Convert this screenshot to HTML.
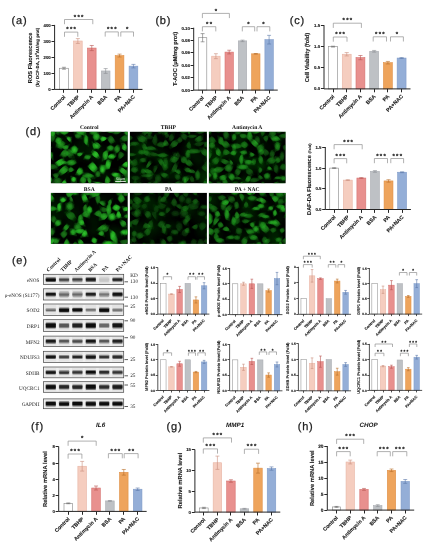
<!DOCTYPE html>
<html><head><meta charset="utf-8"><style>
html,body{margin:0;padding:0;background:#fff;width:427px;height:550px;overflow:hidden}
svg{display:block;text-rendering:geometricPrecision}
.tk{font-family:"Liberation Sans",Arial,sans-serif;font-weight:bold;fill:#1a1a1a;stroke:#1a1a1a;stroke-width:0.14px}
.yl{font-family:"Liberation Sans",Arial,sans-serif;font-weight:bold;fill:#1a1a1a;stroke:#1a1a1a;stroke-width:0.1px}
.st{font-family:"Liberation Sans",Arial,sans-serif;font-weight:bold;fill:#111;stroke:#111;stroke-width:0.2px}
.pl{font-family:"Liberation Sans",Arial,sans-serif;fill:#222;stroke:#222;stroke-width:0.25px;letter-spacing:0.8px}
.ti{font-family:"Liberation Sans",Arial,sans-serif;font-weight:bold;font-style:italic;fill:#111}
.ml{font-family:"Liberation Serif","Times New Roman",serif;font-weight:bold;fill:#111}
.bl{font-family:"Liberation Serif","Times New Roman",serif;fill:#222}
</style></head><body>
<svg width="427" height="550" viewBox="0 0 427 550">
<defs><filter id="blur1" x="-10%" y="-10%" width="120%" height="120%"><feGaussianBlur stdDeviation="0.5"/></filter><filter id="blur4" x="-10%" y="-10%" width="120%" height="120%"><feGaussianBlur stdDeviation="0.9"/></filter><filter id="blur3" x="-10%" y="-10%" width="120%" height="120%"><feGaussianBlur stdDeviation="2.5"/></filter><radialGradient id="cg"><stop offset="0" stop-color="#32c42e"/><stop offset="0.55" stop-color="#24ac22" stop-opacity="0.95"/><stop offset="1" stop-color="#168416" stop-opacity="0.25"/></radialGradient><filter id="blur2" x="-20%" y="-50%" width="140%" height="200%"><feGaussianBlur stdDeviation="0.55"/></filter></defs>
<rect width="427" height="550" fill="#fff"/>
<text x="11.60" y="23.50" font-size="11.00" class="pl">(a)</text>
<text x="155.40" y="23.80" font-size="11.00" class="pl">(b)</text>
<text x="289.70" y="23.80" font-size="11.00" class="pl">(c)</text>
<text x="25.60" y="134.70" font-size="11.00" class="pl">(d)</text>
<text x="11.90" y="264.40" font-size="11.00" class="pl">(e)</text>
<text x="31.10" y="429.60" font-size="11.00" class="pl">(f)</text>
<text x="166.60" y="429.60" font-size="11.00" class="pl">(g)</text>
<text x="297.70" y="429.70" font-size="11.00" class="pl">(h)</text>
<rect x="59.60" y="68.25" width="8.70" height="21.15" fill="#ffffff" stroke="#858585" stroke-width="0.60"/>
<path d="M63.95 69.21V67.29M61.93 67.29H65.97M61.93 69.21H65.97" stroke="#6a6a6a" stroke-width="0.6" fill="none"/>
<rect x="73.50" y="41.00" width="8.70" height="48.40" fill="#f5cdbf" stroke="#e8b4a4" stroke-width="0.60"/>
<path d="M77.85 43.41V38.60M75.83 38.60H79.87M75.83 43.41H79.87" stroke="#c98f7e" stroke-width="0.6" fill="none"/>
<rect x="87.40" y="48.06" width="8.70" height="41.34" fill="#e8908e" stroke="#d67270" stroke-width="0.60"/>
<path d="M91.75 50.62V45.49M89.73 45.49H93.77M89.73 50.62H93.77" stroke="#b85553" stroke-width="0.6" fill="none"/>
<rect x="101.30" y="70.97" width="8.70" height="18.43" fill="#bec1c5" stroke="#a9acb1" stroke-width="0.60"/>
<path d="M105.65 73.38V68.57M103.63 68.57H107.67M103.63 73.38H107.67" stroke="#8a8d92" stroke-width="0.6" fill="none"/>
<rect x="115.20" y="55.59" width="8.70" height="33.81" fill="#eea45c" stroke="#e09046" stroke-width="0.60"/>
<path d="M119.55 57.03V54.14M117.53 54.14H121.57M117.53 57.03H121.57" stroke="#b86e2a" stroke-width="0.6" fill="none"/>
<rect x="129.10" y="66.16" width="8.70" height="23.24" fill="#94aed7" stroke="#7f9bc9" stroke-width="0.60"/>
<path d="M133.45 67.93V64.40M131.43 64.40H135.47M131.43 67.93H135.47" stroke="#5c78aa" stroke-width="0.6" fill="none"/>
<path d="M54.60 24.90V89.40H142.48" stroke="#262626" stroke-width="1.00" fill="none"/>
<path d="M51.50 89.50H54.60" stroke="#262626" stroke-width="1.00"/>
<text x="50.70" y="90.95" font-size="4.30" class="tk" text-anchor="end">0</text>
<path d="M51.50 73.50H54.60" stroke="#262626" stroke-width="1.00"/>
<text x="50.70" y="74.92" font-size="4.30" class="tk" text-anchor="end">100</text>
<path d="M51.50 57.50H54.60" stroke="#262626" stroke-width="1.00"/>
<text x="50.70" y="58.90" font-size="4.30" class="tk" text-anchor="end">200</text>
<path d="M51.50 41.50H54.60" stroke="#262626" stroke-width="1.00"/>
<text x="50.70" y="42.87" font-size="4.30" class="tk" text-anchor="end">300</text>
<path d="M51.50 25.50H54.60" stroke="#262626" stroke-width="1.00"/>
<text x="50.70" y="26.85" font-size="4.30" class="tk" text-anchor="end">400</text>
<path d="M63.50 89.40V92.80" stroke="#262626" stroke-width="1.00"/>
<text transform="translate(65.75 97.40) rotate(-45)" font-size="5.30" class="tk" text-anchor="end">Control</text>
<path d="M77.50 89.40V92.80" stroke="#262626" stroke-width="1.00"/>
<text transform="translate(79.65 97.40) rotate(-45)" font-size="5.30" class="tk" text-anchor="end">TBHP</text>
<path d="M91.50 89.40V92.80" stroke="#262626" stroke-width="1.00"/>
<text transform="translate(93.55 97.40) rotate(-45)" font-size="5.30" class="tk" text-anchor="end">Antimycin A</text>
<path d="M105.50 89.40V92.80" stroke="#262626" stroke-width="1.00"/>
<text transform="translate(107.45 97.40) rotate(-45)" font-size="5.30" class="tk" text-anchor="end">BSA</text>
<path d="M119.50 89.40V92.80" stroke="#262626" stroke-width="1.00"/>
<text transform="translate(121.35 97.40) rotate(-45)" font-size="5.30" class="tk" text-anchor="end">PA</text>
<path d="M133.50 89.40V92.80" stroke="#262626" stroke-width="1.00"/>
<text transform="translate(135.25 97.40) rotate(-45)" font-size="5.30" class="tk" text-anchor="end">PA+NAC</text>
<path d="M64.50 24.20V19.50H92.80V24.20" stroke="#8f8f8f" stroke-width="0.7" fill="none"/>
<text x="79.30" y="18.70" font-size="6.00" class="st" text-anchor="middle" letter-spacing="1.30">***</text>
<path d="M64.50 36.80V32.10H77.80V36.80" stroke="#8f8f8f" stroke-width="0.7" fill="none"/>
<text x="71.80" y="31.30" font-size="6.00" class="st" text-anchor="middle" letter-spacing="1.30">***</text>
<path d="M105.20 36.60V31.90H118.30V36.60" stroke="#8f8f8f" stroke-width="0.7" fill="none"/>
<text x="112.40" y="31.10" font-size="6.00" class="st" text-anchor="middle" letter-spacing="1.30">***</text>
<path d="M120.80 36.60V31.90H133.50V36.60" stroke="#8f8f8f" stroke-width="0.7" fill="none"/>
<text x="127.80" y="31.10" font-size="6.00" class="st" text-anchor="middle" letter-spacing="1.30">*</text>
<text transform="translate(32.00 57.90) rotate(-90)" font-size="5.70" class="yl" text-anchor="middle">ROS Fluorescence</text>
<text transform="translate(38.70 57.30) rotate(-90)" font-size="4.40" class="yl" text-anchor="middle">(by DCF-DA, 10<tspan dy="-1.3" font-size="3.0">3</tspan><tspan dy="1.3">AU/mg prot)</tspan></text>
<rect x="198.40" y="37.71" width="8.40" height="52.39" fill="#ffffff" stroke="#858585" stroke-width="0.60"/>
<path d="M202.60 41.80V33.62M200.64 33.62H204.56M200.64 41.80H204.56" stroke="#6a6a6a" stroke-width="0.6" fill="none"/>
<rect x="211.70" y="56.19" width="8.40" height="33.91" fill="#f5cdbf" stroke="#e8b4a4" stroke-width="0.60"/>
<path d="M215.90 58.67V53.71M213.94 53.71H217.86M213.94 58.67H217.86" stroke="#c98f7e" stroke-width="0.6" fill="none"/>
<rect x="225.00" y="52.09" width="8.40" height="38.01" fill="#e8908e" stroke="#d67270" stroke-width="0.60"/>
<path d="M229.20 53.95V50.23M227.24 50.23H231.16M227.24 53.95H231.16" stroke="#b85553" stroke-width="0.6" fill="none"/>
<rect x="238.30" y="40.87" width="8.40" height="49.23" fill="#bec1c5" stroke="#a9acb1" stroke-width="0.60"/>
<path d="M242.50 41.62V40.13M240.54 40.13H244.46M240.54 41.62H244.46" stroke="#8a8d92" stroke-width="0.6" fill="none"/>
<rect x="251.60" y="53.83" width="8.40" height="36.27" fill="#eea45c" stroke="#e09046" stroke-width="0.60"/>
<path d="M255.80 54.14V53.52M253.84 53.52H257.76M253.84 54.14H257.76" stroke="#b86e2a" stroke-width="0.6" fill="none"/>
<rect x="264.90" y="39.69" width="8.40" height="50.41" fill="#94aed7" stroke="#7f9bc9" stroke-width="0.60"/>
<path d="M269.10 44.03V35.35M267.14 35.35H271.06M267.14 44.03H271.06" stroke="#5c78aa" stroke-width="0.6" fill="none"/>
<path d="M193.70 27.70V90.10H277.75" stroke="#262626" stroke-width="1.00" fill="none"/>
<path d="M190.60 90.50H193.70" stroke="#262626" stroke-width="1.00"/>
<text x="189.80" y="91.65" font-size="4.30" class="tk" text-anchor="end">0.00</text>
<path d="M190.60 77.50H193.70" stroke="#262626" stroke-width="1.00"/>
<text x="189.80" y="79.25" font-size="4.30" class="tk" text-anchor="end">0.02</text>
<path d="M190.60 65.50H193.70" stroke="#262626" stroke-width="1.00"/>
<text x="189.80" y="66.85" font-size="4.30" class="tk" text-anchor="end">0.04</text>
<path d="M190.60 52.50H193.70" stroke="#262626" stroke-width="1.00"/>
<text x="189.80" y="54.45" font-size="4.30" class="tk" text-anchor="end">0.06</text>
<path d="M190.60 40.50H193.70" stroke="#262626" stroke-width="1.00"/>
<text x="189.80" y="42.05" font-size="4.30" class="tk" text-anchor="end">0.08</text>
<path d="M190.60 28.50H193.70" stroke="#262626" stroke-width="1.00"/>
<text x="189.80" y="29.65" font-size="4.30" class="tk" text-anchor="end">0.10</text>
<path d="M202.50 90.10V93.50" stroke="#262626" stroke-width="1.00"/>
<text transform="translate(204.40 98.10) rotate(-45)" font-size="5.30" class="tk" text-anchor="end">Control</text>
<path d="M215.50 90.10V93.50" stroke="#262626" stroke-width="1.00"/>
<text transform="translate(217.70 98.10) rotate(-45)" font-size="5.30" class="tk" text-anchor="end">TBHP</text>
<path d="M229.50 90.10V93.50" stroke="#262626" stroke-width="1.00"/>
<text transform="translate(231.00 98.10) rotate(-45)" font-size="5.30" class="tk" text-anchor="end">Antimycin A</text>
<path d="M242.50 90.10V93.50" stroke="#262626" stroke-width="1.00"/>
<text transform="translate(244.30 98.10) rotate(-45)" font-size="5.30" class="tk" text-anchor="end">BSA</text>
<path d="M255.50 90.10V93.50" stroke="#262626" stroke-width="1.00"/>
<text transform="translate(257.60 98.10) rotate(-45)" font-size="5.30" class="tk" text-anchor="end">PA</text>
<path d="M269.50 90.10V93.50" stroke="#262626" stroke-width="1.00"/>
<text transform="translate(270.90 98.10) rotate(-45)" font-size="5.30" class="tk" text-anchor="end">PA+NAC</text>
<path d="M202.40 18.10V13.40H229.40V18.10" stroke="#8f8f8f" stroke-width="0.7" fill="none"/>
<text x="216.55" y="12.60" font-size="6.00" class="st" text-anchor="middle" letter-spacing="1.30">*</text>
<path d="M202.40 31.40V26.70H215.80V31.40" stroke="#8f8f8f" stroke-width="0.7" fill="none"/>
<text x="209.75" y="25.90" font-size="6.00" class="st" text-anchor="middle" letter-spacing="1.30">**</text>
<path d="M242.30 31.40V26.70H254.70V31.40" stroke="#8f8f8f" stroke-width="0.7" fill="none"/>
<text x="249.15" y="25.90" font-size="6.00" class="st" text-anchor="middle" letter-spacing="1.30">*</text>
<path d="M257.00 31.40V26.70H269.80V31.40" stroke="#8f8f8f" stroke-width="0.7" fill="none"/>
<text x="264.05" y="25.90" font-size="6.00" class="st" text-anchor="middle" letter-spacing="1.30">*</text>
<text transform="translate(177.30 58.90) rotate(-90)" font-size="5.70" class="yl" text-anchor="middle">T-AOC (μM/mg prot)</text>
<rect x="328.55" y="46.63" width="8.90" height="42.27" fill="#ffffff" stroke="#858585" stroke-width="0.60"/>
<path d="M333.00 47.06V46.21M330.93 46.21H335.07M330.93 47.06H335.07" stroke="#6a6a6a" stroke-width="0.6" fill="none"/>
<rect x="342.27" y="54.24" width="8.90" height="34.66" fill="#f5cdbf" stroke="#e8b4a4" stroke-width="0.60"/>
<path d="M346.72 55.93V52.55M344.65 52.55H348.79M344.65 55.93H348.79" stroke="#c98f7e" stroke-width="0.6" fill="none"/>
<rect x="355.99" y="57.62" width="8.90" height="31.28" fill="#e8908e" stroke="#d67270" stroke-width="0.60"/>
<path d="M360.44 59.74V55.51M358.37 55.51H362.51M358.37 59.74H362.51" stroke="#b85553" stroke-width="0.6" fill="none"/>
<rect x="369.71" y="51.28" width="8.90" height="37.62" fill="#bec1c5" stroke="#a9acb1" stroke-width="0.60"/>
<path d="M374.16 52.13V50.44M372.09 50.44H376.23M372.09 52.13H376.23" stroke="#8a8d92" stroke-width="0.6" fill="none"/>
<rect x="383.43" y="62.69" width="8.90" height="26.21" fill="#eea45c" stroke="#e09046" stroke-width="0.60"/>
<path d="M387.88 63.96V61.43M385.81 61.43H389.95M385.81 63.96H389.95" stroke="#b86e2a" stroke-width="0.6" fill="none"/>
<rect x="397.15" y="58.05" width="8.90" height="30.85" fill="#94aed7" stroke="#7f9bc9" stroke-width="0.60"/>
<path d="M401.60 58.47V57.62M399.53 57.62H403.67M399.53 58.47H403.67" stroke="#5c78aa" stroke-width="0.6" fill="none"/>
<path d="M324.00 25.10V88.90H410.52" stroke="#262626" stroke-width="1.00" fill="none"/>
<path d="M320.90 88.50H324.00" stroke="#262626" stroke-width="1.00"/>
<text x="320.10" y="90.45" font-size="4.30" class="tk" text-anchor="end">0.0</text>
<path d="M320.90 67.50H324.00" stroke="#262626" stroke-width="1.00"/>
<text x="320.10" y="69.31" font-size="4.30" class="tk" text-anchor="end">0.5</text>
<path d="M320.90 46.50H324.00" stroke="#262626" stroke-width="1.00"/>
<text x="320.10" y="48.18" font-size="4.30" class="tk" text-anchor="end">1.0</text>
<path d="M320.90 25.50H324.00" stroke="#262626" stroke-width="1.00"/>
<text x="320.10" y="27.05" font-size="4.30" class="tk" text-anchor="end">1.5</text>
<path d="M333.50 88.90V92.30" stroke="#262626" stroke-width="1.00"/>
<text transform="translate(334.80 96.90) rotate(-45)" font-size="5.30" class="tk" text-anchor="end">Control</text>
<path d="M346.50 88.90V92.30" stroke="#262626" stroke-width="1.00"/>
<text transform="translate(348.52 96.90) rotate(-45)" font-size="5.30" class="tk" text-anchor="end">TBHP</text>
<path d="M360.50 88.90V92.30" stroke="#262626" stroke-width="1.00"/>
<text transform="translate(362.24 96.90) rotate(-45)" font-size="5.30" class="tk" text-anchor="end">Antimycin A</text>
<path d="M374.50 88.90V92.30" stroke="#262626" stroke-width="1.00"/>
<text transform="translate(375.96 96.90) rotate(-45)" font-size="5.30" class="tk" text-anchor="end">BSA</text>
<path d="M387.50 88.90V92.30" stroke="#262626" stroke-width="1.00"/>
<text transform="translate(389.68 96.90) rotate(-45)" font-size="5.30" class="tk" text-anchor="end">PA</text>
<path d="M401.50 88.90V92.30" stroke="#262626" stroke-width="1.00"/>
<text transform="translate(403.40 96.90) rotate(-45)" font-size="5.30" class="tk" text-anchor="end">PA+NAC</text>
<path d="M333.30 27.90V23.20H361.40V27.90" stroke="#8f8f8f" stroke-width="0.7" fill="none"/>
<text x="348.00" y="22.40" font-size="6.00" class="st" text-anchor="middle" letter-spacing="1.30">***</text>
<path d="M333.30 41.70V37.00H347.00V41.70" stroke="#8f8f8f" stroke-width="0.7" fill="none"/>
<text x="340.80" y="36.20" font-size="6.00" class="st" text-anchor="middle" letter-spacing="1.30">***</text>
<path d="M373.20 41.50V36.80H386.50V41.50" stroke="#8f8f8f" stroke-width="0.7" fill="none"/>
<text x="380.50" y="36.00" font-size="6.00" class="st" text-anchor="middle" letter-spacing="1.30">***</text>
<path d="M390.50 41.50V36.80H403.40V41.50" stroke="#8f8f8f" stroke-width="0.7" fill="none"/>
<text x="397.60" y="36.00" font-size="6.00" class="st" text-anchor="middle" letter-spacing="1.30">*</text>
<text transform="translate(309.40 57.60) rotate(-90)" font-size="5.70" class="yl" text-anchor="middle">Cell Viability (fold)</text>
<rect x="329.75" y="168.10" width="8.90" height="41.40" fill="#ffffff" stroke="#858585" stroke-width="0.60"/>
<path d="M334.20 168.51V167.69M332.13 167.69H336.27M332.13 168.51H336.27" stroke="#6a6a6a" stroke-width="0.6" fill="none"/>
<rect x="343.33" y="180.11" width="8.90" height="29.39" fill="#f5cdbf" stroke="#e8b4a4" stroke-width="0.60"/>
<path d="M347.78 180.52V179.69M345.71 179.69H349.85M345.71 180.52H349.85" stroke="#c98f7e" stroke-width="0.6" fill="none"/>
<rect x="356.91" y="178.04" width="8.90" height="31.46" fill="#e8908e" stroke="#d67270" stroke-width="0.60"/>
<path d="M361.36 178.45V177.62M359.29 177.62H363.43M359.29 178.45H363.43" stroke="#b85553" stroke-width="0.6" fill="none"/>
<rect x="370.49" y="171.41" width="8.90" height="38.09" fill="#bec1c5" stroke="#a9acb1" stroke-width="0.60"/>
<path d="M374.94 172.24V170.58M372.87 170.58H377.01M372.87 172.24H377.01" stroke="#8a8d92" stroke-width="0.6" fill="none"/>
<rect x="384.07" y="180.93" width="8.90" height="28.57" fill="#eea45c" stroke="#e09046" stroke-width="0.60"/>
<path d="M388.52 182.18V179.69M386.45 179.69H390.59M386.45 182.18H390.59" stroke="#b86e2a" stroke-width="0.6" fill="none"/>
<rect x="397.65" y="172.24" width="8.90" height="37.26" fill="#94aed7" stroke="#7f9bc9" stroke-width="0.60"/>
<path d="M402.10 172.65V171.83M400.03 171.83H404.17M400.03 172.65H404.17" stroke="#5c78aa" stroke-width="0.6" fill="none"/>
<path d="M325.30 147.00V209.50H410.93" stroke="#262626" stroke-width="1.00" fill="none"/>
<path d="M322.20 209.50H325.30" stroke="#262626" stroke-width="1.00"/>
<text x="321.40" y="211.05" font-size="4.30" class="tk" text-anchor="end">0.0</text>
<path d="M322.20 188.50H325.30" stroke="#262626" stroke-width="1.00"/>
<text x="321.40" y="190.35" font-size="4.30" class="tk" text-anchor="end">0.5</text>
<path d="M322.20 168.50H325.30" stroke="#262626" stroke-width="1.00"/>
<text x="321.40" y="169.65" font-size="4.30" class="tk" text-anchor="end">1.0</text>
<path d="M322.20 147.50H325.30" stroke="#262626" stroke-width="1.00"/>
<text x="321.40" y="148.95" font-size="4.30" class="tk" text-anchor="end">1.5</text>
<path d="M334.50 209.50V212.90" stroke="#262626" stroke-width="1.00"/>
<text transform="translate(336.00 217.50) rotate(-45)" font-size="5.30" class="tk" text-anchor="end">Control</text>
<path d="M347.50 209.50V212.90" stroke="#262626" stroke-width="1.00"/>
<text transform="translate(349.58 217.50) rotate(-45)" font-size="5.30" class="tk" text-anchor="end">TBHP</text>
<path d="M361.50 209.50V212.90" stroke="#262626" stroke-width="1.00"/>
<text transform="translate(363.16 217.50) rotate(-45)" font-size="5.30" class="tk" text-anchor="end">Antimycin A</text>
<path d="M374.50 209.50V212.90" stroke="#262626" stroke-width="1.00"/>
<text transform="translate(376.74 217.50) rotate(-45)" font-size="5.30" class="tk" text-anchor="end">BSA</text>
<path d="M388.50 209.50V212.90" stroke="#262626" stroke-width="1.00"/>
<text transform="translate(390.32 217.50) rotate(-45)" font-size="5.30" class="tk" text-anchor="end">PA</text>
<path d="M402.50 209.50V212.90" stroke="#262626" stroke-width="1.00"/>
<text transform="translate(403.90 217.50) rotate(-45)" font-size="5.30" class="tk" text-anchor="end">PA+NAC</text>
<path d="M334.10 149.30V144.60H362.20V149.30" stroke="#8f8f8f" stroke-width="0.7" fill="none"/>
<text x="348.80" y="143.80" font-size="6.00" class="st" text-anchor="middle" letter-spacing="1.30">***</text>
<path d="M334.10 163.30V158.60H346.70V163.30" stroke="#8f8f8f" stroke-width="0.7" fill="none"/>
<text x="341.05" y="157.80" font-size="6.00" class="st" text-anchor="middle" letter-spacing="1.30">***</text>
<path d="M374.40 163.20V158.50H387.50V163.20" stroke="#8f8f8f" stroke-width="0.7" fill="none"/>
<text x="381.60" y="157.70" font-size="6.00" class="st" text-anchor="middle" letter-spacing="1.30">***</text>
<path d="M390.80 163.20V158.50H403.60V163.20" stroke="#8f8f8f" stroke-width="0.7" fill="none"/>
<text x="397.85" y="157.70" font-size="6.00" class="st" text-anchor="middle" letter-spacing="1.30">***</text>
<text transform="translate(311.00 185.00) rotate(-90)" font-size="5.70" class="yl" text-anchor="middle">DAF-DA Fluorescence</text>
<text transform="translate(310.60 148.60) rotate(-90)" font-size="3.60" class="yl" text-anchor="middle">(Fold)</text>
<rect x="160.55" y="283.30" width="5.50" height="30.80" fill="#ffffff" stroke="#858585" stroke-width="0.50"/>
<rect x="168.71" y="294.08" width="5.50" height="20.02" fill="#f5cdbf" stroke="#e8b4a4" stroke-width="0.50"/>
<path d="M171.46 294.39V293.77M170.14 293.77H172.78M170.14 294.39H172.78" stroke="#c98f7e" stroke-width="0.6" fill="none"/>
<rect x="176.87" y="289.46" width="5.50" height="24.64" fill="#e8908e" stroke="#d67270" stroke-width="0.50"/>
<path d="M179.62 292.54V286.38M178.30 286.38H180.94M178.30 292.54H180.94" stroke="#b85553" stroke-width="0.6" fill="none"/>
<rect x="185.03" y="283.30" width="5.50" height="30.80" fill="#bec1c5" stroke="#a9acb1" stroke-width="0.50"/>
<rect x="193.19" y="299.93" width="5.50" height="14.17" fill="#eea45c" stroke="#e09046" stroke-width="0.50"/>
<path d="M195.94 303.01V296.85M194.62 296.85H197.26M194.62 303.01H197.26" stroke="#b86e2a" stroke-width="0.6" fill="none"/>
<rect x="201.35" y="285.76" width="5.50" height="28.34" fill="#94aed7" stroke="#7f9bc9" stroke-width="0.50"/>
<path d="M204.10 288.84V282.68M202.78 282.68H205.42M202.78 288.84H205.42" stroke="#5c78aa" stroke-width="0.6" fill="none"/>
<path d="M157.80 267.50V314.10H209.40" stroke="#262626" stroke-width="0.80" fill="none"/>
<path d="M155.70 314.50H157.80" stroke="#262626" stroke-width="0.80"/>
<text x="155.10" y="315.25" font-size="3.20" class="tk" text-anchor="end">0.0</text>
<path d="M155.70 298.50H157.80" stroke="#262626" stroke-width="0.80"/>
<text x="155.10" y="299.85" font-size="3.20" class="tk" text-anchor="end">0.5</text>
<path d="M155.70 283.50H157.80" stroke="#262626" stroke-width="0.80"/>
<text x="155.10" y="284.45" font-size="3.20" class="tk" text-anchor="end">1.0</text>
<path d="M155.70 267.50H157.80" stroke="#262626" stroke-width="0.80"/>
<text x="155.10" y="269.05" font-size="3.20" class="tk" text-anchor="end">1.5</text>
<path d="M163.50 314.10V316.10" stroke="#262626" stroke-width="0.80"/>
<text transform="translate(164.20 320.90) rotate(-45)" font-size="3.75" class="tk" text-anchor="end">Control</text>
<path d="M171.50 314.10V316.10" stroke="#262626" stroke-width="0.80"/>
<text transform="translate(172.36 320.90) rotate(-45)" font-size="3.75" class="tk" text-anchor="end">TBHP</text>
<path d="M179.50 314.10V316.10" stroke="#262626" stroke-width="0.80"/>
<text transform="translate(180.52 320.90) rotate(-45)" font-size="3.75" class="tk" text-anchor="end">Antimycin A</text>
<path d="M187.50 314.10V316.10" stroke="#262626" stroke-width="0.80"/>
<text transform="translate(188.68 320.90) rotate(-45)" font-size="3.75" class="tk" text-anchor="end">BSA</text>
<path d="M195.50 314.10V316.10" stroke="#262626" stroke-width="0.80"/>
<text transform="translate(196.84 320.90) rotate(-45)" font-size="3.75" class="tk" text-anchor="end">PA</text>
<path d="M204.50 314.10V316.10" stroke="#262626" stroke-width="0.80"/>
<text transform="translate(205.00 320.90) rotate(-45)" font-size="3.75" class="tk" text-anchor="end">PA+NAC</text>
<path d="M163.30 279.70V276.70H171.60V279.70" stroke="#8f8f8f" stroke-width="0.7" fill="none"/>
<text x="168.10" y="276.48" font-size="4.50" class="st" text-anchor="middle" letter-spacing="1.30">*</text>
<path d="M188.00 279.70V276.70H195.50V279.70" stroke="#8f8f8f" stroke-width="0.7" fill="none"/>
<text x="192.40" y="276.48" font-size="4.50" class="st" text-anchor="middle" letter-spacing="1.30">**</text>
<path d="M197.00 279.70V276.70H204.50V279.70" stroke="#8f8f8f" stroke-width="0.7" fill="none"/>
<text x="201.40" y="276.48" font-size="4.50" class="st" text-anchor="middle" letter-spacing="1.30">**</text>
<text transform="translate(147.90 290.50) rotate(-90)" font-size="4.00" class="yl" text-anchor="middle">eNOS Protein level (Fold)</text>
<rect x="232.35" y="283.80" width="5.50" height="30.80" fill="#ffffff" stroke="#858585" stroke-width="0.50"/>
<rect x="240.73" y="283.80" width="5.50" height="30.80" fill="#f5cdbf" stroke="#e8b4a4" stroke-width="0.50"/>
<path d="M243.48 285.34V282.26M242.16 282.26H244.80M242.16 285.34H244.80" stroke="#c98f7e" stroke-width="0.6" fill="none"/>
<rect x="249.11" y="283.80" width="5.50" height="30.80" fill="#e8908e" stroke="#d67270" stroke-width="0.50"/>
<path d="M251.86 288.42V279.18M250.54 279.18H253.18M250.54 288.42H253.18" stroke="#b85553" stroke-width="0.6" fill="none"/>
<rect x="257.49" y="283.80" width="5.50" height="30.80" fill="#bec1c5" stroke="#a9acb1" stroke-width="0.50"/>
<rect x="265.87" y="290.58" width="5.50" height="24.02" fill="#eea45c" stroke="#e09046" stroke-width="0.50"/>
<path d="M268.62 292.12V289.04M267.30 289.04H269.94M267.30 292.12H269.94" stroke="#b86e2a" stroke-width="0.6" fill="none"/>
<rect x="274.25" y="278.56" width="5.50" height="36.04" fill="#94aed7" stroke="#7f9bc9" stroke-width="0.50"/>
<path d="M277.00 284.72V272.40M275.68 272.40H278.32M275.68 284.72H278.32" stroke="#5c78aa" stroke-width="0.6" fill="none"/>
<path d="M229.60 268.00V314.60H282.45" stroke="#262626" stroke-width="0.80" fill="none"/>
<path d="M227.50 314.50H229.60" stroke="#262626" stroke-width="0.80"/>
<text x="226.90" y="315.75" font-size="3.20" class="tk" text-anchor="end">0.0</text>
<path d="M227.50 299.50H229.60" stroke="#262626" stroke-width="0.80"/>
<text x="226.90" y="300.35" font-size="3.20" class="tk" text-anchor="end">0.5</text>
<path d="M227.50 283.50H229.60" stroke="#262626" stroke-width="0.80"/>
<text x="226.90" y="284.95" font-size="3.20" class="tk" text-anchor="end">1.0</text>
<path d="M227.50 268.50H229.60" stroke="#262626" stroke-width="0.80"/>
<text x="226.90" y="269.55" font-size="3.20" class="tk" text-anchor="end">1.5</text>
<path d="M235.50 314.60V316.60" stroke="#262626" stroke-width="0.80"/>
<text transform="translate(236.00 321.40) rotate(-45)" font-size="3.75" class="tk" text-anchor="end">Control</text>
<path d="M243.50 314.60V316.60" stroke="#262626" stroke-width="0.80"/>
<text transform="translate(244.38 321.40) rotate(-45)" font-size="3.75" class="tk" text-anchor="end">TBHP</text>
<path d="M251.50 314.60V316.60" stroke="#262626" stroke-width="0.80"/>
<text transform="translate(252.76 321.40) rotate(-45)" font-size="3.75" class="tk" text-anchor="end">Antimycin A</text>
<path d="M260.50 314.60V316.60" stroke="#262626" stroke-width="0.80"/>
<text transform="translate(261.14 321.40) rotate(-45)" font-size="3.75" class="tk" text-anchor="end">BSA</text>
<path d="M268.50 314.60V316.60" stroke="#262626" stroke-width="0.80"/>
<text transform="translate(269.52 321.40) rotate(-45)" font-size="3.75" class="tk" text-anchor="end">PA</text>
<path d="M277.50 314.60V316.60" stroke="#262626" stroke-width="0.80"/>
<text transform="translate(277.90 321.40) rotate(-45)" font-size="3.75" class="tk" text-anchor="end">PA+NAC</text>
<text transform="translate(219.70 291.00) rotate(-90)" font-size="4.00" class="yl" text-anchor="middle">p-eNOS Protein level (Fold)</text>
<rect x="300.95" y="298.60" width="5.50" height="15.70" fill="#ffffff" stroke="#858585" stroke-width="0.50"/>
<rect x="309.33" y="275.83" width="5.50" height="38.47" fill="#f5cdbf" stroke="#e8b4a4" stroke-width="0.50"/>
<path d="M312.08 282.12V269.56M310.76 269.56H313.40M310.76 282.12H313.40" stroke="#c98f7e" stroke-width="0.6" fill="none"/>
<rect x="317.71" y="278.66" width="5.50" height="35.64" fill="#e8908e" stroke="#d67270" stroke-width="0.50"/>
<path d="M320.46 279.45V277.88M319.14 277.88H321.78M319.14 279.45H321.78" stroke="#b85553" stroke-width="0.6" fill="none"/>
<rect x="326.09" y="298.60" width="5.50" height="15.70" fill="#bec1c5" stroke="#a9acb1" stroke-width="0.50"/>
<rect x="334.47" y="281.02" width="5.50" height="33.28" fill="#eea45c" stroke="#e09046" stroke-width="0.50"/>
<path d="M337.22 282.90V279.13M335.90 279.13H338.54M335.90 282.90H338.54" stroke="#b86e2a" stroke-width="0.6" fill="none"/>
<rect x="342.85" y="292.32" width="5.50" height="21.98" fill="#94aed7" stroke="#7f9bc9" stroke-width="0.50"/>
<path d="M345.60 294.20V290.44M344.28 290.44H346.92M344.28 294.20H346.92" stroke="#5c78aa" stroke-width="0.6" fill="none"/>
<path d="M298.40 266.80V314.30H351.05" stroke="#262626" stroke-width="0.80" fill="none"/>
<path d="M296.30 314.50H298.40" stroke="#262626" stroke-width="0.80"/>
<text x="295.70" y="315.45" font-size="3.20" class="tk" text-anchor="end">0</text>
<path d="M296.30 298.50H298.40" stroke="#262626" stroke-width="0.80"/>
<text x="295.70" y="299.75" font-size="3.20" class="tk" text-anchor="end">1</text>
<path d="M296.30 282.50H298.40" stroke="#262626" stroke-width="0.80"/>
<text x="295.70" y="284.05" font-size="3.20" class="tk" text-anchor="end">2</text>
<path d="M296.30 267.50H298.40" stroke="#262626" stroke-width="0.80"/>
<text x="295.70" y="268.35" font-size="3.20" class="tk" text-anchor="end">3</text>
<path d="M303.50 314.30V316.30" stroke="#262626" stroke-width="0.80"/>
<text transform="translate(304.60 321.10) rotate(-45)" font-size="3.75" class="tk" text-anchor="end">Control</text>
<path d="M312.50 314.30V316.30" stroke="#262626" stroke-width="0.80"/>
<text transform="translate(312.98 321.10) rotate(-45)" font-size="3.75" class="tk" text-anchor="end">TBHP</text>
<path d="M320.50 314.30V316.30" stroke="#262626" stroke-width="0.80"/>
<text transform="translate(321.36 321.10) rotate(-45)" font-size="3.75" class="tk" text-anchor="end">Antimycin A</text>
<path d="M328.50 314.30V316.30" stroke="#262626" stroke-width="0.80"/>
<text transform="translate(329.74 321.10) rotate(-45)" font-size="3.75" class="tk" text-anchor="end">BSA</text>
<path d="M337.50 314.30V316.30" stroke="#262626" stroke-width="0.80"/>
<text transform="translate(338.12 321.10) rotate(-45)" font-size="3.75" class="tk" text-anchor="end">PA</text>
<path d="M345.50 314.30V316.30" stroke="#262626" stroke-width="0.80"/>
<text transform="translate(346.50 321.10) rotate(-45)" font-size="3.75" class="tk" text-anchor="end">PA+NAC</text>
<path d="M303.40 259.20V256.20H320.30V259.20" stroke="#8f8f8f" stroke-width="0.7" fill="none"/>
<text x="312.50" y="255.97" font-size="4.50" class="st" text-anchor="middle" letter-spacing="1.30">***</text>
<path d="M303.40 267.60V264.60H312.20V267.60" stroke="#8f8f8f" stroke-width="0.7" fill="none"/>
<text x="308.45" y="264.38" font-size="4.50" class="st" text-anchor="middle" letter-spacing="1.30">***</text>
<path d="M328.30 267.60V264.60H335.80V267.60" stroke="#8f8f8f" stroke-width="0.7" fill="none"/>
<text x="332.70" y="264.38" font-size="4.50" class="st" text-anchor="middle" letter-spacing="1.30">**</text>
<path d="M338.00 267.60V264.60H344.60V267.60" stroke="#8f8f8f" stroke-width="0.7" fill="none"/>
<text x="341.95" y="264.38" font-size="4.50" class="st" text-anchor="middle" letter-spacing="1.30">*</text>
<text transform="translate(288.50 290.25) rotate(-90)" font-size="4.00" class="yl" text-anchor="middle">SOD2 Protein level (Fold)</text>
<rect x="371.85" y="283.63" width="5.50" height="30.47" fill="#ffffff" stroke="#858585" stroke-width="0.50"/>
<rect x="380.27" y="289.73" width="5.50" height="24.37" fill="#f5cdbf" stroke="#e8b4a4" stroke-width="0.50"/>
<path d="M383.02 293.38V286.07M381.70 286.07H384.34M381.70 293.38H384.34" stroke="#c98f7e" stroke-width="0.6" fill="none"/>
<rect x="388.69" y="285.16" width="5.50" height="28.94" fill="#e8908e" stroke="#d67270" stroke-width="0.50"/>
<path d="M391.44 289.73V280.59M390.12 280.59H392.76M390.12 289.73H392.76" stroke="#b85553" stroke-width="0.6" fill="none"/>
<rect x="397.11" y="283.63" width="5.50" height="30.47" fill="#bec1c5" stroke="#a9acb1" stroke-width="0.50"/>
<rect x="405.53" y="296.43" width="5.50" height="17.67" fill="#eea45c" stroke="#e09046" stroke-width="0.50"/>
<path d="M408.28 297.34V295.52M406.96 295.52H409.60M406.96 297.34H409.60" stroke="#b86e2a" stroke-width="0.6" fill="none"/>
<rect x="413.95" y="283.63" width="5.50" height="30.47" fill="#94aed7" stroke="#7f9bc9" stroke-width="0.50"/>
<path d="M416.70 287.59V279.67M415.38 279.67H418.02M415.38 287.59H418.02" stroke="#5c78aa" stroke-width="0.6" fill="none"/>
<path d="M369.40 268.00V314.10H422.17" stroke="#262626" stroke-width="0.80" fill="none"/>
<path d="M367.30 314.50H369.40" stroke="#262626" stroke-width="0.80"/>
<text x="366.70" y="315.25" font-size="3.20" class="tk" text-anchor="end">0.0</text>
<path d="M367.30 298.50H369.40" stroke="#262626" stroke-width="0.80"/>
<text x="366.70" y="300.02" font-size="3.20" class="tk" text-anchor="end">0.5</text>
<path d="M367.30 283.50H369.40" stroke="#262626" stroke-width="0.80"/>
<text x="366.70" y="284.79" font-size="3.20" class="tk" text-anchor="end">1.0</text>
<path d="M367.30 268.50H369.40" stroke="#262626" stroke-width="0.80"/>
<text x="366.70" y="269.55" font-size="3.20" class="tk" text-anchor="end">1.5</text>
<path d="M374.50 314.10V316.10" stroke="#262626" stroke-width="0.80"/>
<text transform="translate(375.50 320.90) rotate(-45)" font-size="3.75" class="tk" text-anchor="end">Control</text>
<path d="M383.50 314.10V316.10" stroke="#262626" stroke-width="0.80"/>
<text transform="translate(383.92 320.90) rotate(-45)" font-size="3.75" class="tk" text-anchor="end">TBHP</text>
<path d="M391.50 314.10V316.10" stroke="#262626" stroke-width="0.80"/>
<text transform="translate(392.34 320.90) rotate(-45)" font-size="3.75" class="tk" text-anchor="end">Antimycin A</text>
<path d="M399.50 314.10V316.10" stroke="#262626" stroke-width="0.80"/>
<text transform="translate(400.76 320.90) rotate(-45)" font-size="3.75" class="tk" text-anchor="end">BSA</text>
<path d="M408.50 314.10V316.10" stroke="#262626" stroke-width="0.80"/>
<text transform="translate(409.18 320.90) rotate(-45)" font-size="3.75" class="tk" text-anchor="end">PA</text>
<path d="M416.50 314.10V316.10" stroke="#262626" stroke-width="0.80"/>
<text transform="translate(417.60 320.90) rotate(-45)" font-size="3.75" class="tk" text-anchor="end">PA+NAC</text>
<path d="M399.40 275.50V272.50H407.00V275.50" stroke="#8f8f8f" stroke-width="0.7" fill="none"/>
<text x="403.85" y="272.28" font-size="4.50" class="st" text-anchor="middle" letter-spacing="1.30">*</text>
<path d="M409.40 275.50V272.50H416.70V275.50" stroke="#8f8f8f" stroke-width="0.7" fill="none"/>
<text x="413.70" y="272.28" font-size="4.50" class="st" text-anchor="middle" letter-spacing="1.30">*</text>
<text transform="translate(359.50 290.75) rotate(-90)" font-size="4.00" class="yl" text-anchor="middle">DRP1 Protein level (Fold)</text>
<rect x="160.55" y="359.77" width="5.50" height="30.73" fill="#ffffff" stroke="#858585" stroke-width="0.50"/>
<rect x="168.71" y="366.84" width="5.50" height="23.66" fill="#f5cdbf" stroke="#e8b4a4" stroke-width="0.50"/>
<path d="M171.46 367.14V366.53M170.14 366.53H172.78M170.14 367.14H172.78" stroke="#c98f7e" stroke-width="0.6" fill="none"/>
<rect x="176.87" y="363.76" width="5.50" height="26.74" fill="#e8908e" stroke="#d67270" stroke-width="0.50"/>
<path d="M179.62 366.22V361.30M178.30 361.30H180.94M178.30 366.22H180.94" stroke="#b85553" stroke-width="0.6" fill="none"/>
<rect x="185.03" y="359.77" width="5.50" height="30.73" fill="#bec1c5" stroke="#a9acb1" stroke-width="0.50"/>
<rect x="193.19" y="372.06" width="5.50" height="18.44" fill="#eea45c" stroke="#e09046" stroke-width="0.50"/>
<path d="M195.94 372.67V371.45M194.62 371.45H197.26M194.62 372.67H197.26" stroke="#b86e2a" stroke-width="0.6" fill="none"/>
<rect x="201.35" y="361.92" width="5.50" height="28.58" fill="#94aed7" stroke="#7f9bc9" stroke-width="0.50"/>
<path d="M204.10 363.45V360.38M202.78 360.38H205.42M202.78 363.45H205.42" stroke="#5c78aa" stroke-width="0.6" fill="none"/>
<path d="M157.80 344.00V390.50H209.40" stroke="#262626" stroke-width="0.80" fill="none"/>
<path d="M155.70 390.50H157.80" stroke="#262626" stroke-width="0.80"/>
<text x="155.10" y="391.65" font-size="3.20" class="tk" text-anchor="end">0.0</text>
<path d="M155.70 375.50H157.80" stroke="#262626" stroke-width="0.80"/>
<text x="155.10" y="376.29" font-size="3.20" class="tk" text-anchor="end">0.5</text>
<path d="M155.70 359.50H157.80" stroke="#262626" stroke-width="0.80"/>
<text x="155.10" y="360.92" font-size="3.20" class="tk" text-anchor="end">1.0</text>
<path d="M155.70 344.50H157.80" stroke="#262626" stroke-width="0.80"/>
<text x="155.10" y="345.55" font-size="3.20" class="tk" text-anchor="end">1.5</text>
<path d="M163.50 390.50V392.50" stroke="#262626" stroke-width="0.80"/>
<text transform="translate(164.20 397.30) rotate(-45)" font-size="3.75" class="tk" text-anchor="end">Control</text>
<path d="M171.50 390.50V392.50" stroke="#262626" stroke-width="0.80"/>
<text transform="translate(172.36 397.30) rotate(-45)" font-size="3.75" class="tk" text-anchor="end">TBHP</text>
<path d="M179.50 390.50V392.50" stroke="#262626" stroke-width="0.80"/>
<text transform="translate(180.52 397.30) rotate(-45)" font-size="3.75" class="tk" text-anchor="end">Antimycin A</text>
<path d="M187.50 390.50V392.50" stroke="#262626" stroke-width="0.80"/>
<text transform="translate(188.68 397.30) rotate(-45)" font-size="3.75" class="tk" text-anchor="end">BSA</text>
<path d="M195.50 390.50V392.50" stroke="#262626" stroke-width="0.80"/>
<text transform="translate(196.84 397.30) rotate(-45)" font-size="3.75" class="tk" text-anchor="end">PA</text>
<path d="M204.50 390.50V392.50" stroke="#262626" stroke-width="0.80"/>
<text transform="translate(205.00 397.30) rotate(-45)" font-size="3.75" class="tk" text-anchor="end">PA+NAC</text>
<path d="M163.30 355.80V352.80H171.60V355.80" stroke="#8f8f8f" stroke-width="0.7" fill="none"/>
<text x="168.10" y="352.58" font-size="4.50" class="st" text-anchor="middle" letter-spacing="1.30">*</text>
<path d="M188.40 355.80V352.80H195.50V355.80" stroke="#8f8f8f" stroke-width="0.7" fill="none"/>
<text x="192.60" y="352.58" font-size="4.50" class="st" text-anchor="middle" letter-spacing="1.30">***</text>
<path d="M197.80 355.80V352.80H205.30V355.80" stroke="#8f8f8f" stroke-width="0.7" fill="none"/>
<text x="202.20" y="352.58" font-size="4.50" class="st" text-anchor="middle" letter-spacing="1.30">**</text>
<text transform="translate(147.90 366.95) rotate(-90)" font-size="4.00" class="yl" text-anchor="middle">MFN2 Protein level (Fold)</text>
<rect x="232.35" y="359.87" width="5.50" height="30.93" fill="#ffffff" stroke="#858585" stroke-width="0.50"/>
<rect x="240.73" y="367.29" width="5.50" height="23.51" fill="#f5cdbf" stroke="#e8b4a4" stroke-width="0.50"/>
<path d="M243.48 370.38V364.20M242.16 364.20H244.80M242.16 370.38H244.80" stroke="#c98f7e" stroke-width="0.6" fill="none"/>
<rect x="249.11" y="361.41" width="5.50" height="29.39" fill="#e8908e" stroke="#d67270" stroke-width="0.50"/>
<path d="M251.86 364.51V358.32M250.54 358.32H253.18M250.54 364.51H253.18" stroke="#b85553" stroke-width="0.6" fill="none"/>
<rect x="257.49" y="359.87" width="5.50" height="30.93" fill="#bec1c5" stroke="#a9acb1" stroke-width="0.50"/>
<rect x="265.87" y="375.02" width="5.50" height="15.78" fill="#eea45c" stroke="#e09046" stroke-width="0.50"/>
<path d="M268.62 377.19V372.86M267.30 372.86H269.94M267.30 377.19H269.94" stroke="#b86e2a" stroke-width="0.6" fill="none"/>
<rect x="274.25" y="364.51" width="5.50" height="26.29" fill="#94aed7" stroke="#7f9bc9" stroke-width="0.50"/>
<path d="M277.00 366.98V362.03M275.68 362.03H278.32M275.68 366.98H278.32" stroke="#5c78aa" stroke-width="0.6" fill="none"/>
<path d="M229.60 344.00V390.80H282.45" stroke="#262626" stroke-width="0.80" fill="none"/>
<path d="M227.50 390.50H229.60" stroke="#262626" stroke-width="0.80"/>
<text x="226.90" y="391.95" font-size="3.20" class="tk" text-anchor="end">0.0</text>
<path d="M227.50 375.50H229.60" stroke="#262626" stroke-width="0.80"/>
<text x="226.90" y="376.49" font-size="3.20" class="tk" text-anchor="end">0.5</text>
<path d="M227.50 359.50H229.60" stroke="#262626" stroke-width="0.80"/>
<text x="226.90" y="361.02" font-size="3.20" class="tk" text-anchor="end">1.0</text>
<path d="M227.50 344.50H229.60" stroke="#262626" stroke-width="0.80"/>
<text x="226.90" y="345.55" font-size="3.20" class="tk" text-anchor="end">1.5</text>
<path d="M235.50 390.80V392.80" stroke="#262626" stroke-width="0.80"/>
<text transform="translate(236.00 397.60) rotate(-45)" font-size="3.75" class="tk" text-anchor="end">Control</text>
<path d="M243.50 390.80V392.80" stroke="#262626" stroke-width="0.80"/>
<text transform="translate(244.38 397.60) rotate(-45)" font-size="3.75" class="tk" text-anchor="end">TBHP</text>
<path d="M251.50 390.80V392.80" stroke="#262626" stroke-width="0.80"/>
<text transform="translate(252.76 397.60) rotate(-45)" font-size="3.75" class="tk" text-anchor="end">Antimycin A</text>
<path d="M260.50 390.80V392.80" stroke="#262626" stroke-width="0.80"/>
<text transform="translate(261.14 397.60) rotate(-45)" font-size="3.75" class="tk" text-anchor="end">BSA</text>
<path d="M268.50 390.80V392.80" stroke="#262626" stroke-width="0.80"/>
<text transform="translate(269.52 397.60) rotate(-45)" font-size="3.75" class="tk" text-anchor="end">PA</text>
<path d="M277.50 390.80V392.80" stroke="#262626" stroke-width="0.80"/>
<text transform="translate(277.90 397.60) rotate(-45)" font-size="3.75" class="tk" text-anchor="end">PA+NAC</text>
<path d="M259.30 354.90V351.90H266.70V354.90" stroke="#8f8f8f" stroke-width="0.7" fill="none"/>
<text x="263.65" y="351.68" font-size="4.50" class="st" text-anchor="middle" letter-spacing="1.30">**</text>
<path d="M269.00 354.90V351.90H276.50V354.90" stroke="#8f8f8f" stroke-width="0.7" fill="none"/>
<text x="273.40" y="351.68" font-size="4.50" class="st" text-anchor="middle" letter-spacing="1.30">*</text>
<text transform="translate(219.70 367.10) rotate(-90)" font-size="4.00" class="yl" text-anchor="middle">NDUFS3 Protein level (Fold)</text>
<rect x="300.95" y="359.47" width="5.50" height="31.33" fill="#ffffff" stroke="#858585" stroke-width="0.50"/>
<rect x="309.33" y="363.23" width="5.50" height="27.57" fill="#f5cdbf" stroke="#e8b4a4" stroke-width="0.50"/>
<path d="M312.08 368.55V357.90M310.76 357.90H313.40M310.76 368.55H313.40" stroke="#c98f7e" stroke-width="0.6" fill="none"/>
<rect x="317.71" y="361.66" width="5.50" height="29.14" fill="#e8908e" stroke="#d67270" stroke-width="0.50"/>
<path d="M320.46 367.30V356.02M319.14 356.02H321.78M319.14 367.30H321.78" stroke="#b85553" stroke-width="0.6" fill="none"/>
<rect x="326.09" y="359.47" width="5.50" height="31.33" fill="#bec1c5" stroke="#a9acb1" stroke-width="0.50"/>
<rect x="334.47" y="371.69" width="5.50" height="19.11" fill="#eea45c" stroke="#e09046" stroke-width="0.50"/>
<path d="M337.22 375.13V368.24M335.90 368.24H338.54M335.90 375.13H338.54" stroke="#b86e2a" stroke-width="0.6" fill="none"/>
<rect x="342.85" y="364.48" width="5.50" height="26.32" fill="#94aed7" stroke="#7f9bc9" stroke-width="0.50"/>
<path d="M345.60 366.36V362.60M344.28 362.60H346.92M344.28 366.36H346.92" stroke="#5c78aa" stroke-width="0.6" fill="none"/>
<path d="M298.40 343.40V390.80H351.05" stroke="#262626" stroke-width="0.80" fill="none"/>
<path d="M296.30 390.50H298.40" stroke="#262626" stroke-width="0.80"/>
<text x="295.70" y="391.95" font-size="3.20" class="tk" text-anchor="end">0.0</text>
<path d="M296.30 375.50H298.40" stroke="#262626" stroke-width="0.80"/>
<text x="295.70" y="376.29" font-size="3.20" class="tk" text-anchor="end">0.5</text>
<path d="M296.30 359.50H298.40" stroke="#262626" stroke-width="0.80"/>
<text x="295.70" y="360.62" font-size="3.20" class="tk" text-anchor="end">1.0</text>
<path d="M296.30 343.50H298.40" stroke="#262626" stroke-width="0.80"/>
<text x="295.70" y="344.95" font-size="3.20" class="tk" text-anchor="end">1.5</text>
<path d="M303.50 390.80V392.80" stroke="#262626" stroke-width="0.80"/>
<text transform="translate(304.60 397.60) rotate(-45)" font-size="3.75" class="tk" text-anchor="end">Control</text>
<path d="M312.50 390.80V392.80" stroke="#262626" stroke-width="0.80"/>
<text transform="translate(312.98 397.60) rotate(-45)" font-size="3.75" class="tk" text-anchor="end">TBHP</text>
<path d="M320.50 390.80V392.80" stroke="#262626" stroke-width="0.80"/>
<text transform="translate(321.36 397.60) rotate(-45)" font-size="3.75" class="tk" text-anchor="end">Antimycin A</text>
<path d="M328.50 390.80V392.80" stroke="#262626" stroke-width="0.80"/>
<text transform="translate(329.74 397.60) rotate(-45)" font-size="3.75" class="tk" text-anchor="end">BSA</text>
<path d="M337.50 390.80V392.80" stroke="#262626" stroke-width="0.80"/>
<text transform="translate(338.12 397.60) rotate(-45)" font-size="3.75" class="tk" text-anchor="end">PA</text>
<path d="M345.50 390.80V392.80" stroke="#262626" stroke-width="0.80"/>
<text transform="translate(346.50 397.60) rotate(-45)" font-size="3.75" class="tk" text-anchor="end">PA+NAC</text>
<text transform="translate(288.50 366.80) rotate(-90)" font-size="4.00" class="yl" text-anchor="middle">SDHB Protein level (Fold)</text>
<rect x="371.85" y="359.67" width="5.50" height="30.73" fill="#ffffff" stroke="#858585" stroke-width="0.50"/>
<rect x="380.27" y="366.12" width="5.50" height="24.28" fill="#f5cdbf" stroke="#e8b4a4" stroke-width="0.50"/>
<path d="M383.02 366.74V365.51M381.70 365.51H384.34M381.70 366.74H384.34" stroke="#c98f7e" stroke-width="0.6" fill="none"/>
<rect x="388.69" y="366.74" width="5.50" height="23.66" fill="#e8908e" stroke="#d67270" stroke-width="0.50"/>
<path d="M391.44 368.27V365.20M390.12 365.20H392.76M390.12 368.27H392.76" stroke="#b85553" stroke-width="0.6" fill="none"/>
<rect x="397.11" y="359.97" width="5.50" height="30.43" fill="#bec1c5" stroke="#a9acb1" stroke-width="0.50"/>
<rect x="405.53" y="369.19" width="5.50" height="21.21" fill="#eea45c" stroke="#e09046" stroke-width="0.50"/>
<path d="M408.28 370.73V367.66M406.96 367.66H409.60M406.96 370.73H409.60" stroke="#b86e2a" stroke-width="0.6" fill="none"/>
<rect x="413.95" y="357.21" width="5.50" height="33.19" fill="#94aed7" stroke="#7f9bc9" stroke-width="0.50"/>
<path d="M416.70 359.05V355.36M415.38 355.36H418.02M415.38 359.05H418.02" stroke="#5c78aa" stroke-width="0.6" fill="none"/>
<path d="M369.40 343.90V390.40H422.17" stroke="#262626" stroke-width="0.80" fill="none"/>
<path d="M367.30 390.50H369.40" stroke="#262626" stroke-width="0.80"/>
<text x="366.70" y="391.55" font-size="3.20" class="tk" text-anchor="end">0.0</text>
<path d="M367.30 375.50H369.40" stroke="#262626" stroke-width="0.80"/>
<text x="366.70" y="376.19" font-size="3.20" class="tk" text-anchor="end">0.5</text>
<path d="M367.30 359.50H369.40" stroke="#262626" stroke-width="0.80"/>
<text x="366.70" y="360.82" font-size="3.20" class="tk" text-anchor="end">1.0</text>
<path d="M367.30 344.50H369.40" stroke="#262626" stroke-width="0.80"/>
<text x="366.70" y="345.45" font-size="3.20" class="tk" text-anchor="end">1.5</text>
<path d="M374.50 390.40V392.40" stroke="#262626" stroke-width="0.80"/>
<text transform="translate(375.50 397.20) rotate(-45)" font-size="3.75" class="tk" text-anchor="end">Control</text>
<path d="M383.50 390.40V392.40" stroke="#262626" stroke-width="0.80"/>
<text transform="translate(383.92 397.20) rotate(-45)" font-size="3.75" class="tk" text-anchor="end">TBHP</text>
<path d="M391.50 390.40V392.40" stroke="#262626" stroke-width="0.80"/>
<text transform="translate(392.34 397.20) rotate(-45)" font-size="3.75" class="tk" text-anchor="end">Antimycin A</text>
<path d="M399.50 390.40V392.40" stroke="#262626" stroke-width="0.80"/>
<text transform="translate(400.76 397.20) rotate(-45)" font-size="3.75" class="tk" text-anchor="end">BSA</text>
<path d="M408.50 390.40V392.40" stroke="#262626" stroke-width="0.80"/>
<text transform="translate(409.18 397.20) rotate(-45)" font-size="3.75" class="tk" text-anchor="end">PA</text>
<path d="M416.50 390.40V392.40" stroke="#262626" stroke-width="0.80"/>
<text transform="translate(417.60 397.20) rotate(-45)" font-size="3.75" class="tk" text-anchor="end">PA+NAC</text>
<path d="M375.10 347.00V344.00H392.50V347.00" stroke="#8f8f8f" stroke-width="0.7" fill="none"/>
<text x="384.45" y="343.78" font-size="4.50" class="st" text-anchor="middle" letter-spacing="1.30">**</text>
<path d="M375.10 356.20V353.20H383.90V356.20" stroke="#8f8f8f" stroke-width="0.7" fill="none"/>
<text x="380.15" y="352.98" font-size="4.50" class="st" text-anchor="middle" letter-spacing="1.30">**</text>
<path d="M400.40 356.20V353.20H408.40V356.20" stroke="#8f8f8f" stroke-width="0.7" fill="none"/>
<text x="405.05" y="352.98" font-size="4.50" class="st" text-anchor="middle" letter-spacing="1.30">***</text>
<path d="M409.40 347.00V344.00H416.80V347.00" stroke="#8f8f8f" stroke-width="0.7" fill="none"/>
<text x="413.75" y="343.78" font-size="4.50" class="st" text-anchor="middle" letter-spacing="1.30">***</text>
<text transform="translate(359.50 366.85) rotate(-90)" font-size="4.00" class="yl" text-anchor="middle">UQCRC1 Protein level (Fold)</text>
<rect x="64.00" y="503.34" width="8.60" height="8.06" fill="#ffffff" stroke="#858585" stroke-width="0.60"/>
<path d="M68.30 503.74V502.93M66.30 502.93H70.30M66.30 503.74H70.30" stroke="#6a6a6a" stroke-width="0.6" fill="none"/>
<rect x="77.87" y="466.25" width="8.60" height="45.15" fill="#f5cdbf" stroke="#e8b4a4" stroke-width="0.60"/>
<path d="M82.17 471.09V461.41M80.17 461.41H84.17M80.17 471.09H84.17" stroke="#c98f7e" stroke-width="0.6" fill="none"/>
<rect x="91.74" y="488.02" width="8.60" height="23.38" fill="#e8908e" stroke="#d67270" stroke-width="0.60"/>
<path d="M96.04 490.03V486.00M94.04 486.00H98.04M94.04 490.03H98.04" stroke="#b85553" stroke-width="0.6" fill="none"/>
<rect x="105.61" y="500.92" width="8.60" height="10.48" fill="#bec1c5" stroke="#a9acb1" stroke-width="0.60"/>
<path d="M109.91 501.32V500.52M107.91 500.52H111.91M107.91 501.32H111.91" stroke="#8a8d92" stroke-width="0.6" fill="none"/>
<rect x="119.48" y="472.30" width="8.60" height="39.10" fill="#eea45c" stroke="#e09046" stroke-width="0.60"/>
<path d="M123.78 475.12V469.47M121.78 469.47H125.78M121.78 475.12H125.78" stroke="#b86e2a" stroke-width="0.6" fill="none"/>
<rect x="133.35" y="489.23" width="8.60" height="22.17" fill="#94aed7" stroke="#7f9bc9" stroke-width="0.60"/>
<path d="M137.65 490.44V488.02M135.65 488.02H139.65M135.65 490.44H139.65" stroke="#5c78aa" stroke-width="0.6" fill="none"/>
<path d="M58.70 446.50V511.40H146.67" stroke="#262626" stroke-width="1.00" fill="none"/>
<path d="M55.60 511.50H58.70" stroke="#262626" stroke-width="1.00"/>
<text x="54.80" y="512.95" font-size="4.30" class="tk" text-anchor="end">0</text>
<path d="M55.60 495.50H58.70" stroke="#262626" stroke-width="1.00"/>
<text x="54.80" y="496.82" font-size="4.30" class="tk" text-anchor="end">2</text>
<path d="M55.60 479.50H58.70" stroke="#262626" stroke-width="1.00"/>
<text x="54.80" y="480.70" font-size="4.30" class="tk" text-anchor="end">4</text>
<path d="M55.60 463.50H58.70" stroke="#262626" stroke-width="1.00"/>
<text x="54.80" y="464.57" font-size="4.30" class="tk" text-anchor="end">6</text>
<path d="M55.60 446.50H58.70" stroke="#262626" stroke-width="1.00"/>
<text x="54.80" y="448.45" font-size="4.30" class="tk" text-anchor="end">8</text>
<path d="M68.50 511.40V514.80" stroke="#262626" stroke-width="1.00"/>
<text transform="translate(70.10 519.40) rotate(-45)" font-size="5.30" class="tk" text-anchor="end">Control</text>
<path d="M82.50 511.40V514.80" stroke="#262626" stroke-width="1.00"/>
<text transform="translate(83.97 519.40) rotate(-45)" font-size="5.30" class="tk" text-anchor="end">TBHP</text>
<path d="M96.50 511.40V514.80" stroke="#262626" stroke-width="1.00"/>
<text transform="translate(97.84 519.40) rotate(-45)" font-size="5.30" class="tk" text-anchor="end">Antimycin A</text>
<path d="M109.50 511.40V514.80" stroke="#262626" stroke-width="1.00"/>
<text transform="translate(111.71 519.40) rotate(-45)" font-size="5.30" class="tk" text-anchor="end">BSA</text>
<path d="M123.50 511.40V514.80" stroke="#262626" stroke-width="1.00"/>
<text transform="translate(125.58 519.40) rotate(-45)" font-size="5.30" class="tk" text-anchor="end">PA</text>
<path d="M137.50 511.40V514.80" stroke="#262626" stroke-width="1.00"/>
<text transform="translate(139.45 519.40) rotate(-45)" font-size="5.30" class="tk" text-anchor="end">PA+NAC</text>
<path d="M68.10 445.80V441.10H96.20V445.80" stroke="#8f8f8f" stroke-width="0.7" fill="none"/>
<text x="82.80" y="440.30" font-size="6.00" class="st" text-anchor="middle" letter-spacing="1.30">*</text>
<path d="M68.10 458.70V454.00H81.90V458.70" stroke="#8f8f8f" stroke-width="0.7" fill="none"/>
<text x="75.65" y="453.20" font-size="6.00" class="st" text-anchor="middle" letter-spacing="1.30">***</text>
<path d="M108.40 458.30V453.60H122.30V458.30" stroke="#8f8f8f" stroke-width="0.7" fill="none"/>
<text x="116.00" y="452.80" font-size="6.00" class="st" text-anchor="middle" letter-spacing="1.30">***</text>
<path d="M124.20 458.30V453.60H138.10V458.30" stroke="#8f8f8f" stroke-width="0.7" fill="none"/>
<text x="131.80" y="452.80" font-size="6.00" class="st" text-anchor="middle" letter-spacing="1.30">**</text>
<text transform="translate(47.00 479.00) rotate(-90)" font-size="5.80" class="yl" text-anchor="middle">Relative mRNA level</text>
<text x="100.6" y="426.8" font-size="6.3" class="ti" text-anchor="middle">IL6</text>
<rect x="199.65" y="507.95" width="8.50" height="4.15" fill="#ffffff" stroke="#858585" stroke-width="0.60"/>
<path d="M203.90 508.58V507.33M201.92 507.33H205.88M201.92 508.58H205.88" stroke="#6a6a6a" stroke-width="0.6" fill="none"/>
<rect x="213.17" y="462.75" width="8.50" height="49.35" fill="#f5cdbf" stroke="#e8b4a4" stroke-width="0.60"/>
<path d="M217.42 469.39V456.12M215.44 456.12H219.40M215.44 469.39H219.40" stroke="#c98f7e" stroke-width="0.6" fill="none"/>
<rect x="226.69" y="481.00" width="8.50" height="31.10" fill="#e8908e" stroke="#d67270" stroke-width="0.60"/>
<path d="M230.94 482.24V479.76M228.96 479.76H232.92M228.96 482.24H232.92" stroke="#b85553" stroke-width="0.6" fill="none"/>
<rect x="240.21" y="508.78" width="8.50" height="3.32" fill="#bec1c5" stroke="#a9acb1" stroke-width="0.60"/>
<path d="M244.46 509.20V508.37M242.48 508.37H246.44M242.48 509.20H246.44" stroke="#8a8d92" stroke-width="0.6" fill="none"/>
<rect x="253.73" y="468.15" width="8.50" height="43.95" fill="#eea45c" stroke="#e09046" stroke-width="0.60"/>
<path d="M257.98 473.12V463.17M256.00 463.17H259.96M256.00 473.12H259.96" stroke="#b86e2a" stroke-width="0.6" fill="none"/>
<rect x="267.25" y="468.56" width="8.50" height="43.54" fill="#94aed7" stroke="#7f9bc9" stroke-width="0.60"/>
<path d="M271.50 470.22V466.90M269.52 466.90H273.48M269.52 470.22H273.48" stroke="#5c78aa" stroke-width="0.6" fill="none"/>
<path d="M194.90 449.50V512.10H280.29" stroke="#262626" stroke-width="1.00" fill="none"/>
<path d="M191.80 512.50H194.90" stroke="#262626" stroke-width="1.00"/>
<text x="191.00" y="513.65" font-size="4.30" class="tk" text-anchor="end">0</text>
<path d="M191.80 491.50H194.90" stroke="#262626" stroke-width="1.00"/>
<text x="191.00" y="492.91" font-size="4.30" class="tk" text-anchor="end">5</text>
<path d="M191.80 470.50H194.90" stroke="#262626" stroke-width="1.00"/>
<text x="191.00" y="472.18" font-size="4.30" class="tk" text-anchor="end">10</text>
<path d="M191.80 449.50H194.90" stroke="#262626" stroke-width="1.00"/>
<text x="191.00" y="451.45" font-size="4.30" class="tk" text-anchor="end">15</text>
<path d="M203.50 512.10V515.50" stroke="#262626" stroke-width="1.00"/>
<text transform="translate(205.70 520.10) rotate(-45)" font-size="5.30" class="tk" text-anchor="end">Control</text>
<path d="M217.50 512.10V515.50" stroke="#262626" stroke-width="1.00"/>
<text transform="translate(219.22 520.10) rotate(-45)" font-size="5.30" class="tk" text-anchor="end">TBHP</text>
<path d="M230.50 512.10V515.50" stroke="#262626" stroke-width="1.00"/>
<text transform="translate(232.74 520.10) rotate(-45)" font-size="5.30" class="tk" text-anchor="end">Antimycin A</text>
<path d="M244.50 512.10V515.50" stroke="#262626" stroke-width="1.00"/>
<text transform="translate(246.26 520.10) rotate(-45)" font-size="5.30" class="tk" text-anchor="end">BSA</text>
<path d="M257.50 512.10V515.50" stroke="#262626" stroke-width="1.00"/>
<text transform="translate(259.78 520.10) rotate(-45)" font-size="5.30" class="tk" text-anchor="end">PA</text>
<path d="M271.50 512.10V515.50" stroke="#262626" stroke-width="1.00"/>
<text transform="translate(273.30 520.10) rotate(-45)" font-size="5.30" class="tk" text-anchor="end">PA+NAC</text>
<path d="M203.30 442.60V437.90H231.50V442.60" stroke="#8f8f8f" stroke-width="0.7" fill="none"/>
<text x="218.05" y="437.10" font-size="6.00" class="st" text-anchor="middle" letter-spacing="1.30">***</text>
<path d="M203.30 453.60V448.90H217.50V453.60" stroke="#8f8f8f" stroke-width="0.7" fill="none"/>
<text x="211.05" y="448.10" font-size="6.00" class="st" text-anchor="middle" letter-spacing="1.30">***</text>
<path d="M244.40 453.90V449.20H258.60V453.90" stroke="#8f8f8f" stroke-width="0.7" fill="none"/>
<text x="252.15" y="448.40" font-size="6.00" class="st" text-anchor="middle" letter-spacing="1.30">***</text>
<text transform="translate(182.30 480.60) rotate(-90)" font-size="5.80" class="yl" text-anchor="middle">Relative mRNA level</text>
<text x="235.2" y="427" font-size="6.3" class="ti" text-anchor="middle">MMP1</text>
<rect x="332.30" y="506.92" width="8.40" height="3.19" fill="#ffffff" stroke="#858585" stroke-width="0.60"/>
<path d="M336.50 507.39V506.44M334.54 506.44H338.46M334.54 507.39H338.46" stroke="#6a6a6a" stroke-width="0.6" fill="none"/>
<rect x="346.05" y="462.01" width="8.40" height="48.09" fill="#f5cdbf" stroke="#e8b4a4" stroke-width="0.60"/>
<path d="M350.25 463.92V460.10M348.29 460.10H352.21M348.29 463.92H352.21" stroke="#c98f7e" stroke-width="0.6" fill="none"/>
<rect x="359.80" y="489.40" width="8.40" height="20.70" fill="#e8908e" stroke="#d67270" stroke-width="0.60"/>
<path d="M364.00 490.35V488.44M362.04 488.44H365.96M362.04 490.35H365.96" stroke="#b85553" stroke-width="0.6" fill="none"/>
<rect x="373.55" y="505.64" width="8.40" height="4.46" fill="#bec1c5" stroke="#a9acb1" stroke-width="0.60"/>
<path d="M377.75 506.60V504.69M375.79 504.69H379.71M375.79 506.60H379.71" stroke="#8a8d92" stroke-width="0.6" fill="none"/>
<rect x="387.30" y="470.29" width="8.40" height="39.81" fill="#eea45c" stroke="#e09046" stroke-width="0.60"/>
<path d="M391.50 471.56V469.01M389.54 469.01H393.46M389.54 471.56H393.46" stroke="#b86e2a" stroke-width="0.6" fill="none"/>
<rect x="401.05" y="481.44" width="8.40" height="28.67" fill="#94aed7" stroke="#7f9bc9" stroke-width="0.60"/>
<path d="M405.25 483.35V479.52M403.29 479.52H407.21M403.29 483.35H407.21" stroke="#5c78aa" stroke-width="0.6" fill="none"/>
<path d="M327.30 446.00V510.10H414.19" stroke="#262626" stroke-width="1.00" fill="none"/>
<path d="M324.30 510.50H327.30" stroke="#262626" stroke-width="1.00"/>
<text x="323.50" y="511.83" font-size="4.80" class="tk" text-anchor="end">0</text>
<path d="M324.30 494.50H327.30" stroke="#262626" stroke-width="1.00"/>
<text x="323.50" y="495.90" font-size="4.80" class="tk" text-anchor="end">5</text>
<path d="M324.30 478.50H327.30" stroke="#262626" stroke-width="1.00"/>
<text x="323.50" y="479.98" font-size="4.80" class="tk" text-anchor="end">10</text>
<path d="M324.30 462.50H327.30" stroke="#262626" stroke-width="1.00"/>
<text x="323.50" y="464.05" font-size="4.80" class="tk" text-anchor="end">15</text>
<path d="M324.30 446.50H327.30" stroke="#262626" stroke-width="1.00"/>
<text x="323.50" y="448.13" font-size="4.80" class="tk" text-anchor="end">20</text>
<path d="M336.50 510.10V513.50" stroke="#262626" stroke-width="1.00"/>
<text transform="translate(338.30 518.10) rotate(-45)" font-size="5.30" class="tk" text-anchor="end">Control</text>
<path d="M350.50 510.10V513.50" stroke="#262626" stroke-width="1.00"/>
<text transform="translate(352.05 518.10) rotate(-45)" font-size="5.30" class="tk" text-anchor="end">TBHP</text>
<path d="M364.50 510.10V513.50" stroke="#262626" stroke-width="1.00"/>
<text transform="translate(365.80 518.10) rotate(-45)" font-size="5.30" class="tk" text-anchor="end">Antimycin A</text>
<path d="M377.50 510.10V513.50" stroke="#262626" stroke-width="1.00"/>
<text transform="translate(379.55 518.10) rotate(-45)" font-size="5.30" class="tk" text-anchor="end">BSA</text>
<path d="M391.50 510.10V513.50" stroke="#262626" stroke-width="1.00"/>
<text transform="translate(393.30 518.10) rotate(-45)" font-size="5.30" class="tk" text-anchor="end">PA</text>
<path d="M405.50 510.10V513.50" stroke="#262626" stroke-width="1.00"/>
<text transform="translate(407.05 518.10) rotate(-45)" font-size="5.30" class="tk" text-anchor="end">PA+NAC</text>
<path d="M336.60 443.90V439.20H363.70V443.90" stroke="#8f8f8f" stroke-width="0.7" fill="none"/>
<text x="350.80" y="438.40" font-size="6.00" class="st" text-anchor="middle" letter-spacing="1.30">***</text>
<path d="M336.60 456.30V451.60H350.20V456.30" stroke="#8f8f8f" stroke-width="0.7" fill="none"/>
<text x="344.05" y="450.80" font-size="6.00" class="st" text-anchor="middle" letter-spacing="1.30">***</text>
<path d="M377.20 456.30V451.60H390.30V456.30" stroke="#8f8f8f" stroke-width="0.7" fill="none"/>
<text x="384.40" y="450.80" font-size="6.00" class="st" text-anchor="middle" letter-spacing="1.30">***</text>
<path d="M392.70 456.30V451.60H406.80V456.30" stroke="#8f8f8f" stroke-width="0.7" fill="none"/>
<text x="400.40" y="450.80" font-size="6.00" class="st" text-anchor="middle" letter-spacing="1.30">***</text>
<text transform="translate(314.00 478.20) rotate(-90)" font-size="5.80" class="yl" text-anchor="middle">Relative mRNA level</text>
<text x="368.5" y="427" font-size="6.3" class="ti" text-anchor="middle">CHOP</text>
<clipPath id="c10"><rect x="50.90" y="131.80" width="76.80" height="51.40"/></clipPath>
<rect x="50.90" y="131.80" width="76.80" height="51.40" fill="#000"/>
<g clip-path="url(#c10)">
<g filter="url(#blur3)">
<circle cx="94.8" cy="153.8" r="6.3" fill="#0e560e" opacity="0.07"/>
<circle cx="113.4" cy="174.1" r="6.6" fill="#0e560e" opacity="0.06"/>
<circle cx="90.9" cy="148.6" r="5.0" fill="#0e560e" opacity="0.15"/>
<circle cx="127.4" cy="134.1" r="7.4" fill="#0e560e" opacity="0.11"/>
<circle cx="80.2" cy="146.4" r="6.7" fill="#0e560e" opacity="0.09"/>
<circle cx="103.6" cy="165.8" r="4.5" fill="#0e560e" opacity="0.13"/>
<circle cx="126.3" cy="181.6" r="6.5" fill="#0e560e" opacity="0.05"/>
<circle cx="51.2" cy="138.7" r="7.8" fill="#0e560e" opacity="0.08"/>
<circle cx="79.0" cy="178.0" r="5.3" fill="#0e560e" opacity="0.10"/>
<circle cx="84.4" cy="135.1" r="6.3" fill="#0e560e" opacity="0.13"/>
<circle cx="62.9" cy="143.3" r="5.7" fill="#0e560e" opacity="0.05"/>
<circle cx="89.0" cy="173.8" r="6.6" fill="#0e560e" opacity="0.10"/>
<circle cx="116.6" cy="139.5" r="6.3" fill="#0e560e" opacity="0.08"/>
<circle cx="97.1" cy="137.6" r="7.1" fill="#0e560e" opacity="0.06"/>
<circle cx="63.7" cy="173.3" r="7.8" fill="#0e560e" opacity="0.09"/>
<circle cx="82.7" cy="144.4" r="5.1" fill="#0e560e" opacity="0.11"/>
<circle cx="64.6" cy="137.9" r="5.8" fill="#0e560e" opacity="0.06"/>
<circle cx="100.7" cy="174.0" r="7.1" fill="#0e560e" opacity="0.10"/>
<circle cx="77.6" cy="154.1" r="4.0" fill="#0e560e" opacity="0.12"/>
<circle cx="76.4" cy="148.2" r="4.3" fill="#0e560e" opacity="0.09"/>
<circle cx="95.7" cy="151.9" r="7.5" fill="#0e560e" opacity="0.12"/>
<circle cx="69.4" cy="158.8" r="7.6" fill="#0e560e" opacity="0.10"/>
<circle cx="97.1" cy="135.0" r="6.0" fill="#0e560e" opacity="0.09"/>
<circle cx="81.7" cy="153.4" r="6.3" fill="#0e560e" opacity="0.10"/>
<circle cx="88.5" cy="140.3" r="5.8" fill="#0e560e" opacity="0.15"/>
<circle cx="82.8" cy="133.6" r="4.0" fill="#0e560e" opacity="0.10"/>
<circle cx="54.8" cy="136.6" r="4.4" fill="#0e560e" opacity="0.09"/>
<circle cx="127.1" cy="156.7" r="5.8" fill="#0e560e" opacity="0.09"/>
<circle cx="89.4" cy="154.8" r="6.9" fill="#0e560e" opacity="0.14"/>
<circle cx="104.5" cy="153.6" r="6.6" fill="#0e560e" opacity="0.14"/>
<circle cx="62.7" cy="144.0" r="6.5" fill="#0e560e" opacity="0.12"/>
<circle cx="100.3" cy="162.1" r="7.3" fill="#0e560e" opacity="0.10"/>
<circle cx="112.9" cy="181.3" r="5.7" fill="#0e560e" opacity="0.14"/>
<circle cx="106.1" cy="177.5" r="4.2" fill="#0e560e" opacity="0.14"/>
</g><g filter="url(#blur1)">
<polygon points="51.8,135.9 49.5,132.7 49.6,129.3 53.7,129.6 55.8,136.6" fill="url(#cg)" opacity="0.91" stroke="url(#cg)" stroke-width="1.6" stroke-linejoin="round"/>
<polygon points="55.7,133.4 54.5,127.7 57.1,124.1 60.5,128.5 61.3,134.3 57.9,134.8" fill="url(#cg)" opacity="0.70" stroke="url(#cg)" stroke-width="1.6" stroke-linejoin="round"/>
<polygon points="69.4,131.5 64.4,135.0 59.0,131.3 64.4,128.5" fill="url(#cg)" opacity="0.88" stroke="url(#cg)" stroke-width="1.6" stroke-linejoin="round"/>
<polygon points="83.8,128.1 78.9,131.8 74.8,132.4 70.1,129.5 73.1,127.6 78.3,126.9" fill="url(#cg)" opacity="0.93" stroke="url(#cg)" stroke-width="1.6" stroke-linejoin="round"/>
<polygon points="86.5,136.3 77.2,132.4 74.5,127.0 84.9,129.4" fill="url(#cg)" opacity="0.81" stroke="url(#cg)" stroke-width="1.6" stroke-linejoin="round"/>
<polygon points="98.3,135.3 94.0,135.2 89.9,133.8 89.1,128.6 92.2,128.2 98.7,131.6" fill="url(#cg)" opacity="0.72" stroke="url(#cg)" stroke-width="1.6" stroke-linejoin="round"/>
<polygon points="100.4,131.9 94.3,127.8 94.1,123.7 99.9,124.8 104.1,129.8" fill="url(#cg)" opacity="1.00" stroke="url(#cg)" stroke-width="1.6" stroke-linejoin="round"/>
<polygon points="115.1,133.7 105.3,131.1 104.8,127.4 114.2,128.8" fill="url(#cg)" opacity="0.67" stroke="url(#cg)" stroke-width="1.6" stroke-linejoin="round"/>
<polygon points="121.3,131.9 116.2,134.6 112.8,133.0 115.6,128.4" fill="url(#cg)" opacity="0.58" stroke="url(#cg)" stroke-width="1.6" stroke-linejoin="round"/>
<polygon points="124.0,133.3 128.5,127.7 130.4,136.3" fill="url(#cg)" opacity="0.79" stroke="url(#cg)" stroke-width="1.6" stroke-linejoin="round"/>
<polygon points="48.5,139.9 48.3,134.8 51.8,133.1 55.4,138.3 52.6,141.9" fill="url(#cg)" opacity="0.54" stroke="url(#cg)" stroke-width="1.6" stroke-linejoin="round"/>
<polygon points="55.0,141.6 57.2,136.9 61.9,138.7 60.1,144.6" fill="url(#cg)" opacity="0.84" stroke="url(#cg)" stroke-width="1.6" stroke-linejoin="round"/>
<polygon points="71.2,142.8 65.7,136.3 71.6,137.2" fill="url(#cg)" opacity="0.91" stroke="url(#cg)" stroke-width="1.6" stroke-linejoin="round"/>
<polygon points="81.9,138.7 76.3,138.5 74.2,133.6 77.2,132.9 81.2,135.1" fill="url(#cg)" opacity="0.65" stroke="url(#cg)" stroke-width="1.6" stroke-linejoin="round"/>
<polygon points="83.7,141.6 83.9,134.0 88.3,137.6 88.5,146.3" fill="url(#cg)" opacity="0.83" stroke="url(#cg)" stroke-width="1.6" stroke-linejoin="round"/>
<polygon points="95.1,140.8 92.6,136.9 94.9,132.7 98.8,134.2 100.1,138.7" fill="url(#cg)" opacity="0.89" stroke="url(#cg)" stroke-width="1.6" stroke-linejoin="round"/>
<polygon points="107.1,138.1 101.3,141.9 99.9,135.9" fill="url(#cg)" opacity="1.00" stroke="url(#cg)" stroke-width="1.6" stroke-linejoin="round"/>
<polygon points="111.2,144.0 107.1,138.3 110.8,135.4 115.2,141.8" fill="url(#cg)" opacity="0.57" stroke="url(#cg)" stroke-width="1.6" stroke-linejoin="round"/>
<polygon points="127.1,134.8 130.2,136.6 127.0,140.7 120.4,141.9 120.1,139.0 124.7,135.2" fill="url(#cg)" opacity="0.59" stroke="url(#cg)" stroke-width="1.6" stroke-linejoin="round"/>
<polygon points="128.6,138.3 132.9,134.2 136.1,138.5 134.3,142.7 128.6,142.2" fill="url(#cg)" opacity="0.75" stroke="url(#cg)" stroke-width="1.6" stroke-linejoin="round"/>
<polygon points="50.2,151.2 45.4,150.4 46.1,144.2 51.4,147.5" fill="url(#cg)" opacity="0.89" stroke="url(#cg)" stroke-width="1.6" stroke-linejoin="round"/>
<polygon points="65.5,143.3 61.4,149.1 55.8,146.9 56.7,142.5 61.4,140.1" fill="url(#cg)" opacity="0.73" stroke="url(#cg)" stroke-width="1.6" stroke-linejoin="round"/>
<polygon points="69.5,144.6 66.1,150.0 61.8,147.2" fill="url(#cg)" opacity="0.76" stroke="url(#cg)" stroke-width="1.6" stroke-linejoin="round"/>
<polygon points="75.6,154.2 70.7,151.7 70.5,148.2 74.5,145.4 78.2,148.8" fill="url(#cg)" opacity="0.96" stroke="url(#cg)" stroke-width="1.6" stroke-linejoin="round"/>
<polygon points="93.9,149.3 92.0,141.9 98.7,147.3" fill="url(#cg)" opacity="0.85" stroke="url(#cg)" stroke-width="1.6" stroke-linejoin="round"/>
<polygon points="98.0,149.5 93.8,145.4 94.9,141.4 101.1,146.2" fill="url(#cg)" opacity="0.74" stroke="url(#cg)" stroke-width="1.6" stroke-linejoin="round"/>
<polygon points="114.2,147.2 112.7,150.9 106.7,151.1 106.9,147.2 110.5,145.0" fill="url(#cg)" opacity="0.77" stroke="url(#cg)" stroke-width="1.6" stroke-linejoin="round"/>
<polygon points="117.4,144.8 120.2,145.9 119.6,150.2 116.6,153.4 113.8,152.0 114.1,148.6" fill="url(#cg)" opacity="0.72" stroke="url(#cg)" stroke-width="1.6" stroke-linejoin="round"/>
<polygon points="122.0,148.4 121.5,143.3 124.3,143.1 127.2,147.3 126.8,151.4" fill="url(#cg)" opacity="0.89" stroke="url(#cg)" stroke-width="1.6" stroke-linejoin="round"/>
<polygon points="53.1,159.9 44.2,150.8 52.7,152.7" fill="url(#cg)" opacity="0.99" stroke="url(#cg)" stroke-width="1.6" stroke-linejoin="round"/>
<polygon points="64.9,149.3 69.0,153.4 64.9,157.4 59.7,155.7" fill="url(#cg)" opacity="0.69" stroke="url(#cg)" stroke-width="1.6" stroke-linejoin="round"/>
<polygon points="69.8,158.1 64.9,152.1 65.6,149.5 68.2,148.3 72.3,151.8 74.4,158.1" fill="url(#cg)" opacity="0.54" stroke="url(#cg)" stroke-width="1.6" stroke-linejoin="round"/>
<polygon points="83.6,152.2 79.0,156.7 76.4,153.6" fill="url(#cg)" opacity="0.80" stroke="url(#cg)" stroke-width="1.6" stroke-linejoin="round"/>
<polygon points="91.6,154.7 88.7,159.7 83.6,159.1 85.9,154.7" fill="url(#cg)" opacity="0.71" stroke="url(#cg)" stroke-width="1.6" stroke-linejoin="round"/>
<polygon points="97.8,158.7 92.3,154.3 91.5,152.0 92.8,150.1 96.8,152.9 99.9,157.5" fill="url(#cg)" opacity="1.00" stroke="url(#cg)" stroke-width="1.6" stroke-linejoin="round"/>
<polygon points="103.0,153.2 108.8,149.5 106.5,158.6 102.2,161.1" fill="url(#cg)" opacity="0.87" stroke="url(#cg)" stroke-width="1.6" stroke-linejoin="round"/>
<polygon points="115.5,153.7 116.0,156.0 113.1,159.2 108.7,159.0 107.0,157.7 111.4,153.8" fill="url(#cg)" opacity="0.95" stroke="url(#cg)" stroke-width="1.6" stroke-linejoin="round"/>
<polygon points="119.2,151.1 124.5,154.6 117.7,160.1" fill="url(#cg)" opacity="0.50" stroke="url(#cg)" stroke-width="1.6" stroke-linejoin="round"/>
<polygon points="128.5,156.4 128.6,152.3 131.9,151.0 134.5,152.4 133.9,156.7 130.9,158.0" fill="url(#cg)" opacity="0.77" stroke="url(#cg)" stroke-width="1.6" stroke-linejoin="round"/>
<polygon points="58.4,169.7 46.6,168.5 45.6,163.7 54.6,164.8" fill="url(#cg)" opacity="0.51" stroke="url(#cg)" stroke-width="1.6" stroke-linejoin="round"/>
<polygon points="63.4,158.0 64.9,161.9 57.0,167.1 55.0,163.1" fill="url(#cg)" opacity="1.00" stroke="url(#cg)" stroke-width="1.6" stroke-linejoin="round"/>
<polygon points="68.0,162.5 62.3,164.8 60.0,160.4" fill="url(#cg)" opacity="0.61" stroke="url(#cg)" stroke-width="1.6" stroke-linejoin="round"/>
<polygon points="75.4,160.1 76.6,163.0 71.6,165.8 66.2,164.2 67.2,161.5 72.0,159.4" fill="url(#cg)" opacity="0.79" stroke="url(#cg)" stroke-width="1.6" stroke-linejoin="round"/>
<polygon points="94.4,172.7 87.8,166.3 92.5,161.9 97.9,168.9" fill="url(#cg)" opacity="1.00" stroke="url(#cg)" stroke-width="1.6" stroke-linejoin="round"/>
<polygon points="108.4,167.8 104.4,170.1 99.1,168.2 100.2,165.1 105.9,164.5" fill="url(#cg)" opacity="0.67" stroke="url(#cg)" stroke-width="1.6" stroke-linejoin="round"/>
<polygon points="107.0,159.3 111.4,161.0 109.2,168.7 104.9,169.8" fill="url(#cg)" opacity="0.98" stroke="url(#cg)" stroke-width="1.6" stroke-linejoin="round"/>
<polygon points="131.5,161.0 130.6,165.3 125.6,167.7 121.6,166.1 125.9,162.3" fill="url(#cg)" opacity="1.00" stroke="url(#cg)" stroke-width="1.6" stroke-linejoin="round"/>
<polygon points="59.5,172.8 56.3,178.5 52.5,174.3" fill="url(#cg)" opacity="0.54" stroke="url(#cg)" stroke-width="1.6" stroke-linejoin="round"/>
<polygon points="65.7,165.1 69.2,169.0 61.0,175.3 57.8,173.0" fill="url(#cg)" opacity="0.81" stroke="url(#cg)" stroke-width="1.6" stroke-linejoin="round"/>
<polygon points="70.4,166.8 74.2,169.9 67.9,172.9" fill="url(#cg)" opacity="0.65" stroke="url(#cg)" stroke-width="1.6" stroke-linejoin="round"/>
<polygon points="79.6,167.4 82.0,168.3 83.4,171.9 79.2,175.6 75.6,174.4" fill="url(#cg)" opacity="0.93" stroke="url(#cg)" stroke-width="1.6" stroke-linejoin="round"/>
<polygon points="94.8,178.7 89.8,178.4 82.7,175.6 82.1,172.9 87.8,172.8 93.6,176.0" fill="url(#cg)" opacity="0.73" stroke="url(#cg)" stroke-width="1.6" stroke-linejoin="round"/>
<polygon points="99.5,170.6 100.6,176.0 95.1,177.6 95.6,172.0" fill="url(#cg)" opacity="0.59" stroke="url(#cg)" stroke-width="1.6" stroke-linejoin="round"/>
<polygon points="99.6,169.6 101.7,165.5 105.2,167.2 105.1,171.4 103.7,173.7 100.6,173.2" fill="url(#cg)" opacity="1.00" stroke="url(#cg)" stroke-width="1.6" stroke-linejoin="round"/>
<polygon points="119.9,177.3 114.3,176.6 111.2,174.1 113.4,172.3 119.9,173.6" fill="url(#cg)" opacity="1.00" stroke="url(#cg)" stroke-width="1.6" stroke-linejoin="round"/>
<polygon points="124.6,174.9 118.9,170.0 119.6,166.5 127.3,171.9" fill="url(#cg)" opacity="0.86" stroke="url(#cg)" stroke-width="1.6" stroke-linejoin="round"/>
<polygon points="129.7,178.1 122.9,175.5 127.0,168.8 131.8,171.9" fill="url(#cg)" opacity="0.54" stroke="url(#cg)" stroke-width="1.6" stroke-linejoin="round"/>
<polygon points="47.5,182.6 48.7,173.2 53.1,183.3" fill="url(#cg)" opacity="0.78" stroke="url(#cg)" stroke-width="1.6" stroke-linejoin="round"/>
<polygon points="61.1,183.5 59.0,185.6 53.4,183.9 52.6,179.2 56.4,176.9 62.1,179.5" fill="url(#cg)" opacity="0.54" stroke="url(#cg)" stroke-width="1.6" stroke-linejoin="round"/>
<polygon points="61.1,184.3 65.3,179.4 67.0,185.2 63.5,188.3" fill="url(#cg)" opacity="1.00" stroke="url(#cg)" stroke-width="1.6" stroke-linejoin="round"/>
<polygon points="71.3,182.5 71.0,176.3 76.1,178.0 76.3,182.6" fill="url(#cg)" opacity="1.00" stroke="url(#cg)" stroke-width="1.6" stroke-linejoin="round"/>
<polygon points="83.2,175.5 86.9,177.5 85.4,181.9 80.0,184.3 79.6,180.7" fill="url(#cg)" opacity="0.74" stroke="url(#cg)" stroke-width="1.6" stroke-linejoin="round"/>
<polygon points="90.8,185.3 86.4,176.7 91.7,180.0" fill="url(#cg)" opacity="0.73" stroke="url(#cg)" stroke-width="1.6" stroke-linejoin="round"/>
<polygon points="100.0,187.8 93.0,181.6 102.2,182.8" fill="url(#cg)" opacity="1.00" stroke="url(#cg)" stroke-width="1.6" stroke-linejoin="round"/>
<polygon points="106.7,175.5 110.7,180.8 104.2,185.5" fill="url(#cg)" opacity="0.78" stroke="url(#cg)" stroke-width="1.6" stroke-linejoin="round"/>
<polygon points="114.5,177.9 118.3,174.4 122.3,175.4 122.2,180.6 118.4,185.2 114.1,182.0" fill="url(#cg)" opacity="0.64" stroke="url(#cg)" stroke-width="1.6" stroke-linejoin="round"/>
<polygon points="130.1,183.4 123.2,181.5 122.6,178.7 125.8,176.8 131.3,180.4" fill="url(#cg)" opacity="0.70" stroke="url(#cg)" stroke-width="1.6" stroke-linejoin="round"/>
<polygon points="62.2,191.9 59.2,195.6 49.3,194.2 53.7,190.4" fill="url(#cg)" opacity="0.54" stroke="url(#cg)" stroke-width="1.6" stroke-linejoin="round"/>
<polygon points="66.4,188.0 66.9,191.4 58.3,195.5 55.5,192.5 58.8,189.3" fill="url(#cg)" opacity="0.55" stroke="url(#cg)" stroke-width="1.6" stroke-linejoin="round"/>
<polygon points="79.5,189.3 84.8,186.9 83.3,194.2" fill="url(#cg)" opacity="0.82" stroke="url(#cg)" stroke-width="1.6" stroke-linejoin="round"/>
<polygon points="94.8,185.1 93.7,190.2 89.1,190.9 85.6,187.8 87.4,184.7" fill="url(#cg)" opacity="0.93" stroke="url(#cg)" stroke-width="1.6" stroke-linejoin="round"/>
<polygon points="96.0,194.7 90.5,191.3 91.1,187.4 96.3,190.7" fill="url(#cg)" opacity="0.92" stroke="url(#cg)" stroke-width="1.6" stroke-linejoin="round"/>
<polygon points="103.9,185.5 107.3,189.4 102.8,195.5 97.5,195.9 98.3,190.9" fill="url(#cg)" opacity="0.80" stroke="url(#cg)" stroke-width="1.6" stroke-linejoin="round"/>
<polygon points="119.2,188.6 119.7,192.4 113.4,193.0 113.5,188.8" fill="url(#cg)" opacity="0.53" stroke="url(#cg)" stroke-width="1.6" stroke-linejoin="round"/>
<polygon points="117.7,188.7 119.8,183.4 122.3,187.0 120.3,193.4" fill="url(#cg)" opacity="0.71" stroke="url(#cg)" stroke-width="1.6" stroke-linejoin="round"/>
</g></g>
<text x="89.30" y="129.10" font-size="5.6" class="ml" text-anchor="middle">Control</text>
<clipPath id="c11"><rect x="129.90" y="131.80" width="77.00" height="51.40"/></clipPath>
<rect x="129.90" y="131.80" width="77.00" height="51.40" fill="#000"/>
<g clip-path="url(#c11)">
<g filter="url(#blur3)">
<circle cx="164.7" cy="160.6" r="7.7" fill="#0e560e" opacity="0.19"/>
<circle cx="169.0" cy="162.0" r="4.7" fill="#0e560e" opacity="0.20"/>
<circle cx="178.4" cy="172.6" r="4.4" fill="#0e560e" opacity="0.15"/>
<circle cx="136.9" cy="173.4" r="6.8" fill="#0e560e" opacity="0.10"/>
<circle cx="205.5" cy="181.4" r="6.6" fill="#0e560e" opacity="0.22"/>
<circle cx="142.0" cy="132.6" r="6.1" fill="#0e560e" opacity="0.10"/>
<circle cx="144.5" cy="144.2" r="4.1" fill="#0e560e" opacity="0.19"/>
<circle cx="163.8" cy="175.1" r="6.1" fill="#0e560e" opacity="0.22"/>
<circle cx="168.4" cy="165.8" r="5.8" fill="#0e560e" opacity="0.15"/>
<circle cx="206.7" cy="183.0" r="7.4" fill="#0e560e" opacity="0.24"/>
<circle cx="154.2" cy="143.6" r="5.2" fill="#0e560e" opacity="0.10"/>
<circle cx="188.9" cy="152.4" r="7.4" fill="#0e560e" opacity="0.17"/>
<circle cx="203.7" cy="175.4" r="4.0" fill="#0e560e" opacity="0.13"/>
<circle cx="200.0" cy="156.0" r="7.9" fill="#0e560e" opacity="0.17"/>
<circle cx="135.5" cy="164.2" r="7.1" fill="#0e560e" opacity="0.15"/>
<circle cx="136.6" cy="148.9" r="7.9" fill="#0e560e" opacity="0.25"/>
<circle cx="139.0" cy="144.5" r="4.4" fill="#0e560e" opacity="0.10"/>
<circle cx="191.3" cy="140.9" r="6.2" fill="#0e560e" opacity="0.18"/>
<circle cx="144.6" cy="169.4" r="4.5" fill="#0e560e" opacity="0.23"/>
<circle cx="138.9" cy="153.4" r="4.9" fill="#0e560e" opacity="0.15"/>
<circle cx="204.7" cy="173.1" r="5.2" fill="#0e560e" opacity="0.28"/>
<circle cx="146.1" cy="152.1" r="7.4" fill="#0e560e" opacity="0.22"/>
<circle cx="137.6" cy="182.7" r="4.9" fill="#0e560e" opacity="0.14"/>
<circle cx="189.4" cy="148.7" r="5.2" fill="#0e560e" opacity="0.11"/>
<circle cx="136.8" cy="161.8" r="5.0" fill="#0e560e" opacity="0.22"/>
<circle cx="158.5" cy="155.1" r="7.8" fill="#0e560e" opacity="0.19"/>
<circle cx="174.1" cy="176.3" r="4.7" fill="#0e560e" opacity="0.12"/>
<circle cx="199.8" cy="173.8" r="5.0" fill="#0e560e" opacity="0.13"/>
<circle cx="186.8" cy="180.1" r="4.8" fill="#0e560e" opacity="0.29"/>
<circle cx="197.8" cy="162.8" r="5.7" fill="#0e560e" opacity="0.11"/>
<circle cx="132.9" cy="181.3" r="5.0" fill="#0e560e" opacity="0.24"/>
<circle cx="149.7" cy="174.1" r="6.4" fill="#0e560e" opacity="0.15"/>
<circle cx="143.4" cy="168.8" r="4.3" fill="#0e560e" opacity="0.14"/>
<circle cx="173.0" cy="175.6" r="6.5" fill="#0e560e" opacity="0.15"/>
</g><g filter="url(#blur1)">
<polygon points="123.1,128.1 126.4,124.5 128.6,124.9 129.6,129.5 125.3,131.6" fill="url(#cg)" opacity="0.41" stroke="url(#cg)" stroke-width="1.6" stroke-linejoin="round"/>
<polygon points="141.9,130.5 132.3,131.2 132.9,127.2" fill="url(#cg)" opacity="0.45" stroke="url(#cg)" stroke-width="1.6" stroke-linejoin="round"/>
<polygon points="147.5,125.5 150.5,127.3 143.8,136.6 141.3,134.3" fill="url(#cg)" opacity="0.41" stroke="url(#cg)" stroke-width="1.6" stroke-linejoin="round"/>
<polygon points="145.9,131.4 146.7,125.3 150.3,125.2 152.7,131.8 149.5,136.3" fill="url(#cg)" opacity="0.44" stroke="url(#cg)" stroke-width="1.6" stroke-linejoin="round"/>
<polygon points="160.8,129.0 162.9,134.0 157.0,134.1" fill="url(#cg)" opacity="0.32" stroke="url(#cg)" stroke-width="1.6" stroke-linejoin="round"/>
<polygon points="167.6,126.9 170.6,129.1 163.3,136.0 161.1,131.5" fill="url(#cg)" opacity="0.33" stroke="url(#cg)" stroke-width="1.6" stroke-linejoin="round"/>
<polygon points="177.3,125.0 179.0,127.6 176.4,131.3 171.7,132.8 172.7,128.5" fill="url(#cg)" opacity="0.35" stroke="url(#cg)" stroke-width="1.6" stroke-linejoin="round"/>
<polygon points="189.1,131.9 184.0,133.3 177.1,129.7 185.7,129.0" fill="url(#cg)" opacity="0.51" stroke="url(#cg)" stroke-width="1.6" stroke-linejoin="round"/>
<polygon points="187.2,131.1 190.8,126.4 189.5,134.9" fill="url(#cg)" opacity="0.52" stroke="url(#cg)" stroke-width="1.6" stroke-linejoin="round"/>
<polygon points="204.6,128.4 205.5,131.4 199.6,134.1 195.5,132.8 201.0,129.1" fill="url(#cg)" opacity="0.43" stroke="url(#cg)" stroke-width="1.6" stroke-linejoin="round"/>
<polygon points="205.5,132.1 207.1,124.4 211.2,136.8" fill="url(#cg)" opacity="0.49" stroke="url(#cg)" stroke-width="1.6" stroke-linejoin="round"/>
<polygon points="132.9,137.8 129.5,141.0 125.4,138.8 128.4,134.7" fill="url(#cg)" opacity="0.39" stroke="url(#cg)" stroke-width="1.6" stroke-linejoin="round"/>
<polygon points="146.3,143.1 139.3,140.9 136.7,136.4 140.5,135.0 147.4,139.3" fill="url(#cg)" opacity="0.51" stroke="url(#cg)" stroke-width="1.6" stroke-linejoin="round"/>
<polygon points="153.6,137.7 150.2,139.4 146.0,139.0 144.0,135.9 148.0,134.7 152.2,135.7" fill="url(#cg)" opacity="0.27" stroke="url(#cg)" stroke-width="1.6" stroke-linejoin="round"/>
<polygon points="151.8,141.5 155.9,133.5 157.8,140.5 155.5,145.7" fill="url(#cg)" opacity="0.32" stroke="url(#cg)" stroke-width="1.6" stroke-linejoin="round"/>
<polygon points="165.2,138.4 164.5,131.4 169.5,136.3" fill="url(#cg)" opacity="0.32" stroke="url(#cg)" stroke-width="1.6" stroke-linejoin="round"/>
<polygon points="171.0,134.0 174.2,133.5 174.5,137.1 170.4,142.0 168.4,139.4" fill="url(#cg)" opacity="0.35" stroke="url(#cg)" stroke-width="1.6" stroke-linejoin="round"/>
<polygon points="180.4,136.6 182.9,139.9 178.4,143.4 177.2,139.6" fill="url(#cg)" opacity="0.36" stroke="url(#cg)" stroke-width="1.6" stroke-linejoin="round"/>
<polygon points="185.5,140.5 180.1,135.1 181.5,132.7 187.7,136.2" fill="url(#cg)" opacity="0.39" stroke="url(#cg)" stroke-width="1.6" stroke-linejoin="round"/>
<polygon points="197.7,135.6 191.6,138.2 187.0,136.5 192.1,134.5" fill="url(#cg)" opacity="0.37" stroke="url(#cg)" stroke-width="1.6" stroke-linejoin="round"/>
<polygon points="202.8,134.5 203.0,139.9 196.4,142.8 194.5,139.7" fill="url(#cg)" opacity="0.49" stroke="url(#cg)" stroke-width="1.6" stroke-linejoin="round"/>
<polygon points="219.8,137.2 216.6,140.0 210.4,140.3 206.8,138.9 210.1,136.9 216.3,136.6" fill="url(#cg)" opacity="0.45" stroke="url(#cg)" stroke-width="1.6" stroke-linejoin="round"/>
<polygon points="132.2,144.9 126.3,147.4 122.1,146.4 126.1,144.4" fill="url(#cg)" opacity="0.39" stroke="url(#cg)" stroke-width="1.6" stroke-linejoin="round"/>
<polygon points="139.2,145.1 136.1,145.9 131.6,145.4 129.3,143.3 133.9,141.4 138.8,142.3" fill="url(#cg)" opacity="0.41" stroke="url(#cg)" stroke-width="1.6" stroke-linejoin="round"/>
<polygon points="145.3,151.8 141.7,145.7 142.3,142.3 144.9,144.6 147.4,149.4 147.7,152.4" fill="url(#cg)" opacity="0.40" stroke="url(#cg)" stroke-width="1.6" stroke-linejoin="round"/>
<polygon points="157.2,150.0 149.2,150.6 144.2,147.4 151.6,146.0" fill="url(#cg)" opacity="0.45" stroke="url(#cg)" stroke-width="1.6" stroke-linejoin="round"/>
<polygon points="167.1,142.8 162.3,147.6 156.0,144.9 160.6,141.7" fill="url(#cg)" opacity="0.42" stroke="url(#cg)" stroke-width="1.6" stroke-linejoin="round"/>
<polygon points="165.4,139.6 169.1,144.9 162.3,146.7" fill="url(#cg)" opacity="0.47" stroke="url(#cg)" stroke-width="1.6" stroke-linejoin="round"/>
<polygon points="177.2,139.8 179.6,140.1 176.0,145.2 170.4,148.6 169.4,147.1 173.3,141.3" fill="url(#cg)" opacity="0.49" stroke="url(#cg)" stroke-width="1.6" stroke-linejoin="round"/>
<polygon points="186.0,146.2 189.3,141.1 191.6,149.7" fill="url(#cg)" opacity="0.35" stroke="url(#cg)" stroke-width="1.6" stroke-linejoin="round"/>
<polygon points="206.4,140.9 198.5,146.8 193.6,144.3" fill="url(#cg)" opacity="0.29" stroke="url(#cg)" stroke-width="1.6" stroke-linejoin="round"/>
<polygon points="210.7,140.6 210.9,145.2 203.4,148.1 204.6,143.1" fill="url(#cg)" opacity="0.46" stroke="url(#cg)" stroke-width="1.6" stroke-linejoin="round"/>
<polygon points="136.6,154.1 131.7,156.6 124.3,155.1 129.7,152.8" fill="url(#cg)" opacity="0.41" stroke="url(#cg)" stroke-width="1.6" stroke-linejoin="round"/>
<polygon points="146.1,151.3 142.9,154.8 137.7,153.7 139.7,149.6" fill="url(#cg)" opacity="0.47" stroke="url(#cg)" stroke-width="1.6" stroke-linejoin="round"/>
<polygon points="149.9,156.2 147.0,155.6 143.5,153.6 143.9,150.3 148.2,150.1 150.2,151.9" fill="url(#cg)" opacity="0.47" stroke="url(#cg)" stroke-width="1.6" stroke-linejoin="round"/>
<polygon points="160.7,156.1 148.4,156.7 150.8,151.7" fill="url(#cg)" opacity="0.34" stroke="url(#cg)" stroke-width="1.6" stroke-linejoin="round"/>
<polygon points="168.3,155.5 161.7,157.7 157.1,155.3 163.6,152.8" fill="url(#cg)" opacity="0.48" stroke="url(#cg)" stroke-width="1.6" stroke-linejoin="round"/>
<polygon points="172.6,152.6 178.0,152.2 173.5,158.9" fill="url(#cg)" opacity="0.31" stroke="url(#cg)" stroke-width="1.6" stroke-linejoin="round"/>
<polygon points="175.4,158.2 177.8,151.9 180.1,154.5 178.3,160.1" fill="url(#cg)" opacity="0.30" stroke="url(#cg)" stroke-width="1.6" stroke-linejoin="round"/>
<polygon points="185.2,155.8 185.6,151.1 188.3,149.6 190.4,153.1 190.0,158.5 187.5,158.7" fill="url(#cg)" opacity="0.51" stroke="url(#cg)" stroke-width="1.6" stroke-linejoin="round"/>
<polygon points="201.5,150.1 199.3,152.6 186.2,153.9 187.5,150.5 192.9,148.8" fill="url(#cg)" opacity="0.49" stroke="url(#cg)" stroke-width="1.6" stroke-linejoin="round"/>
<polygon points="206.1,156.5 202.4,153.4 199.8,148.1 203.9,148.3 206.7,150.5 209.7,156.8" fill="url(#cg)" opacity="0.49" stroke="url(#cg)" stroke-width="1.6" stroke-linejoin="round"/>
<polygon points="206.4,152.3 209.3,148.4 211.1,150.7 209.1,157.6 206.0,160.9 205.5,158.5" fill="url(#cg)" opacity="0.33" stroke="url(#cg)" stroke-width="1.6" stroke-linejoin="round"/>
<polygon points="128.7,164.4 126.1,155.7 133.8,164.0" fill="url(#cg)" opacity="0.38" stroke="url(#cg)" stroke-width="1.6" stroke-linejoin="round"/>
<polygon points="136.4,158.4 138.1,164.8 131.1,167.0 129.9,163.2" fill="url(#cg)" opacity="0.35" stroke="url(#cg)" stroke-width="1.6" stroke-linejoin="round"/>
<polygon points="146.5,157.4 146.3,161.8 139.6,162.8 139.4,159.2" fill="url(#cg)" opacity="0.44" stroke="url(#cg)" stroke-width="1.6" stroke-linejoin="round"/>
<polygon points="150.1,160.2 152.0,162.2 145.2,169.4" fill="url(#cg)" opacity="0.50" stroke="url(#cg)" stroke-width="1.6" stroke-linejoin="round"/>
<polygon points="162.0,166.2 157.4,159.1 160.4,158.2 165.0,165.8" fill="url(#cg)" opacity="0.48" stroke="url(#cg)" stroke-width="1.6" stroke-linejoin="round"/>
<polygon points="162.6,164.0 162.5,157.9 166.8,157.5 168.3,163.9 168.2,167.2 164.5,168.0" fill="url(#cg)" opacity="0.38" stroke="url(#cg)" stroke-width="1.6" stroke-linejoin="round"/>
<polygon points="178.4,158.6 175.2,163.2 169.9,161.2 171.4,155.8" fill="url(#cg)" opacity="0.52" stroke="url(#cg)" stroke-width="1.6" stroke-linejoin="round"/>
<polygon points="181.7,161.9 180.2,155.9 186.2,157.2 187.5,164.0" fill="url(#cg)" opacity="0.51" stroke="url(#cg)" stroke-width="1.6" stroke-linejoin="round"/>
<polygon points="190.4,166.8 186.0,163.3 184.7,159.0 189.1,160.0 193.2,164.7" fill="url(#cg)" opacity="0.51" stroke="url(#cg)" stroke-width="1.6" stroke-linejoin="round"/>
<polygon points="211.0,167.0 204.7,163.8 204.2,159.9 209.7,160.8 212.4,165.1" fill="url(#cg)" opacity="0.37" stroke="url(#cg)" stroke-width="1.6" stroke-linejoin="round"/>
<polygon points="137.4,167.1 138.3,170.7 135.2,173.1 130.4,170.5 133.3,166.6" fill="url(#cg)" opacity="0.48" stroke="url(#cg)" stroke-width="1.6" stroke-linejoin="round"/>
<polygon points="146.7,172.9 140.2,173.9 142.4,168.4" fill="url(#cg)" opacity="0.43" stroke="url(#cg)" stroke-width="1.6" stroke-linejoin="round"/>
<polygon points="153.5,174.2 147.4,173.1 142.9,169.0 144.7,168.4 150.7,171.2" fill="url(#cg)" opacity="0.50" stroke="url(#cg)" stroke-width="1.6" stroke-linejoin="round"/>
<polygon points="153.2,166.6 158.5,164.8 153.0,174.5" fill="url(#cg)" opacity="0.31" stroke="url(#cg)" stroke-width="1.6" stroke-linejoin="round"/>
<polygon points="166.3,163.5 168.2,168.2 164.2,171.1 161.7,165.0" fill="url(#cg)" opacity="0.33" stroke="url(#cg)" stroke-width="1.6" stroke-linejoin="round"/>
<polygon points="175.3,163.8 178.7,162.2 175.0,171.1 170.2,173.7" fill="url(#cg)" opacity="0.39" stroke="url(#cg)" stroke-width="1.6" stroke-linejoin="round"/>
<polygon points="181.1,175.0 174.0,169.9 179.7,169.1" fill="url(#cg)" opacity="0.52" stroke="url(#cg)" stroke-width="1.6" stroke-linejoin="round"/>
<polygon points="190.4,172.7 186.9,172.3 184.0,169.0 185.3,167.1 188.9,168.5 191.7,171.6" fill="url(#cg)" opacity="0.50" stroke="url(#cg)" stroke-width="1.6" stroke-linejoin="round"/>
<polygon points="196.5,173.9 187.4,171.0 191.7,169.1" fill="url(#cg)" opacity="0.44" stroke="url(#cg)" stroke-width="1.6" stroke-linejoin="round"/>
<polygon points="207.3,172.0 201.3,167.6 204.3,163.8 210.6,168.6" fill="url(#cg)" opacity="0.42" stroke="url(#cg)" stroke-width="1.6" stroke-linejoin="round"/>
<polygon points="208.6,169.5 211.9,170.5 210.3,174.0 206.6,174.2 206.2,170.8" fill="url(#cg)" opacity="0.40" stroke="url(#cg)" stroke-width="1.6" stroke-linejoin="round"/>
<polygon points="125.1,177.3 125.4,169.7 129.5,179.0" fill="url(#cg)" opacity="0.35" stroke="url(#cg)" stroke-width="1.6" stroke-linejoin="round"/>
<polygon points="140.1,180.6 133.9,179.6 130.6,176.7 135.9,175.5 140.4,177.2" fill="url(#cg)" opacity="0.26" stroke="url(#cg)" stroke-width="1.6" stroke-linejoin="round"/>
<polygon points="153.5,174.3 147.2,177.5 140.4,176.6 143.1,173.8" fill="url(#cg)" opacity="0.37" stroke="url(#cg)" stroke-width="1.6" stroke-linejoin="round"/>
<polygon points="145.9,178.0 147.2,172.4 151.5,171.0 153.5,175.8 153.3,180.8 150.5,181.0" fill="url(#cg)" opacity="0.26" stroke="url(#cg)" stroke-width="1.6" stroke-linejoin="round"/>
<polygon points="155.5,181.1 154.4,175.0 159.5,174.1 161.5,178.7 160.4,183.6" fill="url(#cg)" opacity="0.35" stroke="url(#cg)" stroke-width="1.6" stroke-linejoin="round"/>
<polygon points="168.4,177.8 164.4,178.0 160.2,173.7 161.8,172.2 168.3,174.8" fill="url(#cg)" opacity="0.48" stroke="url(#cg)" stroke-width="1.6" stroke-linejoin="round"/>
<polygon points="176.4,179.4 174.6,176.5 175.3,173.5 178.5,173.5 180.8,177.9 179.5,180.2" fill="url(#cg)" opacity="0.37" stroke="url(#cg)" stroke-width="1.6" stroke-linejoin="round"/>
<polygon points="188.6,175.9 189.8,177.9 186.3,181.4 181.7,182.7 182.7,177.3" fill="url(#cg)" opacity="0.52" stroke="url(#cg)" stroke-width="1.6" stroke-linejoin="round"/>
<polygon points="191.6,181.8 189.1,175.7 191.8,176.0 195.3,182.6" fill="url(#cg)" opacity="0.34" stroke="url(#cg)" stroke-width="1.6" stroke-linejoin="round"/>
<polygon points="194.9,173.9 198.0,169.9 200.3,174.2 199.7,178.7 195.9,180.5" fill="url(#cg)" opacity="0.50" stroke="url(#cg)" stroke-width="1.6" stroke-linejoin="round"/>
<polygon points="214.2,179.3 211.4,181.1 204.9,181.4 205.4,178.4 211.0,177.6" fill="url(#cg)" opacity="0.38" stroke="url(#cg)" stroke-width="1.6" stroke-linejoin="round"/>
<polygon points="132.9,182.8 136.0,178.9 137.5,187.0 134.0,191.3" fill="url(#cg)" opacity="0.26" stroke="url(#cg)" stroke-width="1.6" stroke-linejoin="round"/>
<polygon points="140.2,188.0 137.7,181.8 143.3,183.9" fill="url(#cg)" opacity="0.32" stroke="url(#cg)" stroke-width="1.6" stroke-linejoin="round"/>
<polygon points="151.8,181.2 152.9,182.0 150.4,186.9 146.9,189.1 144.6,188.8 145.7,184.9" fill="url(#cg)" opacity="0.47" stroke="url(#cg)" stroke-width="1.6" stroke-linejoin="round"/>
<polygon points="152.5,185.4 153.9,180.6 156.5,180.9 158.7,185.7 155.6,189.2" fill="url(#cg)" opacity="0.46" stroke="url(#cg)" stroke-width="1.6" stroke-linejoin="round"/>
<polygon points="161.8,182.2 165.7,185.8 158.0,192.3" fill="url(#cg)" opacity="0.30" stroke="url(#cg)" stroke-width="1.6" stroke-linejoin="round"/>
<polygon points="168.9,188.2 167.0,186.1 168.3,182.4 172.4,183.4 172.8,187.5" fill="url(#cg)" opacity="0.47" stroke="url(#cg)" stroke-width="1.6" stroke-linejoin="round"/>
<polygon points="179.1,180.8 182.2,182.5 179.0,185.5 173.3,188.0 174.3,184.0" fill="url(#cg)" opacity="0.48" stroke="url(#cg)" stroke-width="1.6" stroke-linejoin="round"/>
<polygon points="183.4,184.2 183.7,176.4 186.7,180.6 185.9,188.6" fill="url(#cg)" opacity="0.48" stroke="url(#cg)" stroke-width="1.6" stroke-linejoin="round"/>
<polygon points="195.7,184.6 200.3,185.3 200.0,189.7 194.9,189.5" fill="url(#cg)" opacity="0.26" stroke="url(#cg)" stroke-width="1.6" stroke-linejoin="round"/>
<polygon points="204.5,180.3 207.6,182.4 206.7,186.8 202.7,185.7" fill="url(#cg)" opacity="0.42" stroke="url(#cg)" stroke-width="1.6" stroke-linejoin="round"/>
<polygon points="214.4,183.7 210.1,185.4 205.0,184.0 207.7,181.2" fill="url(#cg)" opacity="0.46" stroke="url(#cg)" stroke-width="1.6" stroke-linejoin="round"/>
</g></g>
<text x="168.40" y="129.10" font-size="5.6" class="ml" text-anchor="middle">TBHP</text>
<clipPath id="c12"><rect x="208.90" y="131.80" width="76.70" height="51.40"/></clipPath>
<rect x="208.90" y="131.80" width="76.70" height="51.40" fill="#000"/>
<g clip-path="url(#c12)">
<g filter="url(#blur3)">
<circle cx="245.3" cy="165.6" r="6.7" fill="#0e560e" opacity="0.12"/>
<circle cx="209.7" cy="151.1" r="5.1" fill="#0e560e" opacity="0.26"/>
<circle cx="261.9" cy="162.7" r="6.2" fill="#0e560e" opacity="0.23"/>
<circle cx="220.0" cy="154.4" r="4.6" fill="#0e560e" opacity="0.28"/>
<circle cx="213.4" cy="173.9" r="4.3" fill="#0e560e" opacity="0.23"/>
<circle cx="234.7" cy="152.6" r="7.4" fill="#0e560e" opacity="0.09"/>
<circle cx="213.6" cy="178.8" r="6.0" fill="#0e560e" opacity="0.11"/>
<circle cx="284.6" cy="180.5" r="4.5" fill="#0e560e" opacity="0.18"/>
<circle cx="219.3" cy="147.9" r="6.5" fill="#0e560e" opacity="0.12"/>
<circle cx="262.3" cy="134.4" r="4.7" fill="#0e560e" opacity="0.26"/>
<circle cx="239.6" cy="153.3" r="6.4" fill="#0e560e" opacity="0.19"/>
<circle cx="238.4" cy="133.4" r="6.9" fill="#0e560e" opacity="0.29"/>
<circle cx="283.8" cy="165.9" r="5.4" fill="#0e560e" opacity="0.17"/>
<circle cx="261.8" cy="166.4" r="4.5" fill="#0e560e" opacity="0.14"/>
<circle cx="236.8" cy="158.1" r="7.2" fill="#0e560e" opacity="0.20"/>
<circle cx="211.1" cy="174.1" r="5.7" fill="#0e560e" opacity="0.20"/>
<circle cx="225.9" cy="153.8" r="5.6" fill="#0e560e" opacity="0.25"/>
<circle cx="216.8" cy="160.1" r="4.7" fill="#0e560e" opacity="0.24"/>
<circle cx="211.7" cy="146.0" r="5.4" fill="#0e560e" opacity="0.22"/>
<circle cx="212.9" cy="155.4" r="4.8" fill="#0e560e" opacity="0.15"/>
<circle cx="245.4" cy="181.1" r="5.9" fill="#0e560e" opacity="0.29"/>
<circle cx="221.8" cy="179.3" r="5.5" fill="#0e560e" opacity="0.13"/>
<circle cx="266.3" cy="178.7" r="4.0" fill="#0e560e" opacity="0.15"/>
<circle cx="268.0" cy="149.4" r="5.0" fill="#0e560e" opacity="0.09"/>
<circle cx="212.0" cy="163.6" r="7.9" fill="#0e560e" opacity="0.30"/>
<circle cx="247.5" cy="133.0" r="5.3" fill="#0e560e" opacity="0.26"/>
<circle cx="272.7" cy="164.7" r="4.9" fill="#0e560e" opacity="0.20"/>
<circle cx="245.5" cy="164.0" r="5.1" fill="#0e560e" opacity="0.29"/>
<circle cx="277.5" cy="140.1" r="5.2" fill="#0e560e" opacity="0.27"/>
<circle cx="230.2" cy="180.3" r="6.1" fill="#0e560e" opacity="0.24"/>
<circle cx="263.0" cy="142.8" r="5.1" fill="#0e560e" opacity="0.14"/>
<circle cx="261.3" cy="167.5" r="4.5" fill="#0e560e" opacity="0.28"/>
<circle cx="241.1" cy="144.2" r="5.7" fill="#0e560e" opacity="0.30"/>
<circle cx="251.8" cy="163.9" r="7.7" fill="#0e560e" opacity="0.29"/>
</g><g filter="url(#blur1)">
<polygon points="210.6,134.6 203.7,131.8 203.7,126.2 211.7,129.7" fill="url(#cg)" opacity="0.70" stroke="url(#cg)" stroke-width="1.6" stroke-linejoin="round"/>
<polygon points="214.6,131.4 214.6,126.6 218.5,126.7 219.1,132.7" fill="url(#cg)" opacity="0.38" stroke="url(#cg)" stroke-width="1.6" stroke-linejoin="round"/>
<polygon points="218.1,126.0 222.8,126.3 223.5,131.6 218.1,132.1" fill="url(#cg)" opacity="0.58" stroke="url(#cg)" stroke-width="1.6" stroke-linejoin="round"/>
<polygon points="234.6,124.5 236.4,126.5 231.5,131.8 229.7,129.8" fill="url(#cg)" opacity="0.54" stroke="url(#cg)" stroke-width="1.6" stroke-linejoin="round"/>
<polygon points="241.4,128.8 241.1,131.9 236.7,134.9 234.8,132.0" fill="url(#cg)" opacity="0.36" stroke="url(#cg)" stroke-width="1.6" stroke-linejoin="round"/>
<polygon points="247.2,132.3 247.8,127.2 250.9,128.4 251.9,132.5 248.7,134.9" fill="url(#cg)" opacity="0.40" stroke="url(#cg)" stroke-width="1.6" stroke-linejoin="round"/>
<polygon points="260.5,126.8 261.9,130.8 254.7,134.1 250.5,132.7 253.5,129.5" fill="url(#cg)" opacity="0.69" stroke="url(#cg)" stroke-width="1.6" stroke-linejoin="round"/>
<polygon points="260.1,131.0 264.9,125.0 265.2,132.7 261.8,136.6" fill="url(#cg)" opacity="0.43" stroke="url(#cg)" stroke-width="1.6" stroke-linejoin="round"/>
<polygon points="272.3,128.9 276.7,129.1 276.3,133.4 271.4,137.5 268.6,136.5 269.7,132.1" fill="url(#cg)" opacity="0.51" stroke="url(#cg)" stroke-width="1.6" stroke-linejoin="round"/>
<polygon points="275.2,130.0 279.1,123.6 282.5,127.6 282.9,131.7 278.2,133.6" fill="url(#cg)" opacity="0.51" stroke="url(#cg)" stroke-width="1.6" stroke-linejoin="round"/>
<polygon points="288.8,135.9 285.5,132.5 283.3,130.0 286.1,129.5 290.3,132.4 291.5,135.2" fill="url(#cg)" opacity="0.44" stroke="url(#cg)" stroke-width="1.6" stroke-linejoin="round"/>
<polygon points="211.4,144.3 208.0,140.0 211.6,136.1 216.2,141.4" fill="url(#cg)" opacity="0.47" stroke="url(#cg)" stroke-width="1.6" stroke-linejoin="round"/>
<polygon points="218.8,142.7 217.8,136.1 222.7,138.0 224.0,145.8" fill="url(#cg)" opacity="0.64" stroke="url(#cg)" stroke-width="1.6" stroke-linejoin="round"/>
<polygon points="224.9,139.3 223.0,134.0 224.8,129.9 229.3,134.7 229.1,139.8" fill="url(#cg)" opacity="0.50" stroke="url(#cg)" stroke-width="1.6" stroke-linejoin="round"/>
<polygon points="231.6,135.1 235.8,133.5 236.6,138.4 232.4,141.0" fill="url(#cg)" opacity="0.66" stroke="url(#cg)" stroke-width="1.6" stroke-linejoin="round"/>
<polygon points="247.7,138.7 241.9,138.0 238.9,133.4 245.8,134.9" fill="url(#cg)" opacity="0.54" stroke="url(#cg)" stroke-width="1.6" stroke-linejoin="round"/>
<polygon points="246.5,136.7 249.5,130.9 252.9,136.9 250.6,141.4" fill="url(#cg)" opacity="0.69" stroke="url(#cg)" stroke-width="1.6" stroke-linejoin="round"/>
<polygon points="255.7,143.1 254.0,135.8 259.0,136.8 260.3,144.7" fill="url(#cg)" opacity="0.43" stroke="url(#cg)" stroke-width="1.6" stroke-linejoin="round"/>
<polygon points="268.9,134.8 266.5,142.0 263.0,137.6" fill="url(#cg)" opacity="0.42" stroke="url(#cg)" stroke-width="1.6" stroke-linejoin="round"/>
<polygon points="280.8,140.1 273.4,141.6 269.9,136.2 276.0,135.5" fill="url(#cg)" opacity="0.73" stroke="url(#cg)" stroke-width="1.6" stroke-linejoin="round"/>
<polygon points="289.9,134.1 287.7,136.1 283.4,138.5 279.8,138.2 278.5,136.0 283.8,133.3" fill="url(#cg)" opacity="0.47" stroke="url(#cg)" stroke-width="1.6" stroke-linejoin="round"/>
<polygon points="290.3,134.5 292.3,137.2 286.3,141.4" fill="url(#cg)" opacity="0.40" stroke="url(#cg)" stroke-width="1.6" stroke-linejoin="round"/>
<polygon points="211.3,151.1 202.3,149.5 199.6,146.5 207.1,146.8" fill="url(#cg)" opacity="0.41" stroke="url(#cg)" stroke-width="1.6" stroke-linejoin="round"/>
<polygon points="209.8,148.7 208.2,144.2 213.9,142.2 215.6,148.0" fill="url(#cg)" opacity="0.55" stroke="url(#cg)" stroke-width="1.6" stroke-linejoin="round"/>
<polygon points="225.4,148.2 220.5,141.8 225.7,140.4 230.5,146.5" fill="url(#cg)" opacity="0.58" stroke="url(#cg)" stroke-width="1.6" stroke-linejoin="round"/>
<polygon points="231.9,146.4 234.6,143.4 236.3,151.0 232.8,152.4" fill="url(#cg)" opacity="0.43" stroke="url(#cg)" stroke-width="1.6" stroke-linejoin="round"/>
<polygon points="242.8,146.6 234.3,149.2 230.1,144.3 237.1,143.2" fill="url(#cg)" opacity="0.53" stroke="url(#cg)" stroke-width="1.6" stroke-linejoin="round"/>
<polygon points="240.3,144.0 244.5,141.1 248.4,145.0 244.8,148.6" fill="url(#cg)" opacity="0.57" stroke="url(#cg)" stroke-width="1.6" stroke-linejoin="round"/>
<polygon points="257.3,148.1 250.0,141.1 252.3,138.4 259.3,145.9" fill="url(#cg)" opacity="0.73" stroke="url(#cg)" stroke-width="1.6" stroke-linejoin="round"/>
<polygon points="263.1,143.8 264.4,148.4 258.5,152.8 256.7,147.3" fill="url(#cg)" opacity="0.57" stroke="url(#cg)" stroke-width="1.6" stroke-linejoin="round"/>
<polygon points="274.3,144.3 276.8,141.5 280.7,143.7 279.2,149.7 275.2,151.3" fill="url(#cg)" opacity="0.67" stroke="url(#cg)" stroke-width="1.6" stroke-linejoin="round"/>
<polygon points="287.4,144.1 288.4,148.3 284.4,150.9 282.6,146.3" fill="url(#cg)" opacity="0.40" stroke="url(#cg)" stroke-width="1.6" stroke-linejoin="round"/>
<polygon points="208.0,151.3 211.6,149.8 212.0,154.1 208.2,160.3 205.6,156.4" fill="url(#cg)" opacity="0.48" stroke="url(#cg)" stroke-width="1.6" stroke-linejoin="round"/>
<polygon points="216.8,153.8 215.0,148.2 217.9,147.9 221.1,152.8 221.4,157.1" fill="url(#cg)" opacity="0.64" stroke="url(#cg)" stroke-width="1.6" stroke-linejoin="round"/>
<polygon points="230.4,152.8 222.3,155.9 224.5,148.7" fill="url(#cg)" opacity="0.51" stroke="url(#cg)" stroke-width="1.6" stroke-linejoin="round"/>
<polygon points="233.2,150.3 236.9,151.6 234.7,155.7 230.0,153.7" fill="url(#cg)" opacity="0.73" stroke="url(#cg)" stroke-width="1.6" stroke-linejoin="round"/>
<polygon points="247.5,153.6 244.0,154.9 239.6,151.9 246.0,150.0" fill="url(#cg)" opacity="0.67" stroke="url(#cg)" stroke-width="1.6" stroke-linejoin="round"/>
<polygon points="249.5,157.2 249.3,151.6 254.9,155.1" fill="url(#cg)" opacity="0.65" stroke="url(#cg)" stroke-width="1.6" stroke-linejoin="round"/>
<polygon points="260.4,148.6 264.3,150.6 262.4,154.8 258.7,155.4 258.2,151.2" fill="url(#cg)" opacity="0.55" stroke="url(#cg)" stroke-width="1.6" stroke-linejoin="round"/>
<polygon points="265.6,156.1 261.6,151.4 264.1,148.3 269.9,153.8" fill="url(#cg)" opacity="0.38" stroke="url(#cg)" stroke-width="1.6" stroke-linejoin="round"/>
<polygon points="271.0,150.6 273.8,149.8 275.2,151.4 272.9,158.2 270.6,158.5 269.3,157.0" fill="url(#cg)" opacity="0.42" stroke="url(#cg)" stroke-width="1.6" stroke-linejoin="round"/>
<polygon points="279.7,155.3 281.3,151.3 283.8,151.7 284.6,154.6 282.8,161.1 280.5,159.9" fill="url(#cg)" opacity="0.41" stroke="url(#cg)" stroke-width="1.6" stroke-linejoin="round"/>
<polygon points="297.0,148.5 292.0,155.6 287.3,152.3" fill="url(#cg)" opacity="0.43" stroke="url(#cg)" stroke-width="1.6" stroke-linejoin="round"/>
<polygon points="210.2,166.1 203.7,165.6 200.8,162.8 204.6,160.4 210.5,163.6" fill="url(#cg)" opacity="0.56" stroke="url(#cg)" stroke-width="1.6" stroke-linejoin="round"/>
<polygon points="216.8,156.8 219.9,158.9 216.8,163.9 212.0,165.0 211.7,160.6" fill="url(#cg)" opacity="0.46" stroke="url(#cg)" stroke-width="1.6" stroke-linejoin="round"/>
<polygon points="227.2,165.0 220.3,161.0 220.4,158.1 229.7,162.2" fill="url(#cg)" opacity="0.52" stroke="url(#cg)" stroke-width="1.6" stroke-linejoin="round"/>
<polygon points="229.3,165.5 229.2,159.1 233.5,164.5" fill="url(#cg)" opacity="0.57" stroke="url(#cg)" stroke-width="1.6" stroke-linejoin="round"/>
<polygon points="238.9,159.5 242.8,153.0 243.7,160.9 241.2,165.1" fill="url(#cg)" opacity="0.71" stroke="url(#cg)" stroke-width="1.6" stroke-linejoin="round"/>
<polygon points="253.4,164.8 246.0,164.8 244.0,159.3 253.4,161.6" fill="url(#cg)" opacity="0.67" stroke="url(#cg)" stroke-width="1.6" stroke-linejoin="round"/>
<polygon points="253.3,158.3 256.5,158.4 254.7,165.2 251.3,163.8" fill="url(#cg)" opacity="0.46" stroke="url(#cg)" stroke-width="1.6" stroke-linejoin="round"/>
<polygon points="259.5,162.5 258.0,158.3 260.0,155.0 262.2,158.0 263.6,162.1 262.1,164.5" fill="url(#cg)" opacity="0.58" stroke="url(#cg)" stroke-width="1.6" stroke-linejoin="round"/>
<polygon points="275.8,156.8 276.9,159.4 273.3,163.4 266.9,164.1 266.4,161.2 269.5,158.1" fill="url(#cg)" opacity="0.52" stroke="url(#cg)" stroke-width="1.6" stroke-linejoin="round"/>
<polygon points="275.2,156.5 280.9,156.5 280.5,161.6 275.8,163.4" fill="url(#cg)" opacity="0.55" stroke="url(#cg)" stroke-width="1.6" stroke-linejoin="round"/>
<polygon points="209.6,170.3 211.8,167.3 216.4,169.5 216.9,173.5 211.3,175.5" fill="url(#cg)" opacity="0.41" stroke="url(#cg)" stroke-width="1.6" stroke-linejoin="round"/>
<polygon points="224.6,168.1 219.1,172.9 212.4,171.0 217.6,166.5" fill="url(#cg)" opacity="0.58" stroke="url(#cg)" stroke-width="1.6" stroke-linejoin="round"/>
<polygon points="233.0,166.2 232.0,169.5 229.8,172.2 225.7,170.3 224.2,167.4 228.9,163.8" fill="url(#cg)" opacity="0.61" stroke="url(#cg)" stroke-width="1.6" stroke-linejoin="round"/>
<polygon points="237.5,167.8 240.4,167.9 241.3,170.1 238.1,175.2 234.6,176.2 234.5,172.0" fill="url(#cg)" opacity="0.48" stroke="url(#cg)" stroke-width="1.6" stroke-linejoin="round"/>
<polygon points="248.6,167.9 242.9,169.8 236.7,167.2 237.9,164.2 246.8,165.2" fill="url(#cg)" opacity="0.70" stroke="url(#cg)" stroke-width="1.6" stroke-linejoin="round"/>
<polygon points="250.7,175.6 246.8,172.9 245.3,169.0 247.6,167.7 252.2,171.0 253.7,174.6" fill="url(#cg)" opacity="0.38" stroke="url(#cg)" stroke-width="1.6" stroke-linejoin="round"/>
<polygon points="258.3,166.7 262.6,169.7 258.2,173.8" fill="url(#cg)" opacity="0.49" stroke="url(#cg)" stroke-width="1.6" stroke-linejoin="round"/>
<polygon points="272.5,170.2 266.8,170.4 268.5,166.0" fill="url(#cg)" opacity="0.67" stroke="url(#cg)" stroke-width="1.6" stroke-linejoin="round"/>
<polygon points="274.2,170.7 273.2,164.8 275.1,164.0 278.4,166.4 278.8,171.1 277.3,173.8" fill="url(#cg)" opacity="0.36" stroke="url(#cg)" stroke-width="1.6" stroke-linejoin="round"/>
<polygon points="282.6,163.5 287.1,165.6 284.6,170.3 279.5,168.2" fill="url(#cg)" opacity="0.42" stroke="url(#cg)" stroke-width="1.6" stroke-linejoin="round"/>
<polygon points="205.9,177.3 206.1,173.0 208.4,172.2 211.5,175.7 209.7,177.7" fill="url(#cg)" opacity="0.63" stroke="url(#cg)" stroke-width="1.6" stroke-linejoin="round"/>
<polygon points="213.4,179.9 212.7,173.5 217.5,171.9 217.7,179.0" fill="url(#cg)" opacity="0.68" stroke="url(#cg)" stroke-width="1.6" stroke-linejoin="round"/>
<polygon points="226.8,174.2 226.3,178.5 220.4,180.8 219.1,177.1" fill="url(#cg)" opacity="0.71" stroke="url(#cg)" stroke-width="1.6" stroke-linejoin="round"/>
<polygon points="232.2,180.8 228.1,176.4 228.4,173.1 232.7,173.9 235.2,178.3" fill="url(#cg)" opacity="0.73" stroke="url(#cg)" stroke-width="1.6" stroke-linejoin="round"/>
<polygon points="242.3,179.8 234.2,179.0 236.1,176.1" fill="url(#cg)" opacity="0.42" stroke="url(#cg)" stroke-width="1.6" stroke-linejoin="round"/>
<polygon points="248.2,176.1 251.8,175.2 248.1,182.2 244.4,182.4" fill="url(#cg)" opacity="0.63" stroke="url(#cg)" stroke-width="1.6" stroke-linejoin="round"/>
<polygon points="258.1,178.2 259.3,180.1 253.0,182.7 249.1,180.9 253.6,177.5" fill="url(#cg)" opacity="0.41" stroke="url(#cg)" stroke-width="1.6" stroke-linejoin="round"/>
<polygon points="263.3,178.6 257.9,180.0 258.1,174.3" fill="url(#cg)" opacity="0.47" stroke="url(#cg)" stroke-width="1.6" stroke-linejoin="round"/>
<polygon points="265.5,179.3 263.5,175.1 267.4,172.7 270.2,174.3 270.5,179.2" fill="url(#cg)" opacity="0.68" stroke="url(#cg)" stroke-width="1.6" stroke-linejoin="round"/>
<polygon points="282.1,176.2 279.8,179.5 273.8,179.4 276.3,176.5" fill="url(#cg)" opacity="0.56" stroke="url(#cg)" stroke-width="1.6" stroke-linejoin="round"/>
<polygon points="281.0,175.9 286.3,176.1 284.9,180.8 280.4,181.0" fill="url(#cg)" opacity="0.64" stroke="url(#cg)" stroke-width="1.6" stroke-linejoin="round"/>
<polygon points="212.5,188.8 204.6,184.4 206.3,180.2 212.7,182.8" fill="url(#cg)" opacity="0.66" stroke="url(#cg)" stroke-width="1.6" stroke-linejoin="round"/>
<polygon points="221.3,188.5 215.4,187.3 217.4,181.1 222.6,183.8" fill="url(#cg)" opacity="0.36" stroke="url(#cg)" stroke-width="1.6" stroke-linejoin="round"/>
<polygon points="224.5,186.2 221.9,180.0 223.8,177.4 228.0,182.5 226.8,188.0" fill="url(#cg)" opacity="0.56" stroke="url(#cg)" stroke-width="1.6" stroke-linejoin="round"/>
<polygon points="237.0,181.0 239.2,184.0 238.5,187.0 233.8,189.8 231.0,187.3 231.4,183.3" fill="url(#cg)" opacity="0.43" stroke="url(#cg)" stroke-width="1.6" stroke-linejoin="round"/>
<polygon points="239.6,184.2 243.5,181.1 242.6,188.9 239.0,188.3" fill="url(#cg)" opacity="0.57" stroke="url(#cg)" stroke-width="1.6" stroke-linejoin="round"/>
<polygon points="262.8,181.5 266.3,186.3 259.7,187.0" fill="url(#cg)" opacity="0.42" stroke="url(#cg)" stroke-width="1.6" stroke-linejoin="round"/>
<polygon points="277.6,181.6 279.1,184.9 273.7,188.8 271.9,184.8" fill="url(#cg)" opacity="0.70" stroke="url(#cg)" stroke-width="1.6" stroke-linejoin="round"/>
<polygon points="284.4,182.6 283.3,186.3 277.8,187.4 278.5,182.8" fill="url(#cg)" opacity="0.60" stroke="url(#cg)" stroke-width="1.6" stroke-linejoin="round"/>
</g></g>
<text x="247.25" y="129.10" font-size="5.6" class="ml" text-anchor="middle">Antimycin A</text>
<clipPath id="c13"><rect x="50.90" y="192.90" width="76.80" height="51.00"/></clipPath>
<rect x="50.90" y="192.90" width="76.80" height="51.00" fill="#000"/>
<g clip-path="url(#c13)">
<g filter="url(#blur3)">
<circle cx="70.8" cy="227.8" r="6.7" fill="#0e560e" opacity="0.13"/>
<circle cx="65.2" cy="204.7" r="4.6" fill="#0e560e" opacity="0.07"/>
<circle cx="107.3" cy="199.5" r="6.1" fill="#0e560e" opacity="0.07"/>
<circle cx="73.5" cy="214.9" r="7.4" fill="#0e560e" opacity="0.11"/>
<circle cx="52.0" cy="207.0" r="4.6" fill="#0e560e" opacity="0.14"/>
<circle cx="113.1" cy="234.0" r="7.3" fill="#0e560e" opacity="0.12"/>
<circle cx="123.8" cy="233.4" r="5.0" fill="#0e560e" opacity="0.13"/>
<circle cx="88.3" cy="231.4" r="6.3" fill="#0e560e" opacity="0.09"/>
<circle cx="78.9" cy="214.8" r="5.3" fill="#0e560e" opacity="0.06"/>
<circle cx="113.8" cy="233.6" r="7.9" fill="#0e560e" opacity="0.12"/>
<circle cx="93.5" cy="231.1" r="4.5" fill="#0e560e" opacity="0.12"/>
<circle cx="85.0" cy="201.9" r="4.8" fill="#0e560e" opacity="0.10"/>
<circle cx="70.4" cy="216.3" r="6.4" fill="#0e560e" opacity="0.09"/>
<circle cx="60.9" cy="217.9" r="4.9" fill="#0e560e" opacity="0.07"/>
<circle cx="65.8" cy="211.6" r="4.3" fill="#0e560e" opacity="0.11"/>
<circle cx="124.1" cy="212.8" r="6.9" fill="#0e560e" opacity="0.14"/>
<circle cx="54.2" cy="200.1" r="7.2" fill="#0e560e" opacity="0.13"/>
<circle cx="100.0" cy="201.0" r="5.7" fill="#0e560e" opacity="0.14"/>
<circle cx="119.0" cy="233.9" r="4.8" fill="#0e560e" opacity="0.13"/>
<circle cx="79.7" cy="229.4" r="4.5" fill="#0e560e" opacity="0.15"/>
<circle cx="97.2" cy="229.8" r="4.8" fill="#0e560e" opacity="0.11"/>
<circle cx="95.5" cy="223.1" r="5.4" fill="#0e560e" opacity="0.12"/>
<circle cx="77.1" cy="208.0" r="4.7" fill="#0e560e" opacity="0.12"/>
<circle cx="59.5" cy="204.4" r="4.3" fill="#0e560e" opacity="0.11"/>
<circle cx="93.6" cy="220.6" r="4.2" fill="#0e560e" opacity="0.09"/>
<circle cx="77.2" cy="197.6" r="4.0" fill="#0e560e" opacity="0.15"/>
<circle cx="60.2" cy="208.3" r="5.1" fill="#0e560e" opacity="0.11"/>
<circle cx="56.8" cy="216.9" r="5.5" fill="#0e560e" opacity="0.13"/>
<circle cx="51.3" cy="210.0" r="6.0" fill="#0e560e" opacity="0.15"/>
<circle cx="90.6" cy="217.1" r="6.7" fill="#0e560e" opacity="0.08"/>
<circle cx="53.3" cy="218.5" r="7.6" fill="#0e560e" opacity="0.12"/>
<circle cx="70.7" cy="227.8" r="7.4" fill="#0e560e" opacity="0.07"/>
<circle cx="96.1" cy="211.0" r="5.0" fill="#0e560e" opacity="0.08"/>
<circle cx="66.6" cy="210.8" r="4.2" fill="#0e560e" opacity="0.09"/>
</g><g filter="url(#blur1)">
<polygon points="49.3,193.9 48.4,188.8 52.3,188.3 54.0,194.9" fill="url(#cg)" opacity="0.62" stroke="url(#cg)" stroke-width="1.6" stroke-linejoin="round"/>
<polygon points="61.7,188.1 57.8,190.8 53.0,188.1 55.4,185.6" fill="url(#cg)" opacity="0.91" stroke="url(#cg)" stroke-width="1.6" stroke-linejoin="round"/>
<polygon points="74.6,192.0 68.2,197.6 65.2,190.6" fill="url(#cg)" opacity="0.79" stroke="url(#cg)" stroke-width="1.6" stroke-linejoin="round"/>
<polygon points="75.0,187.3 78.9,191.1 78.2,194.5 73.6,195.2 71.1,193.5 72.4,188.9" fill="url(#cg)" opacity="0.89" stroke="url(#cg)" stroke-width="1.6" stroke-linejoin="round"/>
<polygon points="93.2,192.2 90.7,194.0 85.3,195.8 82.1,194.1 82.6,191.9 88.7,190.1" fill="url(#cg)" opacity="0.65" stroke="url(#cg)" stroke-width="1.6" stroke-linejoin="round"/>
<polygon points="100.8,189.4 100.5,193.6 89.3,198.4 90.1,194.4" fill="url(#cg)" opacity="0.76" stroke="url(#cg)" stroke-width="1.6" stroke-linejoin="round"/>
<polygon points="101.8,192.2 96.4,187.2 101.4,184.6 106.2,189.1" fill="url(#cg)" opacity="0.88" stroke="url(#cg)" stroke-width="1.6" stroke-linejoin="round"/>
<polygon points="118.0,196.4 115.9,193.3 117.3,189.4 120.5,189.4 123.5,191.6 121.9,194.8" fill="url(#cg)" opacity="0.53" stroke="url(#cg)" stroke-width="1.6" stroke-linejoin="round"/>
<polygon points="125.5,189.5 129.6,194.3 122.4,196.8" fill="url(#cg)" opacity="0.55" stroke="url(#cg)" stroke-width="1.6" stroke-linejoin="round"/>
<polygon points="51.3,201.8 47.7,197.1 47.9,194.0 50.7,194.4 54.2,198.7 53.5,201.5" fill="url(#cg)" opacity="0.87" stroke="url(#cg)" stroke-width="1.6" stroke-linejoin="round"/>
<polygon points="66.1,197.2 66.3,200.1 62.4,202.7 59.9,200.7 60.6,197.2" fill="url(#cg)" opacity="1.00" stroke="url(#cg)" stroke-width="1.6" stroke-linejoin="round"/>
<polygon points="69.7,202.7 69.2,194.0 73.6,202.4" fill="url(#cg)" opacity="0.59" stroke="url(#cg)" stroke-width="1.6" stroke-linejoin="round"/>
<polygon points="83.6,202.2 81.1,194.5 83.8,193.1 88.6,201.6" fill="url(#cg)" opacity="0.93" stroke="url(#cg)" stroke-width="1.6" stroke-linejoin="round"/>
<polygon points="95.1,197.9 97.9,192.8 100.6,198.9 97.6,204.2" fill="url(#cg)" opacity="0.57" stroke="url(#cg)" stroke-width="1.6" stroke-linejoin="round"/>
<polygon points="105.7,207.1 97.7,200.6 105.1,201.1" fill="url(#cg)" opacity="0.68" stroke="url(#cg)" stroke-width="1.6" stroke-linejoin="round"/>
<polygon points="107.9,201.9 112.2,198.7 109.9,206.4" fill="url(#cg)" opacity="0.69" stroke="url(#cg)" stroke-width="1.6" stroke-linejoin="round"/>
<polygon points="117.6,198.4 121.5,194.1 125.1,199.5 120.9,202.9" fill="url(#cg)" opacity="0.80" stroke="url(#cg)" stroke-width="1.6" stroke-linejoin="round"/>
<polygon points="130.0,196.1 134.2,195.3 133.5,200.5 129.4,202.8 127.6,200.2" fill="url(#cg)" opacity="0.90" stroke="url(#cg)" stroke-width="1.6" stroke-linejoin="round"/>
<polygon points="57.9,209.4 50.5,211.3 44.3,207.4 53.1,206.0" fill="url(#cg)" opacity="0.74" stroke="url(#cg)" stroke-width="1.6" stroke-linejoin="round"/>
<polygon points="57.8,204.9 61.6,201.9 61.6,210.3 56.8,212.1" fill="url(#cg)" opacity="0.98" stroke="url(#cg)" stroke-width="1.6" stroke-linejoin="round"/>
<polygon points="69.3,210.9 65.8,209.2 65.7,203.4 69.9,201.9 73.9,204.3 73.9,207.8" fill="url(#cg)" opacity="0.73" stroke="url(#cg)" stroke-width="1.6" stroke-linejoin="round"/>
<polygon points="82.9,207.8 87.3,203.3 86.8,211.8 83.3,213.2" fill="url(#cg)" opacity="0.64" stroke="url(#cg)" stroke-width="1.6" stroke-linejoin="round"/>
<polygon points="86.2,211.0 86.5,208.4 89.5,205.9 91.8,208.1 92.5,211.2 89.5,213.9" fill="url(#cg)" opacity="0.96" stroke="url(#cg)" stroke-width="1.6" stroke-linejoin="round"/>
<polygon points="108.8,210.3 100.3,212.9 99.8,206.2" fill="url(#cg)" opacity="0.50" stroke="url(#cg)" stroke-width="1.6" stroke-linejoin="round"/>
<polygon points="105.9,208.9 109.1,202.9 111.7,211.7 108.8,216.7" fill="url(#cg)" opacity="0.82" stroke="url(#cg)" stroke-width="1.6" stroke-linejoin="round"/>
<polygon points="117.3,211.2 112.1,208.2 115.5,204.2 120.6,207.3" fill="url(#cg)" opacity="1.00" stroke="url(#cg)" stroke-width="1.6" stroke-linejoin="round"/>
<polygon points="131.5,207.7 124.0,211.7 122.2,206.6" fill="url(#cg)" opacity="0.97" stroke="url(#cg)" stroke-width="1.6" stroke-linejoin="round"/>
<polygon points="54.0,223.2 50.5,218.8 51.9,215.7 53.9,215.6 56.7,219.2 56.6,222.6" fill="url(#cg)" opacity="0.50" stroke="url(#cg)" stroke-width="1.6" stroke-linejoin="round"/>
<polygon points="74.1,221.1 68.9,217.9 64.8,212.5 69.0,210.9 73.6,213.8 76.2,218.4" fill="url(#cg)" opacity="0.53" stroke="url(#cg)" stroke-width="1.6" stroke-linejoin="round"/>
<polygon points="79.0,216.3 82.9,213.5 83.2,220.1 77.6,223.4" fill="url(#cg)" opacity="0.72" stroke="url(#cg)" stroke-width="1.6" stroke-linejoin="round"/>
<polygon points="90.5,212.9 89.3,218.1 82.0,215.6 84.9,210.3" fill="url(#cg)" opacity="0.73" stroke="url(#cg)" stroke-width="1.6" stroke-linejoin="round"/>
<polygon points="102.9,217.7 94.0,214.0 99.2,210.0" fill="url(#cg)" opacity="0.68" stroke="url(#cg)" stroke-width="1.6" stroke-linejoin="round"/>
<polygon points="105.3,212.5 108.7,214.8 104.2,219.4 99.3,220.5 99.4,214.7" fill="url(#cg)" opacity="0.84" stroke="url(#cg)" stroke-width="1.6" stroke-linejoin="round"/>
<polygon points="113.8,212.7 116.1,216.1 115.0,219.7 111.2,220.8 108.0,218.8 109.0,215.1" fill="url(#cg)" opacity="0.98" stroke="url(#cg)" stroke-width="1.6" stroke-linejoin="round"/>
<polygon points="118.2,210.6 121.8,217.8 115.6,218.7" fill="url(#cg)" opacity="0.98" stroke="url(#cg)" stroke-width="1.6" stroke-linejoin="round"/>
<polygon points="133.9,214.5 128.5,218.4 123.5,217.4 125.9,214.0" fill="url(#cg)" opacity="0.73" stroke="url(#cg)" stroke-width="1.6" stroke-linejoin="round"/>
<polygon points="43.8,227.5 49.1,219.9 49.2,230.8 44.1,235.4" fill="url(#cg)" opacity="0.56" stroke="url(#cg)" stroke-width="1.6" stroke-linejoin="round"/>
<polygon points="57.0,219.7 60.7,220.2 61.4,223.8 56.6,226.5 54.5,225.1" fill="url(#cg)" opacity="0.85" stroke="url(#cg)" stroke-width="1.6" stroke-linejoin="round"/>
<polygon points="66.9,223.9 69.6,226.0 64.4,231.4 62.8,229.2" fill="url(#cg)" opacity="0.73" stroke="url(#cg)" stroke-width="1.6" stroke-linejoin="round"/>
<polygon points="78.1,231.3 73.8,227.5 74.9,223.3 77.6,223.0 81.8,227.6" fill="url(#cg)" opacity="0.67" stroke="url(#cg)" stroke-width="1.6" stroke-linejoin="round"/>
<polygon points="85.0,225.9 78.1,224.6 78.2,219.2 82.6,220.4" fill="url(#cg)" opacity="0.97" stroke="url(#cg)" stroke-width="1.6" stroke-linejoin="round"/>
<polygon points="105.2,223.7 106.1,227.8 99.4,231.8 96.6,230.2" fill="url(#cg)" opacity="0.69" stroke="url(#cg)" stroke-width="1.6" stroke-linejoin="round"/>
<polygon points="106.2,224.7 109.3,225.8 107.7,230.2 104.7,232.5 102.1,229.6 103.7,225.2" fill="url(#cg)" opacity="0.52" stroke="url(#cg)" stroke-width="1.6" stroke-linejoin="round"/>
<polygon points="122.5,227.0 119.7,222.0 120.7,219.4 125.1,222.3 127.1,227.3" fill="url(#cg)" opacity="0.75" stroke="url(#cg)" stroke-width="1.6" stroke-linejoin="round"/>
<polygon points="51.0,228.5 54.6,227.6 54.9,232.0 52.4,236.0 48.2,235.9 47.9,231.4" fill="url(#cg)" opacity="0.61" stroke="url(#cg)" stroke-width="1.6" stroke-linejoin="round"/>
<polygon points="67.6,233.6 63.6,238.3 60.2,234.0 64.9,230.3" fill="url(#cg)" opacity="0.60" stroke="url(#cg)" stroke-width="1.6" stroke-linejoin="round"/>
<polygon points="70.2,234.4 70.0,228.8 75.2,228.5 76.3,235.6" fill="url(#cg)" opacity="0.86" stroke="url(#cg)" stroke-width="1.6" stroke-linejoin="round"/>
<polygon points="86.0,232.2 79.8,233.9 73.9,231.3 81.8,228.4" fill="url(#cg)" opacity="0.91" stroke="url(#cg)" stroke-width="1.6" stroke-linejoin="round"/>
<polygon points="85.9,229.7 88.0,236.3 80.7,237.2" fill="url(#cg)" opacity="1.00" stroke="url(#cg)" stroke-width="1.6" stroke-linejoin="round"/>
<polygon points="98.0,233.9 103.0,230.3 104.5,236.5" fill="url(#cg)" opacity="0.81" stroke="url(#cg)" stroke-width="1.6" stroke-linejoin="round"/>
<polygon points="110.9,238.7 109.7,229.4 115.5,233.4 116.1,242.2" fill="url(#cg)" opacity="0.99" stroke="url(#cg)" stroke-width="1.6" stroke-linejoin="round"/>
<polygon points="128.8,232.3 127.4,234.5 121.5,234.9 120.2,232.1 123.3,229.6 127.8,229.7" fill="url(#cg)" opacity="1.00" stroke="url(#cg)" stroke-width="1.6" stroke-linejoin="round"/>
<polygon points="125.4,229.1 129.8,230.0 124.7,236.0" fill="url(#cg)" opacity="0.69" stroke="url(#cg)" stroke-width="1.6" stroke-linejoin="round"/>
<polygon points="50.6,237.6 54.8,237.7 50.1,246.0" fill="url(#cg)" opacity="0.99" stroke="url(#cg)" stroke-width="1.6" stroke-linejoin="round"/>
<polygon points="59.8,239.1 57.1,244.1 51.7,243.8 51.3,240.3 56.2,238.1" fill="url(#cg)" opacity="0.75" stroke="url(#cg)" stroke-width="1.6" stroke-linejoin="round"/>
<polygon points="63.2,245.3 66.8,238.6 69.8,243.3 69.0,249.5 64.8,250.0" fill="url(#cg)" opacity="0.84" stroke="url(#cg)" stroke-width="1.6" stroke-linejoin="round"/>
<polygon points="75.4,241.4 78.8,245.1 70.1,250.5" fill="url(#cg)" opacity="0.61" stroke="url(#cg)" stroke-width="1.6" stroke-linejoin="round"/>
<polygon points="79.9,245.6 77.4,240.3 79.9,239.0 84.2,244.2" fill="url(#cg)" opacity="0.79" stroke="url(#cg)" stroke-width="1.6" stroke-linejoin="round"/>
<polygon points="91.2,241.0 93.0,237.3 97.2,239.5 96.1,243.9" fill="url(#cg)" opacity="0.95" stroke="url(#cg)" stroke-width="1.6" stroke-linejoin="round"/>
<polygon points="114.3,245.1 110.3,246.9 102.2,243.4 104.7,240.7 112.6,241.2" fill="url(#cg)" opacity="1.00" stroke="url(#cg)" stroke-width="1.6" stroke-linejoin="round"/>
<polygon points="112.4,240.4 116.4,234.7 118.1,243.6 114.4,247.0" fill="url(#cg)" opacity="0.57" stroke="url(#cg)" stroke-width="1.6" stroke-linejoin="round"/>
<polygon points="131.0,239.1 123.2,244.9 119.2,240.7" fill="url(#cg)" opacity="0.50" stroke="url(#cg)" stroke-width="1.6" stroke-linejoin="round"/>
</g></g>
<text x="89.30" y="191.20" font-size="5.6" class="ml" text-anchor="middle">BSA</text>
<clipPath id="c14"><rect x="129.90" y="192.90" width="77.00" height="51.00"/></clipPath>
<rect x="129.90" y="192.90" width="77.00" height="51.00" fill="#000"/>
<g clip-path="url(#c14)">
<g filter="url(#blur3)">
<circle cx="138.1" cy="228.7" r="6.6" fill="#0e560e" opacity="0.19"/>
<circle cx="150.8" cy="205.9" r="6.9" fill="#0e560e" opacity="0.15"/>
<circle cx="153.2" cy="227.8" r="5.6" fill="#0e560e" opacity="0.17"/>
<circle cx="139.0" cy="204.3" r="7.6" fill="#0e560e" opacity="0.11"/>
<circle cx="150.0" cy="233.9" r="6.5" fill="#0e560e" opacity="0.08"/>
<circle cx="172.4" cy="226.8" r="4.7" fill="#0e560e" opacity="0.15"/>
<circle cx="139.4" cy="210.1" r="4.3" fill="#0e560e" opacity="0.09"/>
<circle cx="205.2" cy="213.5" r="8.0" fill="#0e560e" opacity="0.12"/>
<circle cx="176.7" cy="237.4" r="6.7" fill="#0e560e" opacity="0.08"/>
<circle cx="175.3" cy="225.2" r="4.7" fill="#0e560e" opacity="0.07"/>
<circle cx="197.3" cy="219.1" r="4.8" fill="#0e560e" opacity="0.12"/>
<circle cx="146.7" cy="233.6" r="6.0" fill="#0e560e" opacity="0.07"/>
<circle cx="192.9" cy="197.5" r="5.1" fill="#0e560e" opacity="0.06"/>
<circle cx="186.9" cy="198.7" r="6.1" fill="#0e560e" opacity="0.07"/>
<circle cx="166.9" cy="227.9" r="6.1" fill="#0e560e" opacity="0.12"/>
<circle cx="167.2" cy="215.2" r="6.4" fill="#0e560e" opacity="0.07"/>
<circle cx="166.4" cy="204.9" r="7.5" fill="#0e560e" opacity="0.19"/>
<circle cx="135.0" cy="200.2" r="6.8" fill="#0e560e" opacity="0.14"/>
<circle cx="131.4" cy="228.8" r="7.8" fill="#0e560e" opacity="0.12"/>
<circle cx="156.7" cy="221.9" r="7.8" fill="#0e560e" opacity="0.10"/>
<circle cx="153.2" cy="202.5" r="6.5" fill="#0e560e" opacity="0.13"/>
<circle cx="149.6" cy="212.7" r="4.1" fill="#0e560e" opacity="0.10"/>
<circle cx="205.6" cy="222.8" r="5.1" fill="#0e560e" opacity="0.19"/>
<circle cx="157.5" cy="205.7" r="4.1" fill="#0e560e" opacity="0.08"/>
<circle cx="145.2" cy="204.6" r="7.5" fill="#0e560e" opacity="0.10"/>
<circle cx="149.0" cy="223.7" r="7.7" fill="#0e560e" opacity="0.10"/>
<circle cx="188.5" cy="211.7" r="6.2" fill="#0e560e" opacity="0.14"/>
<circle cx="202.5" cy="231.5" r="6.0" fill="#0e560e" opacity="0.18"/>
<circle cx="158.1" cy="212.5" r="7.8" fill="#0e560e" opacity="0.14"/>
<circle cx="189.5" cy="208.9" r="7.7" fill="#0e560e" opacity="0.15"/>
<circle cx="148.9" cy="240.5" r="5.9" fill="#0e560e" opacity="0.11"/>
<circle cx="150.1" cy="198.2" r="4.8" fill="#0e560e" opacity="0.16"/>
<circle cx="140.7" cy="206.1" r="5.8" fill="#0e560e" opacity="0.14"/>
<circle cx="159.2" cy="232.9" r="5.0" fill="#0e560e" opacity="0.11"/>
</g><g filter="url(#blur1)">
<polygon points="126.3,193.5 122.6,187.7 126.9,186.6 128.6,191.2" fill="url(#cg)" opacity="0.33" stroke="url(#cg)" stroke-width="1.6" stroke-linejoin="round"/>
<polygon points="142.7,193.8 133.2,196.1 134.5,190.9" fill="url(#cg)" opacity="0.24" stroke="url(#cg)" stroke-width="1.6" stroke-linejoin="round"/>
<polygon points="142.5,191.7 138.4,185.0 146.3,187.2" fill="url(#cg)" opacity="0.30" stroke="url(#cg)" stroke-width="1.6" stroke-linejoin="round"/>
<polygon points="154.9,194.6 147.7,193.2 150.0,189.0" fill="url(#cg)" opacity="0.30" stroke="url(#cg)" stroke-width="1.6" stroke-linejoin="round"/>
<polygon points="159.0,186.4 161.9,185.5 162.8,188.9 162.3,192.2 158.6,194.1 156.5,191.7" fill="url(#cg)" opacity="0.33" stroke="url(#cg)" stroke-width="1.6" stroke-linejoin="round"/>
<polygon points="165.2,189.3 168.6,187.5 170.1,191.8 166.0,198.5 163.7,196.9" fill="url(#cg)" opacity="0.43" stroke="url(#cg)" stroke-width="1.6" stroke-linejoin="round"/>
<polygon points="178.0,198.1 172.7,191.0 179.5,193.2" fill="url(#cg)" opacity="0.41" stroke="url(#cg)" stroke-width="1.6" stroke-linejoin="round"/>
<polygon points="186.5,197.2 182.6,193.3 184.1,190.2 189.0,192.1" fill="url(#cg)" opacity="0.32" stroke="url(#cg)" stroke-width="1.6" stroke-linejoin="round"/>
<polygon points="192.5,193.2 194.5,187.6 197.9,196.1" fill="url(#cg)" opacity="0.43" stroke="url(#cg)" stroke-width="1.6" stroke-linejoin="round"/>
<polygon points="200.3,185.8 204.5,185.2 202.2,193.1 196.7,191.8" fill="url(#cg)" opacity="0.35" stroke="url(#cg)" stroke-width="1.6" stroke-linejoin="round"/>
<polygon points="210.5,187.9 213.0,185.1 216.7,189.3 215.2,193.3 211.3,194.1" fill="url(#cg)" opacity="0.32" stroke="url(#cg)" stroke-width="1.6" stroke-linejoin="round"/>
<polygon points="134.2,204.9 124.6,201.4 130.3,198.3" fill="url(#cg)" opacity="0.34" stroke="url(#cg)" stroke-width="1.6" stroke-linejoin="round"/>
<polygon points="137.8,204.4 132.7,199.8 135.7,196.0 142.2,201.2" fill="url(#cg)" opacity="0.41" stroke="url(#cg)" stroke-width="1.6" stroke-linejoin="round"/>
<polygon points="149.0,195.6 150.2,200.8 143.8,202.8 144.2,197.4" fill="url(#cg)" opacity="0.46" stroke="url(#cg)" stroke-width="1.6" stroke-linejoin="round"/>
<polygon points="157.5,202.7 158.6,194.9 162.4,198.2 162.4,204.2" fill="url(#cg)" opacity="0.25" stroke="url(#cg)" stroke-width="1.6" stroke-linejoin="round"/>
<polygon points="165.2,195.5 167.0,202.7 159.6,201.3" fill="url(#cg)" opacity="0.43" stroke="url(#cg)" stroke-width="1.6" stroke-linejoin="round"/>
<polygon points="170.9,203.1 173.9,197.8 177.5,203.4 174.5,206.8" fill="url(#cg)" opacity="0.39" stroke="url(#cg)" stroke-width="1.6" stroke-linejoin="round"/>
<polygon points="179.9,196.3 184.1,194.3 185.2,196.9 184.5,202.2 180.1,203.1 178.5,198.8" fill="url(#cg)" opacity="0.32" stroke="url(#cg)" stroke-width="1.6" stroke-linejoin="round"/>
<polygon points="189.5,204.3 185.0,202.5 185.1,198.9 187.8,197.3 190.7,198.0 191.8,202.1" fill="url(#cg)" opacity="0.29" stroke="url(#cg)" stroke-width="1.6" stroke-linejoin="round"/>
<polygon points="194.3,204.4 192.1,201.5 195.9,198.6 198.8,201.8 198.8,204.2" fill="url(#cg)" opacity="0.46" stroke="url(#cg)" stroke-width="1.6" stroke-linejoin="round"/>
<polygon points="211.0,198.3 215.7,193.3 218.2,200.4" fill="url(#cg)" opacity="0.38" stroke="url(#cg)" stroke-width="1.6" stroke-linejoin="round"/>
<polygon points="132.4,208.6 128.6,211.7 123.3,210.2 123.4,206.4 129.1,205.3" fill="url(#cg)" opacity="0.43" stroke="url(#cg)" stroke-width="1.6" stroke-linejoin="round"/>
<polygon points="140.0,201.7 141.1,205.9 134.8,210.0 130.8,208.8 133.1,203.9" fill="url(#cg)" opacity="0.27" stroke="url(#cg)" stroke-width="1.6" stroke-linejoin="round"/>
<polygon points="147.2,202.8 147.5,209.6 141.2,209.2 141.0,206.1" fill="url(#cg)" opacity="0.24" stroke="url(#cg)" stroke-width="1.6" stroke-linejoin="round"/>
<polygon points="153.4,210.4 153.5,204.6 158.9,206.7 159.1,210.5 155.2,213.7" fill="url(#cg)" opacity="0.24" stroke="url(#cg)" stroke-width="1.6" stroke-linejoin="round"/>
<polygon points="166.5,205.2 162.7,209.4 157.0,207.6 158.5,202.8" fill="url(#cg)" opacity="0.25" stroke="url(#cg)" stroke-width="1.6" stroke-linejoin="round"/>
<polygon points="167.2,206.9 171.0,208.7 164.9,214.3" fill="url(#cg)" opacity="0.31" stroke="url(#cg)" stroke-width="1.6" stroke-linejoin="round"/>
<polygon points="182.0,209.9 175.3,204.9 182.2,203.7" fill="url(#cg)" opacity="0.39" stroke="url(#cg)" stroke-width="1.6" stroke-linejoin="round"/>
<polygon points="189.1,204.9 187.5,210.7 181.1,211.6 181.5,207.4" fill="url(#cg)" opacity="0.46" stroke="url(#cg)" stroke-width="1.6" stroke-linejoin="round"/>
<polygon points="199.4,203.4 197.6,208.1 189.1,210.3 187.5,207.0 191.4,202.6" fill="url(#cg)" opacity="0.29" stroke="url(#cg)" stroke-width="1.6" stroke-linejoin="round"/>
<polygon points="209.4,205.8 206.7,209.1 199.6,208.9 201.7,204.9" fill="url(#cg)" opacity="0.35" stroke="url(#cg)" stroke-width="1.6" stroke-linejoin="round"/>
<polygon points="138.2,218.7 130.4,212.6 136.5,210.4" fill="url(#cg)" opacity="0.23" stroke="url(#cg)" stroke-width="1.6" stroke-linejoin="round"/>
<polygon points="140.8,210.2 141.1,215.8 136.9,217.2 133.9,214.4 136.5,208.7" fill="url(#cg)" opacity="0.42" stroke="url(#cg)" stroke-width="1.6" stroke-linejoin="round"/>
<polygon points="147.6,218.4 144.2,213.5 144.9,210.4 149.5,211.7 151.5,215.9 150.2,218.5" fill="url(#cg)" opacity="0.43" stroke="url(#cg)" stroke-width="1.6" stroke-linejoin="round"/>
<polygon points="157.1,220.9 150.4,210.9 157.2,213.2" fill="url(#cg)" opacity="0.23" stroke="url(#cg)" stroke-width="1.6" stroke-linejoin="round"/>
<polygon points="165.1,212.2 164.7,216.6 158.3,214.7 160.0,211.6" fill="url(#cg)" opacity="0.44" stroke="url(#cg)" stroke-width="1.6" stroke-linejoin="round"/>
<polygon points="179.4,210.6 180.0,213.2 177.7,216.6 172.4,216.1 171.0,212.8 174.2,210.3" fill="url(#cg)" opacity="0.26" stroke="url(#cg)" stroke-width="1.6" stroke-linejoin="round"/>
<polygon points="180.9,217.5 179.7,214.3 181.9,208.9 186.2,210.1 188.5,213.6 187.1,217.1" fill="url(#cg)" opacity="0.34" stroke="url(#cg)" stroke-width="1.6" stroke-linejoin="round"/>
<polygon points="185.5,216.2 190.1,214.6 190.8,218.4 185.7,223.2 184.5,220.2" fill="url(#cg)" opacity="0.43" stroke="url(#cg)" stroke-width="1.6" stroke-linejoin="round"/>
<polygon points="205.7,213.9 203.1,216.4 197.4,214.5 197.6,211.0 203.3,210.9" fill="url(#cg)" opacity="0.28" stroke="url(#cg)" stroke-width="1.6" stroke-linejoin="round"/>
<polygon points="210.1,220.3 205.4,218.5 204.6,216.2 208.9,214.3 212.7,216.8" fill="url(#cg)" opacity="0.34" stroke="url(#cg)" stroke-width="1.6" stroke-linejoin="round"/>
<polygon points="216.6,209.8 218.9,213.6 212.6,217.5 212.7,212.6" fill="url(#cg)" opacity="0.34" stroke="url(#cg)" stroke-width="1.6" stroke-linejoin="round"/>
<polygon points="132.6,227.8 125.8,224.7 131.4,221.0" fill="url(#cg)" opacity="0.42" stroke="url(#cg)" stroke-width="1.6" stroke-linejoin="round"/>
<polygon points="139.6,218.1 136.1,225.6 130.3,222.2" fill="url(#cg)" opacity="0.40" stroke="url(#cg)" stroke-width="1.6" stroke-linejoin="round"/>
<polygon points="150.9,226.8 142.2,229.1 145.2,222.7" fill="url(#cg)" opacity="0.44" stroke="url(#cg)" stroke-width="1.6" stroke-linejoin="round"/>
<polygon points="147.5,224.3 152.5,219.4 153.4,228.5 147.8,230.2" fill="url(#cg)" opacity="0.34" stroke="url(#cg)" stroke-width="1.6" stroke-linejoin="round"/>
<polygon points="161.1,220.5 165.3,221.9 162.4,228.3 157.4,225.4" fill="url(#cg)" opacity="0.41" stroke="url(#cg)" stroke-width="1.6" stroke-linejoin="round"/>
<polygon points="170.2,228.7 164.5,227.3 164.6,223.4 171.2,225.4" fill="url(#cg)" opacity="0.40" stroke="url(#cg)" stroke-width="1.6" stroke-linejoin="round"/>
<polygon points="175.6,226.8 177.0,221.6 181.6,221.7 183.0,230.9 180.3,232.0" fill="url(#cg)" opacity="0.25" stroke="url(#cg)" stroke-width="1.6" stroke-linejoin="round"/>
<polygon points="185.0,225.7 182.1,220.7 184.6,218.6 188.3,221.4 188.3,225.4" fill="url(#cg)" opacity="0.35" stroke="url(#cg)" stroke-width="1.6" stroke-linejoin="round"/>
<polygon points="198.4,223.6 196.3,229.7 191.6,227.5" fill="url(#cg)" opacity="0.42" stroke="url(#cg)" stroke-width="1.6" stroke-linejoin="round"/>
<polygon points="201.4,230.8 198.3,225.0 203.1,221.9 206.7,225.5" fill="url(#cg)" opacity="0.29" stroke="url(#cg)" stroke-width="1.6" stroke-linejoin="round"/>
<polygon points="208.6,221.0 213.4,219.5 214.4,224.6 208.1,226.8" fill="url(#cg)" opacity="0.29" stroke="url(#cg)" stroke-width="1.6" stroke-linejoin="round"/>
<polygon points="131.6,237.1 131.4,232.7 134.4,230.4 137.1,232.8 136.9,237.4" fill="url(#cg)" opacity="0.45" stroke="url(#cg)" stroke-width="1.6" stroke-linejoin="round"/>
<polygon points="144.0,235.4 141.8,237.4 138.3,239.2 136.2,235.1 138.4,232.6 141.8,232.2" fill="url(#cg)" opacity="0.47" stroke="url(#cg)" stroke-width="1.6" stroke-linejoin="round"/>
<polygon points="149.7,227.2 151.3,229.9 149.1,234.5 144.1,236.2 143.9,231.9" fill="url(#cg)" opacity="0.42" stroke="url(#cg)" stroke-width="1.6" stroke-linejoin="round"/>
<polygon points="161.5,232.1 162.5,224.3 166.7,228.4 166.7,234.5" fill="url(#cg)" opacity="0.45" stroke="url(#cg)" stroke-width="1.6" stroke-linejoin="round"/>
<polygon points="179.1,229.4 177.2,234.8 170.6,234.6 171.8,230.0" fill="url(#cg)" opacity="0.39" stroke="url(#cg)" stroke-width="1.6" stroke-linejoin="round"/>
<polygon points="185.4,236.7 181.0,234.5 184.4,229.0 189.1,232.0" fill="url(#cg)" opacity="0.25" stroke="url(#cg)" stroke-width="1.6" stroke-linejoin="round"/>
<polygon points="184.3,230.2 188.8,227.2 189.8,232.2 185.5,233.3" fill="url(#cg)" opacity="0.46" stroke="url(#cg)" stroke-width="1.6" stroke-linejoin="round"/>
<polygon points="211.4,230.2 212.9,232.1 211.2,237.5 206.0,239.4 205.1,235.8 206.3,233.3" fill="url(#cg)" opacity="0.26" stroke="url(#cg)" stroke-width="1.6" stroke-linejoin="round"/>
<polygon points="218.5,234.0 215.9,237.2 212.1,236.7 210.8,234.6 214.3,232.4" fill="url(#cg)" opacity="0.37" stroke="url(#cg)" stroke-width="1.6" stroke-linejoin="round"/>
<polygon points="128.4,239.3 133.3,238.4 132.6,242.6 127.8,244.4" fill="url(#cg)" opacity="0.25" stroke="url(#cg)" stroke-width="1.6" stroke-linejoin="round"/>
<polygon points="134.3,243.0 130.7,237.4 135.1,237.0 137.0,242.8" fill="url(#cg)" opacity="0.37" stroke="url(#cg)" stroke-width="1.6" stroke-linejoin="round"/>
<polygon points="150.4,245.1 149.9,239.1 153.9,240.8 155.1,246.5" fill="url(#cg)" opacity="0.25" stroke="url(#cg)" stroke-width="1.6" stroke-linejoin="round"/>
<polygon points="160.4,243.5 160.3,239.0 163.4,238.9 166.8,244.0 162.9,245.8" fill="url(#cg)" opacity="0.43" stroke="url(#cg)" stroke-width="1.6" stroke-linejoin="round"/>
<polygon points="171.5,235.2 172.8,239.8 169.2,242.0 166.4,237.8" fill="url(#cg)" opacity="0.38" stroke="url(#cg)" stroke-width="1.6" stroke-linejoin="round"/>
<polygon points="177.9,245.8 178.3,240.9 184.5,241.8 183.8,246.7" fill="url(#cg)" opacity="0.33" stroke="url(#cg)" stroke-width="1.6" stroke-linejoin="round"/>
<polygon points="180.7,244.0 182.5,240.1 185.4,240.8 186.7,244.7 185.2,247.4 181.5,246.7" fill="url(#cg)" opacity="0.39" stroke="url(#cg)" stroke-width="1.6" stroke-linejoin="round"/>
<polygon points="197.2,240.3 195.2,245.5 190.4,243.4 192.8,238.8" fill="url(#cg)" opacity="0.27" stroke="url(#cg)" stroke-width="1.6" stroke-linejoin="round"/>
<polygon points="204.2,238.5 204.4,243.0 199.2,247.1 197.1,244.2 199.1,239.3" fill="url(#cg)" opacity="0.27" stroke="url(#cg)" stroke-width="1.6" stroke-linejoin="round"/>
<polygon points="211.9,239.7 209.7,243.9 203.6,242.5 205.8,238.6" fill="url(#cg)" opacity="0.32" stroke="url(#cg)" stroke-width="1.6" stroke-linejoin="round"/>
<polygon points="135.7,244.0 134.4,249.5 128.9,245.7" fill="url(#cg)" opacity="0.39" stroke="url(#cg)" stroke-width="1.6" stroke-linejoin="round"/>
<polygon points="143.8,242.6 148.4,247.3 143.4,251.9 139.0,249.6" fill="url(#cg)" opacity="0.47" stroke="url(#cg)" stroke-width="1.6" stroke-linejoin="round"/>
<polygon points="151.1,244.9 145.8,249.8 145.2,243.8" fill="url(#cg)" opacity="0.45" stroke="url(#cg)" stroke-width="1.6" stroke-linejoin="round"/>
<polygon points="154.1,250.1 158.0,247.5 161.0,251.2 158.4,255.1" fill="url(#cg)" opacity="0.31" stroke="url(#cg)" stroke-width="1.6" stroke-linejoin="round"/>
<polygon points="161.4,251.1 160.1,246.9 164.6,243.0 168.6,247.6 167.4,250.7" fill="url(#cg)" opacity="0.35" stroke="url(#cg)" stroke-width="1.6" stroke-linejoin="round"/>
<polygon points="169.6,247.5 170.4,242.1 174.8,245.1 173.4,251.8" fill="url(#cg)" opacity="0.26" stroke="url(#cg)" stroke-width="1.6" stroke-linejoin="round"/>
<polygon points="179.4,242.6 185.2,245.3 183.1,250.9 177.7,247.7" fill="url(#cg)" opacity="0.30" stroke="url(#cg)" stroke-width="1.6" stroke-linejoin="round"/>
<polygon points="201.3,251.8 194.4,253.7 192.6,250.0 195.7,246.1 199.7,247.8" fill="url(#cg)" opacity="0.33" stroke="url(#cg)" stroke-width="1.6" stroke-linejoin="round"/>
<polygon points="205.7,254.2 201.0,251.1 200.0,246.1 204.5,246.3 209.8,251.8" fill="url(#cg)" opacity="0.31" stroke="url(#cg)" stroke-width="1.6" stroke-linejoin="round"/>
<polygon points="216.2,245.2 215.4,249.9 208.8,252.3 207.9,247.3" fill="url(#cg)" opacity="0.31" stroke="url(#cg)" stroke-width="1.6" stroke-linejoin="round"/>
</g></g>
<text x="168.40" y="191.20" font-size="5.6" class="ml" text-anchor="middle">PA</text>
<clipPath id="c15"><rect x="208.90" y="192.90" width="76.70" height="51.00"/></clipPath>
<rect x="208.90" y="192.90" width="76.70" height="51.00" fill="#000"/>
<g clip-path="url(#c15)">
<g filter="url(#blur3)">
<circle cx="282.9" cy="193.5" r="6.9" fill="#0e560e" opacity="0.10"/>
<circle cx="284.6" cy="193.8" r="7.5" fill="#0e560e" opacity="0.19"/>
<circle cx="274.7" cy="243.9" r="5.0" fill="#0e560e" opacity="0.13"/>
<circle cx="263.2" cy="207.2" r="5.1" fill="#0e560e" opacity="0.12"/>
<circle cx="274.7" cy="237.5" r="7.2" fill="#0e560e" opacity="0.11"/>
<circle cx="279.8" cy="219.0" r="4.9" fill="#0e560e" opacity="0.15"/>
<circle cx="241.1" cy="196.9" r="6.3" fill="#0e560e" opacity="0.14"/>
<circle cx="252.6" cy="240.3" r="6.6" fill="#0e560e" opacity="0.15"/>
<circle cx="275.1" cy="243.7" r="6.0" fill="#0e560e" opacity="0.24"/>
<circle cx="210.3" cy="200.1" r="4.7" fill="#0e560e" opacity="0.24"/>
<circle cx="261.9" cy="229.6" r="5.1" fill="#0e560e" opacity="0.16"/>
<circle cx="276.9" cy="198.0" r="4.5" fill="#0e560e" opacity="0.08"/>
<circle cx="244.8" cy="235.8" r="6.2" fill="#0e560e" opacity="0.15"/>
<circle cx="247.4" cy="202.0" r="7.8" fill="#0e560e" opacity="0.14"/>
<circle cx="226.9" cy="208.8" r="7.3" fill="#0e560e" opacity="0.13"/>
<circle cx="278.3" cy="210.0" r="5.8" fill="#0e560e" opacity="0.09"/>
<circle cx="278.5" cy="233.5" r="5.9" fill="#0e560e" opacity="0.10"/>
<circle cx="246.7" cy="212.1" r="7.4" fill="#0e560e" opacity="0.24"/>
<circle cx="265.7" cy="207.5" r="4.2" fill="#0e560e" opacity="0.23"/>
<circle cx="281.3" cy="201.0" r="6.0" fill="#0e560e" opacity="0.16"/>
<circle cx="283.8" cy="195.1" r="4.2" fill="#0e560e" opacity="0.22"/>
<circle cx="252.6" cy="216.5" r="7.1" fill="#0e560e" opacity="0.18"/>
<circle cx="262.0" cy="205.9" r="4.3" fill="#0e560e" opacity="0.08"/>
<circle cx="234.4" cy="226.0" r="5.5" fill="#0e560e" opacity="0.14"/>
<circle cx="256.3" cy="228.9" r="6.4" fill="#0e560e" opacity="0.13"/>
<circle cx="271.9" cy="233.7" r="7.6" fill="#0e560e" opacity="0.23"/>
<circle cx="210.1" cy="227.0" r="5.4" fill="#0e560e" opacity="0.14"/>
<circle cx="248.6" cy="200.2" r="5.0" fill="#0e560e" opacity="0.25"/>
<circle cx="234.3" cy="239.5" r="6.7" fill="#0e560e" opacity="0.13"/>
<circle cx="233.3" cy="223.7" r="6.8" fill="#0e560e" opacity="0.13"/>
<circle cx="213.4" cy="201.7" r="7.4" fill="#0e560e" opacity="0.20"/>
<circle cx="217.2" cy="235.5" r="6.3" fill="#0e560e" opacity="0.13"/>
<circle cx="277.5" cy="199.5" r="4.4" fill="#0e560e" opacity="0.14"/>
<circle cx="265.5" cy="220.8" r="5.9" fill="#0e560e" opacity="0.23"/>
</g><g filter="url(#blur1)">
<polygon points="207.2,191.3 207.0,183.6 211.5,186.1 210.5,194.1" fill="url(#cg)" opacity="0.69" stroke="url(#cg)" stroke-width="1.6" stroke-linejoin="round"/>
<polygon points="222.8,189.4 219.9,193.5 211.4,193.5 213.5,189.7" fill="url(#cg)" opacity="0.86" stroke="url(#cg)" stroke-width="1.6" stroke-linejoin="round"/>
<polygon points="219.1,186.6 223.4,186.0 220.1,192.9" fill="url(#cg)" opacity="0.60" stroke="url(#cg)" stroke-width="1.6" stroke-linejoin="round"/>
<polygon points="231.8,192.9 230.7,189.9 230.2,185.4 234.4,187.6 236.7,194.0 236.3,196.4" fill="url(#cg)" opacity="0.43" stroke="url(#cg)" stroke-width="1.6" stroke-linejoin="round"/>
<polygon points="239.8,190.6 237.0,194.8 231.0,194.5 232.1,190.3" fill="url(#cg)" opacity="0.61" stroke="url(#cg)" stroke-width="1.6" stroke-linejoin="round"/>
<polygon points="248.7,188.2 252.7,189.4 251.0,195.7 246.1,192.5" fill="url(#cg)" opacity="0.83" stroke="url(#cg)" stroke-width="1.6" stroke-linejoin="round"/>
<polygon points="251.6,188.2 255.0,185.6 257.4,190.2 251.9,195.3" fill="url(#cg)" opacity="0.77" stroke="url(#cg)" stroke-width="1.6" stroke-linejoin="round"/>
<polygon points="261.2,196.4 258.2,190.8 259.9,187.2 263.7,189.9 266.4,196.0" fill="url(#cg)" opacity="0.63" stroke="url(#cg)" stroke-width="1.6" stroke-linejoin="round"/>
<polygon points="270.3,195.0 268.3,187.4 272.6,188.2 274.6,197.9" fill="url(#cg)" opacity="0.48" stroke="url(#cg)" stroke-width="1.6" stroke-linejoin="round"/>
<polygon points="279.9,197.3 277.6,196.4 275.1,192.4 275.2,189.4 280.6,191.8 284.1,196.6" fill="url(#cg)" opacity="0.56" stroke="url(#cg)" stroke-width="1.6" stroke-linejoin="round"/>
<polygon points="288.7,187.7 291.9,188.2 286.8,194.5 282.2,195.4 282.2,192.0" fill="url(#cg)" opacity="0.77" stroke="url(#cg)" stroke-width="1.6" stroke-linejoin="round"/>
<polygon points="212.3,195.8 210.2,202.3 205.9,197.5" fill="url(#cg)" opacity="0.41" stroke="url(#cg)" stroke-width="1.6" stroke-linejoin="round"/>
<polygon points="226.3,197.5 220.2,200.6 217.6,196.6 222.6,195.0" fill="url(#cg)" opacity="0.46" stroke="url(#cg)" stroke-width="1.6" stroke-linejoin="round"/>
<polygon points="229.9,199.7 226.3,205.5 221.3,203.3 222.5,199.3" fill="url(#cg)" opacity="0.85" stroke="url(#cg)" stroke-width="1.6" stroke-linejoin="round"/>
<polygon points="230.7,202.9 227.3,195.5 233.7,196.9 235.7,202.7" fill="url(#cg)" opacity="0.47" stroke="url(#cg)" stroke-width="1.6" stroke-linejoin="round"/>
<polygon points="242.6,201.4 238.5,192.5 244.6,196.5" fill="url(#cg)" opacity="0.56" stroke="url(#cg)" stroke-width="1.6" stroke-linejoin="round"/>
<polygon points="257.1,200.9 250.8,200.8 247.1,197.7 252.3,195.4 257.5,197.7" fill="url(#cg)" opacity="0.58" stroke="url(#cg)" stroke-width="1.6" stroke-linejoin="round"/>
<polygon points="263.8,202.5 255.3,199.4 260.8,197.6" fill="url(#cg)" opacity="0.60" stroke="url(#cg)" stroke-width="1.6" stroke-linejoin="round"/>
<polygon points="262.7,204.1 258.8,196.5 266.7,201.7" fill="url(#cg)" opacity="0.66" stroke="url(#cg)" stroke-width="1.6" stroke-linejoin="round"/>
<polygon points="275.6,202.6 270.6,195.3 279.4,196.9" fill="url(#cg)" opacity="0.76" stroke="url(#cg)" stroke-width="1.6" stroke-linejoin="round"/>
<polygon points="284.3,203.1 279.7,204.6 276.8,199.3 282.3,198.5" fill="url(#cg)" opacity="0.41" stroke="url(#cg)" stroke-width="1.6" stroke-linejoin="round"/>
<polygon points="286.0,197.2 289.0,198.2 288.9,203.2 284.5,201.8" fill="url(#cg)" opacity="0.68" stroke="url(#cg)" stroke-width="1.6" stroke-linejoin="round"/>
<polygon points="213.6,209.7 207.3,207.0 206.5,202.3 213.7,205.9" fill="url(#cg)" opacity="0.42" stroke="url(#cg)" stroke-width="1.6" stroke-linejoin="round"/>
<polygon points="209.9,207.7 213.4,205.1 217.9,208.5 214.4,212.5 210.2,211.3" fill="url(#cg)" opacity="0.48" stroke="url(#cg)" stroke-width="1.6" stroke-linejoin="round"/>
<polygon points="221.0,208.8 220.3,203.9 223.3,201.4 225.3,203.3 226.5,208.6 223.3,210.7" fill="url(#cg)" opacity="0.49" stroke="url(#cg)" stroke-width="1.6" stroke-linejoin="round"/>
<polygon points="230.3,204.6 232.6,206.2 226.9,213.0 224.3,210.8" fill="url(#cg)" opacity="0.47" stroke="url(#cg)" stroke-width="1.6" stroke-linejoin="round"/>
<polygon points="234.0,203.6 237.5,201.2 239.2,207.3 235.0,209.6" fill="url(#cg)" opacity="0.51" stroke="url(#cg)" stroke-width="1.6" stroke-linejoin="round"/>
<polygon points="246.3,201.3 249.0,207.3 243.0,208.0" fill="url(#cg)" opacity="0.42" stroke="url(#cg)" stroke-width="1.6" stroke-linejoin="round"/>
<polygon points="260.6,206.5 258.8,210.1 253.6,210.5 251.8,209.1 255.3,206.6" fill="url(#cg)" opacity="0.74" stroke="url(#cg)" stroke-width="1.6" stroke-linejoin="round"/>
<polygon points="263.5,204.2 264.6,207.1 261.4,208.6 258.6,207.9 257.2,206.2 260.8,203.5" fill="url(#cg)" opacity="0.79" stroke="url(#cg)" stroke-width="1.6" stroke-linejoin="round"/>
<polygon points="269.1,206.7 273.6,205.9 272.1,210.6 267.9,210.5" fill="url(#cg)" opacity="0.78" stroke="url(#cg)" stroke-width="1.6" stroke-linejoin="round"/>
<polygon points="285.4,206.6 279.7,209.1 276.1,206.6 278.5,204.1" fill="url(#cg)" opacity="0.75" stroke="url(#cg)" stroke-width="1.6" stroke-linejoin="round"/>
<polygon points="279.8,211.5 282.1,205.1 286.5,212.3" fill="url(#cg)" opacity="0.85" stroke="url(#cg)" stroke-width="1.6" stroke-linejoin="round"/>
<polygon points="209.3,220.7 205.0,218.3 205.7,212.7 209.5,212.5 212.3,215.9 211.9,219.0" fill="url(#cg)" opacity="0.76" stroke="url(#cg)" stroke-width="1.6" stroke-linejoin="round"/>
<polygon points="215.7,217.4 214.5,212.9 217.6,210.5 220.6,215.6" fill="url(#cg)" opacity="0.74" stroke="url(#cg)" stroke-width="1.6" stroke-linejoin="round"/>
<polygon points="225.9,219.2 224.1,213.0 225.9,208.6 229.7,214.2 229.3,220.4" fill="url(#cg)" opacity="0.77" stroke="url(#cg)" stroke-width="1.6" stroke-linejoin="round"/>
<polygon points="234.3,215.8 236.6,211.3 239.8,216.9 235.7,219.1" fill="url(#cg)" opacity="0.66" stroke="url(#cg)" stroke-width="1.6" stroke-linejoin="round"/>
<polygon points="247.6,212.2 247.1,215.3 241.3,216.9 238.6,215.9 242.9,212.8" fill="url(#cg)" opacity="0.57" stroke="url(#cg)" stroke-width="1.6" stroke-linejoin="round"/>
<polygon points="253.2,216.1 249.3,218.3 242.7,216.3 249.8,213.3" fill="url(#cg)" opacity="0.47" stroke="url(#cg)" stroke-width="1.6" stroke-linejoin="round"/>
<polygon points="265.7,213.1 265.0,215.3 259.4,217.5 257.8,215.7 261.9,212.6" fill="url(#cg)" opacity="0.56" stroke="url(#cg)" stroke-width="1.6" stroke-linejoin="round"/>
<polygon points="269.7,218.0 264.6,218.6 261.4,216.4 261.4,214.6 266.0,214.7 268.9,215.9" fill="url(#cg)" opacity="0.69" stroke="url(#cg)" stroke-width="1.6" stroke-linejoin="round"/>
<polygon points="272.8,212.1 275.5,209.4 277.1,214.0 273.7,216.5" fill="url(#cg)" opacity="0.84" stroke="url(#cg)" stroke-width="1.6" stroke-linejoin="round"/>
<polygon points="287.7,211.7 289.6,217.5 284.0,217.5" fill="url(#cg)" opacity="0.71" stroke="url(#cg)" stroke-width="1.6" stroke-linejoin="round"/>
<polygon points="208.5,218.5 212.1,216.7 212.9,220.8 209.5,224.8 207.2,225.1 206.3,222.0" fill="url(#cg)" opacity="0.73" stroke="url(#cg)" stroke-width="1.6" stroke-linejoin="round"/>
<polygon points="215.8,216.5 220.1,217.9 212.3,227.0" fill="url(#cg)" opacity="0.62" stroke="url(#cg)" stroke-width="1.6" stroke-linejoin="round"/>
<polygon points="219.4,228.1 217.4,223.8 220.7,221.8 223.8,226.2" fill="url(#cg)" opacity="0.61" stroke="url(#cg)" stroke-width="1.6" stroke-linejoin="round"/>
<polygon points="231.0,223.4 232.9,216.3 236.1,219.8 235.0,225.9" fill="url(#cg)" opacity="0.68" stroke="url(#cg)" stroke-width="1.6" stroke-linejoin="round"/>
<polygon points="233.2,219.4 238.5,215.1 240.2,221.9 234.8,225.1" fill="url(#cg)" opacity="0.42" stroke="url(#cg)" stroke-width="1.6" stroke-linejoin="round"/>
<polygon points="250.2,220.5 244.8,223.8 241.5,221.0 243.9,219.0" fill="url(#cg)" opacity="0.48" stroke="url(#cg)" stroke-width="1.6" stroke-linejoin="round"/>
<polygon points="253.4,227.9 249.5,224.1 254.9,221.7" fill="url(#cg)" opacity="0.69" stroke="url(#cg)" stroke-width="1.6" stroke-linejoin="round"/>
<polygon points="266.4,222.9 264.4,228.9 258.8,226.4 259.5,221.3" fill="url(#cg)" opacity="0.70" stroke="url(#cg)" stroke-width="1.6" stroke-linejoin="round"/>
<polygon points="277.4,223.2 274.7,224.7 267.6,223.5 269.0,220.2 274.9,220.2" fill="url(#cg)" opacity="0.86" stroke="url(#cg)" stroke-width="1.6" stroke-linejoin="round"/>
<polygon points="277.1,226.9 272.0,223.3 275.5,219.0 280.6,224.3" fill="url(#cg)" opacity="0.62" stroke="url(#cg)" stroke-width="1.6" stroke-linejoin="round"/>
<polygon points="211.6,235.4 205.6,230.7 207.7,227.2 214.7,231.2" fill="url(#cg)" opacity="0.65" stroke="url(#cg)" stroke-width="1.6" stroke-linejoin="round"/>
<polygon points="213.5,229.6 219.5,227.4 219.8,232.4 215.9,234.5" fill="url(#cg)" opacity="0.51" stroke="url(#cg)" stroke-width="1.6" stroke-linejoin="round"/>
<polygon points="230.3,231.8 222.3,229.4 226.1,226.3" fill="url(#cg)" opacity="0.65" stroke="url(#cg)" stroke-width="1.6" stroke-linejoin="round"/>
<polygon points="235.4,233.2 236.8,227.3 242.5,229.4 241.1,234.7" fill="url(#cg)" opacity="0.42" stroke="url(#cg)" stroke-width="1.6" stroke-linejoin="round"/>
<polygon points="255.0,234.4 248.9,234.5 245.1,228.9 251.9,229.0" fill="url(#cg)" opacity="0.64" stroke="url(#cg)" stroke-width="1.6" stroke-linejoin="round"/>
<polygon points="259.1,232.6 252.9,232.2 252.5,225.6 258.7,226.3" fill="url(#cg)" opacity="0.81" stroke="url(#cg)" stroke-width="1.6" stroke-linejoin="round"/>
<polygon points="269.9,230.2 265.7,233.0 260.2,228.3 264.6,224.0" fill="url(#cg)" opacity="0.61" stroke="url(#cg)" stroke-width="1.6" stroke-linejoin="round"/>
<polygon points="275.5,227.3 276.5,230.4 272.6,232.9 270.0,229.2" fill="url(#cg)" opacity="0.44" stroke="url(#cg)" stroke-width="1.6" stroke-linejoin="round"/>
<polygon points="281.5,233.2 279.5,229.6 283.4,227.7 284.8,230.7" fill="url(#cg)" opacity="0.57" stroke="url(#cg)" stroke-width="1.6" stroke-linejoin="round"/>
<polygon points="289.3,225.7 294.5,229.3 288.1,234.5" fill="url(#cg)" opacity="0.86" stroke="url(#cg)" stroke-width="1.6" stroke-linejoin="round"/>
<polygon points="206.7,240.3 203.0,235.0 208.4,232.8 210.0,239.2" fill="url(#cg)" opacity="0.49" stroke="url(#cg)" stroke-width="1.6" stroke-linejoin="round"/>
<polygon points="215.2,239.8 213.4,235.9 215.4,232.8 219.2,237.6 218.6,240.4" fill="url(#cg)" opacity="0.54" stroke="url(#cg)" stroke-width="1.6" stroke-linejoin="round"/>
<polygon points="224.4,242.5 219.9,243.2 216.3,241.0 214.7,237.6 221.0,238.2 223.9,239.6" fill="url(#cg)" opacity="0.63" stroke="url(#cg)" stroke-width="1.6" stroke-linejoin="round"/>
<polygon points="235.0,235.9 232.4,239.2 226.2,239.6 226.3,237.0 232.2,235.1" fill="url(#cg)" opacity="0.60" stroke="url(#cg)" stroke-width="1.6" stroke-linejoin="round"/>
<polygon points="240.4,235.1 239.4,240.1 233.5,239.0 235.1,235.7" fill="url(#cg)" opacity="0.49" stroke="url(#cg)" stroke-width="1.6" stroke-linejoin="round"/>
<polygon points="244.5,237.0 248.1,237.1 246.6,242.4 242.2,245.9 241.1,240.9" fill="url(#cg)" opacity="0.58" stroke="url(#cg)" stroke-width="1.6" stroke-linejoin="round"/>
<polygon points="258.4,240.4 251.0,239.4 248.8,235.8 250.7,234.5 256.5,236.2" fill="url(#cg)" opacity="0.67" stroke="url(#cg)" stroke-width="1.6" stroke-linejoin="round"/>
<polygon points="261.8,239.7 264.0,236.3 267.7,238.6 267.5,244.1 263.4,244.0" fill="url(#cg)" opacity="0.49" stroke="url(#cg)" stroke-width="1.6" stroke-linejoin="round"/>
<polygon points="269.3,238.1 270.5,240.6 265.6,244.5 263.9,242.0" fill="url(#cg)" opacity="0.45" stroke="url(#cg)" stroke-width="1.6" stroke-linejoin="round"/>
<polygon points="282.2,242.4 276.5,242.4 275.2,238.4 282.3,237.1" fill="url(#cg)" opacity="0.59" stroke="url(#cg)" stroke-width="1.6" stroke-linejoin="round"/>
<polygon points="289.8,237.1 290.5,239.6 287.1,244.3 283.9,244.5 282.1,241.3 284.2,239.1" fill="url(#cg)" opacity="0.50" stroke="url(#cg)" stroke-width="1.6" stroke-linejoin="round"/>
<polygon points="216.8,244.8 216.0,248.1 211.1,251.1 208.2,251.8 206.3,249.6 212.5,245.1" fill="url(#cg)" opacity="0.43" stroke="url(#cg)" stroke-width="1.6" stroke-linejoin="round"/>
<polygon points="233.8,247.3 231.9,250.8 224.2,250.5 221.4,248.3 227.5,245.8" fill="url(#cg)" opacity="0.56" stroke="url(#cg)" stroke-width="1.6" stroke-linejoin="round"/>
<polygon points="236.3,253.1 233.2,250.0 234.2,245.7 238.2,245.7 239.9,249.6 239.0,253.6" fill="url(#cg)" opacity="0.71" stroke="url(#cg)" stroke-width="1.6" stroke-linejoin="round"/>
<polygon points="245.7,250.5 242.2,248.8 241.6,245.0 246.5,245.4 247.2,248.2" fill="url(#cg)" opacity="0.62" stroke="url(#cg)" stroke-width="1.6" stroke-linejoin="round"/>
<polygon points="251.2,250.2 250.1,244.6 254.5,243.3 256.8,249.8" fill="url(#cg)" opacity="0.58" stroke="url(#cg)" stroke-width="1.6" stroke-linejoin="round"/>
<polygon points="261.9,245.6 257.1,246.8 256.1,241.6 260.2,241.5" fill="url(#cg)" opacity="0.56" stroke="url(#cg)" stroke-width="1.6" stroke-linejoin="round"/>
<polygon points="263.9,244.0 269.3,245.7 266.8,252.3 260.3,249.8" fill="url(#cg)" opacity="0.66" stroke="url(#cg)" stroke-width="1.6" stroke-linejoin="round"/>
<polygon points="270.9,248.7 273.1,243.9 275.2,249.8" fill="url(#cg)" opacity="0.62" stroke="url(#cg)" stroke-width="1.6" stroke-linejoin="round"/>
<polygon points="278.4,246.8 280.3,241.0 283.0,247.9" fill="url(#cg)" opacity="0.59" stroke="url(#cg)" stroke-width="1.6" stroke-linejoin="round"/>
<polygon points="290.0,244.2 293.7,237.4 294.3,247.4 290.5,249.4" fill="url(#cg)" opacity="0.79" stroke="url(#cg)" stroke-width="1.6" stroke-linejoin="round"/>
</g></g>
<text x="247.25" y="191.20" font-size="5.6" class="ml" text-anchor="middle">PA + NAC</text>
<path d="M115.2 181.4H125.8" stroke="#fff" stroke-width="0.9"/>
<text x="120.6" y="179.9" font-size="3.5" fill="#fff" font-family="Liberation Sans, sans-serif" text-anchor="middle">50μm</text>
<rect x="43.40" y="274.30" width="80.30" height="10.30" fill="#eeeeee"/>
<g filter="url(#blur2)">
<rect x="45.40" y="275.30" width="10.80" height="8.30" fill="#dadada" opacity="0.5"/>
<rect x="45.60" y="277.25" width="10.40" height="4.80" rx="1.0" fill="#717171"/>
<rect x="45.90" y="278.39" width="9.80" height="2.80" rx="0.8" fill="#0d0d0d"/>
<rect x="58.70" y="275.30" width="10.80" height="8.30" fill="#dadada" opacity="0.5"/>
<rect x="58.90" y="277.65" width="10.40" height="4.00" rx="1.0" fill="#8c8c8c"/>
<rect x="59.20" y="278.75" width="9.80" height="2.00" rx="0.8" fill="#444444"/>
<rect x="59.40" y="280.95" width="9.40" height="1.60" rx="1.0" fill="#888" opacity="0.35"/>
<rect x="59.40" y="276.45" width="9.40" height="1.40" rx="1.0" fill="#999" opacity="0.28"/>
<rect x="72.00" y="275.30" width="10.80" height="8.30" fill="#dadada" opacity="0.5"/>
<rect x="72.20" y="277.65" width="10.40" height="4.00" rx="1.0" fill="#898989"/>
<rect x="72.50" y="278.62" width="9.80" height="2.00" rx="0.8" fill="#3d3d3d"/>
<rect x="72.70" y="280.95" width="9.40" height="1.60" rx="1.0" fill="#888" opacity="0.30"/>
<rect x="72.70" y="276.45" width="9.40" height="1.40" rx="1.0" fill="#999" opacity="0.24"/>
<rect x="85.40" y="275.30" width="10.80" height="8.30" fill="#dadada" opacity="0.5"/>
<rect x="85.60" y="277.35" width="10.40" height="4.60" rx="1.0" fill="#757575"/>
<rect x="85.90" y="278.25" width="9.80" height="2.60" rx="0.8" fill="#161616"/>
<rect x="98.80" y="275.30" width="10.80" height="8.30" fill="#dadada" opacity="0.5"/>
<rect x="99.00" y="277.85" width="10.40" height="3.60" rx="1.0" fill="#cecece"/>
<rect x="99.30" y="278.85" width="9.80" height="1.60" rx="0.8" fill="#c6c6c6"/>
<rect x="99.50" y="280.75" width="9.40" height="1.60" rx="1.0" fill="#888" opacity="0.15"/>
<rect x="99.50" y="276.65" width="9.40" height="1.40" rx="1.0" fill="#999" opacity="0.12"/>
<rect x="112.10" y="275.30" width="10.80" height="8.30" fill="#dadada" opacity="0.5"/>
<rect x="112.30" y="277.45" width="10.40" height="4.40" rx="1.0" fill="#7b7b7b"/>
<rect x="112.60" y="278.41" width="9.80" height="2.40" rx="0.8" fill="#212121"/>
</g>
<rect x="43.40" y="274.30" width="80.30" height="10.30" fill="none" stroke="#444" stroke-width="0.7"/>
<text x="39.5" y="281.95" font-size="5.2" class="bl" text-anchor="end">eNOS</text>
<rect x="43.40" y="288.80" width="80.30" height="11.20" fill="#eeeeee"/>
<g filter="url(#blur2)">
<rect x="45.40" y="289.80" width="10.80" height="9.20" fill="#dadada" opacity="0.5"/>
<rect x="45.60" y="292.20" width="10.40" height="4.40" rx="1.0" fill="#767676"/>
<rect x="45.90" y="293.05" width="9.80" height="2.40" rx="0.8" fill="#181818"/>
<rect x="46.10" y="295.90" width="9.40" height="1.60" rx="1.0" fill="#888" opacity="0.15"/>
<rect x="46.10" y="291.00" width="9.40" height="1.40" rx="1.0" fill="#999" opacity="0.12"/>
<rect x="58.70" y="289.80" width="10.80" height="9.20" fill="#dadada" opacity="0.5"/>
<rect x="58.90" y="292.30" width="10.40" height="4.20" rx="1.0" fill="#9f9f9f"/>
<rect x="59.20" y="293.44" width="9.80" height="2.20" rx="0.8" fill="#696969"/>
<rect x="59.40" y="295.80" width="9.40" height="1.60" rx="1.0" fill="#888" opacity="0.55"/>
<rect x="59.40" y="291.10" width="9.40" height="1.40" rx="1.0" fill="#999" opacity="0.44"/>
<rect x="72.00" y="289.80" width="10.80" height="9.20" fill="#dadada" opacity="0.5"/>
<rect x="72.20" y="292.30" width="10.40" height="4.20" rx="1.0" fill="#9f9f9f"/>
<rect x="72.50" y="293.41" width="9.80" height="2.20" rx="0.8" fill="#696969"/>
<rect x="72.70" y="295.80" width="9.40" height="1.60" rx="1.0" fill="#888" opacity="0.45"/>
<rect x="72.70" y="291.10" width="9.40" height="1.40" rx="1.0" fill="#999" opacity="0.36"/>
<rect x="85.40" y="289.80" width="10.80" height="9.20" fill="#dadada" opacity="0.5"/>
<rect x="85.60" y="292.20" width="10.40" height="4.40" rx="1.0" fill="#7b7b7b"/>
<rect x="85.90" y="293.10" width="9.80" height="2.40" rx="0.8" fill="#212121"/>
<rect x="86.10" y="295.90" width="9.40" height="1.60" rx="1.0" fill="#888" opacity="0.15"/>
<rect x="86.10" y="291.00" width="9.40" height="1.40" rx="1.0" fill="#999" opacity="0.12"/>
<rect x="98.80" y="289.80" width="10.80" height="9.20" fill="#dadada" opacity="0.5"/>
<rect x="99.00" y="292.40" width="10.40" height="4.00" rx="1.0" fill="#a5a5a5"/>
<rect x="99.30" y="293.40" width="9.80" height="2.00" rx="0.8" fill="#747474"/>
<rect x="99.50" y="295.70" width="9.40" height="1.60" rx="1.0" fill="#888" opacity="0.45"/>
<rect x="99.50" y="291.20" width="9.40" height="1.40" rx="1.0" fill="#999" opacity="0.36"/>
<rect x="112.10" y="289.80" width="10.80" height="9.20" fill="#dadada" opacity="0.5"/>
<rect x="112.30" y="292.10" width="10.40" height="4.60" rx="1.0" fill="#767676"/>
<rect x="112.60" y="293.08" width="9.80" height="2.60" rx="0.8" fill="#181818"/>
<rect x="112.80" y="296.00" width="9.40" height="1.60" rx="1.0" fill="#888" opacity="0.25"/>
<rect x="112.80" y="290.90" width="9.40" height="1.40" rx="1.0" fill="#999" opacity="0.20"/>
</g>
<rect x="43.40" y="288.80" width="80.30" height="11.20" fill="none" stroke="#444" stroke-width="0.7"/>
<text x="39.5" y="296.90" font-size="5.2" class="bl" text-anchor="end">p-eNOS (S1177)</text>
<rect x="43.40" y="304.00" width="80.30" height="11.50" fill="#eeeeee"/>
<g filter="url(#blur2)">
<rect x="45.40" y="305.00" width="10.80" height="9.50" fill="#dadada" opacity="0.5"/>
<rect x="45.60" y="308.25" width="10.40" height="3.60" rx="1.0" fill="#9f9f9f"/>
<rect x="45.90" y="309.43" width="9.80" height="1.60" rx="0.8" fill="#696969"/>
<rect x="58.70" y="305.00" width="10.80" height="9.50" fill="#dadada" opacity="0.5"/>
<rect x="58.90" y="307.55" width="10.40" height="5.00" rx="1.0" fill="#6e6e6e"/>
<rect x="59.20" y="308.73" width="9.80" height="3.00" rx="0.8" fill="#070707"/>
<rect x="72.00" y="305.00" width="10.80" height="9.50" fill="#dadada" opacity="0.5"/>
<rect x="72.20" y="307.75" width="10.40" height="4.60" rx="1.0" fill="#727272"/>
<rect x="72.50" y="308.57" width="9.80" height="2.60" rx="0.8" fill="#0f0f0f"/>
<rect x="85.40" y="305.00" width="10.80" height="9.50" fill="#dadada" opacity="0.5"/>
<rect x="85.60" y="308.25" width="10.40" height="3.60" rx="1.0" fill="#a5a5a5"/>
<rect x="85.90" y="309.08" width="9.80" height="1.60" rx="0.8" fill="#747474"/>
<rect x="98.80" y="305.00" width="10.80" height="9.50" fill="#dadada" opacity="0.5"/>
<rect x="99.00" y="307.55" width="10.40" height="5.00" rx="1.0" fill="#6e6e6e"/>
<rect x="99.30" y="308.68" width="9.80" height="3.00" rx="0.8" fill="#070707"/>
<rect x="112.10" y="305.00" width="10.80" height="9.50" fill="#dadada" opacity="0.5"/>
<rect x="112.30" y="308.20" width="10.40" height="3.70" rx="1.0" fill="#a5a5a5"/>
<rect x="112.60" y="309.29" width="9.80" height="1.70" rx="0.8" fill="#747474"/>
</g>
<rect x="43.40" y="304.00" width="80.30" height="11.50" fill="none" stroke="#444" stroke-width="0.7"/>
<text x="39.5" y="312.25" font-size="5.2" class="bl" text-anchor="end">SOD2</text>
<rect x="43.40" y="319.70" width="80.30" height="11.70" fill="#eeeeee"/>
<g filter="url(#blur2)">
<rect x="45.40" y="320.70" width="10.80" height="9.70" fill="#dadada" opacity="0.5"/>
<rect x="45.60" y="322.55" width="10.40" height="6.00" rx="1.0" fill="#6e6e6e"/>
<rect x="45.90" y="323.45" width="9.80" height="4.00" rx="0.8" fill="#070707"/>
<rect x="58.70" y="320.70" width="10.80" height="9.70" fill="#dadada" opacity="0.5"/>
<rect x="58.90" y="322.95" width="10.40" height="5.20" rx="1.0" fill="#979797"/>
<rect x="59.20" y="323.97" width="9.80" height="3.20" rx="0.8" fill="#595959"/>
<rect x="72.00" y="320.70" width="10.80" height="9.70" fill="#dadada" opacity="0.5"/>
<rect x="72.20" y="322.75" width="10.40" height="5.60" rx="1.0" fill="#7b7b7b"/>
<rect x="72.50" y="323.70" width="9.80" height="3.60" rx="0.8" fill="#212121"/>
<rect x="85.40" y="320.70" width="10.80" height="9.70" fill="#dadada" opacity="0.5"/>
<rect x="85.60" y="322.55" width="10.40" height="6.00" rx="1.0" fill="#717171"/>
<rect x="85.90" y="323.59" width="9.80" height="4.00" rx="0.8" fill="#0d0d0d"/>
<rect x="98.80" y="320.70" width="10.80" height="9.70" fill="#dadada" opacity="0.5"/>
<rect x="99.00" y="323.05" width="10.40" height="5.00" rx="1.0" fill="#9f9f9f"/>
<rect x="99.30" y="324.10" width="9.80" height="3.00" rx="0.8" fill="#696969"/>
<rect x="112.10" y="320.70" width="10.80" height="9.70" fill="#dadada" opacity="0.5"/>
<rect x="112.30" y="322.65" width="10.40" height="5.80" rx="1.0" fill="#767676"/>
<rect x="112.60" y="323.48" width="9.80" height="3.80" rx="0.8" fill="#181818"/>
</g>
<rect x="43.40" y="319.70" width="80.30" height="11.70" fill="none" stroke="#444" stroke-width="0.7"/>
<text x="39.5" y="328.05" font-size="5.2" class="bl" text-anchor="end">DRP1</text>
<rect x="43.40" y="336.10" width="80.30" height="10.50" fill="#eeeeee"/>
<g filter="url(#blur2)">
<rect x="45.40" y="337.10" width="10.80" height="8.50" fill="#dadada" opacity="0.5"/>
<rect x="45.60" y="339.05" width="10.40" height="4.60" rx="1.0" fill="#797979"/>
<rect x="45.90" y="339.94" width="9.80" height="2.60" rx="0.8" fill="#1c1c1c"/>
<rect x="58.70" y="337.10" width="10.80" height="8.50" fill="#dadada" opacity="0.5"/>
<rect x="58.90" y="339.25" width="10.40" height="4.20" rx="1.0" fill="#979797"/>
<rect x="59.20" y="340.09" width="9.80" height="2.20" rx="0.8" fill="#595959"/>
<rect x="72.00" y="337.10" width="10.80" height="8.50" fill="#dadada" opacity="0.5"/>
<rect x="72.20" y="339.25" width="10.40" height="4.20" rx="1.0" fill="#919191"/>
<rect x="72.50" y="340.21" width="9.80" height="2.20" rx="0.8" fill="#4c4c4c"/>
<rect x="85.40" y="337.10" width="10.80" height="8.50" fill="#dadada" opacity="0.5"/>
<rect x="85.60" y="339.05" width="10.40" height="4.60" rx="1.0" fill="#767676"/>
<rect x="85.90" y="339.91" width="9.80" height="2.60" rx="0.8" fill="#181818"/>
<rect x="98.80" y="337.10" width="10.80" height="8.50" fill="#dadada" opacity="0.5"/>
<rect x="99.00" y="339.25" width="10.40" height="4.20" rx="1.0" fill="#979797"/>
<rect x="99.30" y="340.08" width="9.80" height="2.20" rx="0.8" fill="#595959"/>
<rect x="112.10" y="337.10" width="10.80" height="8.50" fill="#dadada" opacity="0.5"/>
<rect x="112.30" y="339.05" width="10.40" height="4.60" rx="1.0" fill="#7b7b7b"/>
<rect x="112.60" y="340.01" width="9.80" height="2.60" rx="0.8" fill="#212121"/>
</g>
<rect x="43.40" y="336.10" width="80.30" height="10.50" fill="none" stroke="#444" stroke-width="0.7"/>
<text x="39.5" y="343.85" font-size="5.2" class="bl" text-anchor="end">MFN2</text>
<rect x="43.40" y="351.30" width="80.30" height="11.20" fill="#eeeeee"/>
<g filter="url(#blur2)">
<rect x="45.40" y="352.30" width="10.80" height="9.20" fill="#dadada" opacity="0.5"/>
<rect x="45.60" y="354.70" width="10.40" height="4.40" rx="1.0" fill="#757575"/>
<rect x="45.90" y="355.75" width="9.80" height="2.40" rx="0.8" fill="#161616"/>
<rect x="58.70" y="352.30" width="10.80" height="9.20" fill="#dadada" opacity="0.5"/>
<rect x="58.90" y="354.90" width="10.40" height="4.00" rx="1.0" fill="#8c8c8c"/>
<rect x="59.20" y="356.00" width="9.80" height="2.00" rx="0.8" fill="#444444"/>
<rect x="72.00" y="352.30" width="10.80" height="9.20" fill="#dadada" opacity="0.5"/>
<rect x="72.20" y="354.80" width="10.40" height="4.20" rx="1.0" fill="#7e7e7e"/>
<rect x="72.50" y="355.92" width="9.80" height="2.20" rx="0.8" fill="#272727"/>
<rect x="85.40" y="352.30" width="10.80" height="9.20" fill="#dadada" opacity="0.5"/>
<rect x="85.60" y="354.60" width="10.40" height="4.60" rx="1.0" fill="#757575"/>
<rect x="85.90" y="355.78" width="9.80" height="2.60" rx="0.8" fill="#161616"/>
<rect x="98.80" y="352.30" width="10.80" height="9.20" fill="#dadada" opacity="0.5"/>
<rect x="99.00" y="354.80" width="10.40" height="4.20" rx="1.0" fill="#868686"/>
<rect x="99.30" y="355.90" width="9.80" height="2.20" rx="0.8" fill="#363636"/>
<rect x="112.10" y="352.30" width="10.80" height="9.20" fill="#dadada" opacity="0.5"/>
<rect x="112.30" y="354.70" width="10.40" height="4.40" rx="1.0" fill="#818181"/>
<rect x="112.60" y="355.87" width="9.80" height="2.40" rx="0.8" fill="#2e2e2e"/>
</g>
<rect x="43.40" y="351.30" width="80.30" height="11.20" fill="none" stroke="#444" stroke-width="0.7"/>
<text x="39.5" y="359.40" font-size="5.2" class="bl" text-anchor="end">NDUFS3</text>
<rect x="43.40" y="367.00" width="80.30" height="10.80" fill="#eeeeee"/>
<g filter="url(#blur2)">
<rect x="45.40" y="368.00" width="10.80" height="8.80" fill="#dadada" opacity="0.5"/>
<rect x="45.60" y="370.20" width="10.40" height="4.40" rx="1.0" fill="#757575"/>
<rect x="45.90" y="371.32" width="9.80" height="2.40" rx="0.8" fill="#161616"/>
<rect x="58.70" y="368.00" width="10.80" height="8.80" fill="#dadada" opacity="0.5"/>
<rect x="58.90" y="370.30" width="10.40" height="4.20" rx="1.0" fill="#868686"/>
<rect x="59.20" y="371.43" width="9.80" height="2.20" rx="0.8" fill="#363636"/>
<rect x="72.00" y="368.00" width="10.80" height="8.80" fill="#dadada" opacity="0.5"/>
<rect x="72.20" y="370.30" width="10.40" height="4.20" rx="1.0" fill="#868686"/>
<rect x="72.50" y="371.29" width="9.80" height="2.20" rx="0.8" fill="#363636"/>
<rect x="85.40" y="368.00" width="10.80" height="8.80" fill="#dadada" opacity="0.5"/>
<rect x="85.60" y="370.10" width="10.40" height="4.60" rx="1.0" fill="#737373"/>
<rect x="85.90" y="371.00" width="9.80" height="2.60" rx="0.8" fill="#111111"/>
<rect x="98.80" y="368.00" width="10.80" height="8.80" fill="#dadada" opacity="0.5"/>
<rect x="99.00" y="370.20" width="10.40" height="4.40" rx="1.0" fill="#818181"/>
<rect x="99.30" y="371.00" width="9.80" height="2.40" rx="0.8" fill="#2e2e2e"/>
<rect x="112.10" y="368.00" width="10.80" height="8.80" fill="#dadada" opacity="0.5"/>
<rect x="112.30" y="370.30" width="10.40" height="4.20" rx="1.0" fill="#868686"/>
<rect x="112.60" y="371.37" width="9.80" height="2.20" rx="0.8" fill="#363636"/>
</g>
<rect x="43.40" y="367.00" width="80.30" height="10.80" fill="none" stroke="#444" stroke-width="0.7"/>
<text x="39.5" y="374.90" font-size="5.2" class="bl" text-anchor="end">SDHB</text>
<rect x="43.40" y="381.70" width="80.30" height="10.60" fill="#eeeeee"/>
<g filter="url(#blur2)">
<rect x="45.40" y="382.70" width="10.80" height="8.60" fill="#dadada" opacity="0.5"/>
<rect x="45.60" y="384.20" width="10.40" height="5.60" rx="1.0" fill="#707070"/>
<rect x="45.90" y="385.13" width="9.80" height="3.60" rx="0.8" fill="#0b0b0b"/>
<rect x="58.70" y="382.70" width="10.80" height="8.60" fill="#dadada" opacity="0.5"/>
<rect x="58.90" y="384.40" width="10.40" height="5.20" rx="1.0" fill="#7e7e7e"/>
<rect x="59.20" y="385.26" width="9.80" height="3.20" rx="0.8" fill="#272727"/>
<rect x="72.00" y="382.70" width="10.80" height="8.60" fill="#dadada" opacity="0.5"/>
<rect x="72.20" y="384.40" width="10.40" height="5.20" rx="1.0" fill="#7e7e7e"/>
<rect x="72.50" y="385.46" width="9.80" height="3.20" rx="0.8" fill="#272727"/>
<rect x="85.40" y="382.70" width="10.80" height="8.60" fill="#dadada" opacity="0.5"/>
<rect x="85.60" y="384.10" width="10.40" height="5.80" rx="1.0" fill="#737373"/>
<rect x="85.90" y="384.93" width="9.80" height="3.80" rx="0.8" fill="#111111"/>
<rect x="98.80" y="382.70" width="10.80" height="8.60" fill="#dadada" opacity="0.5"/>
<rect x="99.00" y="384.40" width="10.40" height="5.20" rx="1.0" fill="#818181"/>
<rect x="99.30" y="385.41" width="9.80" height="3.20" rx="0.8" fill="#2e2e2e"/>
<rect x="112.10" y="382.70" width="10.80" height="8.60" fill="#dadada" opacity="0.5"/>
<rect x="112.30" y="384.30" width="10.40" height="5.40" rx="1.0" fill="#797979"/>
<rect x="112.60" y="385.25" width="9.80" height="3.40" rx="0.8" fill="#1c1c1c"/>
</g>
<rect x="43.40" y="381.70" width="80.30" height="10.60" fill="none" stroke="#444" stroke-width="0.7"/>
<text x="39.5" y="389.50" font-size="5.2" class="bl" text-anchor="end">UQCRC1</text>
<rect x="43.40" y="398.90" width="80.30" height="9.80" fill="#eeeeee"/>
<g filter="url(#blur2)">
<rect x="45.40" y="399.90" width="10.80" height="7.80" fill="#dadada" opacity="0.5"/>
<rect x="45.60" y="401.20" width="10.40" height="5.20" rx="1.0" fill="#6e6e6e"/>
<rect x="45.90" y="402.09" width="9.80" height="3.20" rx="0.8" fill="#070707"/>
<rect x="58.70" y="399.90" width="10.80" height="7.80" fill="#dadada" opacity="0.5"/>
<rect x="58.90" y="401.30" width="10.40" height="5.00" rx="1.0" fill="#6e6e6e"/>
<rect x="59.20" y="402.48" width="9.80" height="3.00" rx="0.8" fill="#070707"/>
<rect x="72.00" y="399.90" width="10.80" height="7.80" fill="#dadada" opacity="0.5"/>
<rect x="72.20" y="401.20" width="10.40" height="5.20" rx="1.0" fill="#6e6e6e"/>
<rect x="72.50" y="402.05" width="9.80" height="3.20" rx="0.8" fill="#070707"/>
<rect x="85.40" y="399.90" width="10.80" height="7.80" fill="#dadada" opacity="0.5"/>
<rect x="85.60" y="401.20" width="10.40" height="5.20" rx="1.0" fill="#6e6e6e"/>
<rect x="85.90" y="402.28" width="9.80" height="3.20" rx="0.8" fill="#070707"/>
<rect x="98.80" y="399.90" width="10.80" height="7.80" fill="#dadada" opacity="0.5"/>
<rect x="99.00" y="401.30" width="10.40" height="5.00" rx="1.0" fill="#6e6e6e"/>
<rect x="99.30" y="402.13" width="9.80" height="3.00" rx="0.8" fill="#070707"/>
<rect x="112.10" y="399.90" width="10.80" height="7.80" fill="#dadada" opacity="0.5"/>
<rect x="112.30" y="401.30" width="10.40" height="5.00" rx="1.0" fill="#6e6e6e"/>
<rect x="112.60" y="402.20" width="9.80" height="3.00" rx="0.8" fill="#070707"/>
</g>
<rect x="43.40" y="398.90" width="80.30" height="9.80" fill="none" stroke="#444" stroke-width="0.7"/>
<text x="39.5" y="406.30" font-size="5.2" class="bl" text-anchor="end">GAPDH</text>
<text transform="translate(48.60 272) rotate(-45)" font-size="5.2" class="ml">Control</text>
<text transform="translate(62.45 272) rotate(-45)" font-size="5.2" class="ml">TBHP</text>
<text transform="translate(76.30 272) rotate(-45)" font-size="5.2" class="ml">Antimycin A</text>
<text transform="translate(90.15 272) rotate(-45)" font-size="5.2" class="ml">BSA</text>
<text transform="translate(104.00 272) rotate(-45)" font-size="5.2" class="ml">PA</text>
<text transform="translate(117.85 272) rotate(-45)" font-size="5.2" class="ml">PA+NAC</text>
<text x="130.20" y="277.20" font-size="5.2" class="bl">KD</text>
<path d="M124.5 281.80H128" stroke="#333" stroke-width="0.8"/>
<text x="130.20" y="283.40" font-size="5.2" class="bl">130</text>
<path d="M124.5 297.20H128" stroke="#333" stroke-width="0.8"/>
<text x="130.20" y="298.80" font-size="5.2" class="bl">130</text>
<path d="M124.5 306.10H128" stroke="#333" stroke-width="0.8"/>
<text x="130.20" y="307.70" font-size="5.2" class="bl">25</text>
<path d="M124.5 320.80H128" stroke="#333" stroke-width="0.8"/>
<text x="130.20" y="322.40" font-size="5.2" class="bl">90</text>
<path d="M124.5 337.70H128" stroke="#333" stroke-width="0.8"/>
<text x="130.20" y="339.30" font-size="5.2" class="bl">90</text>
<path d="M124.5 359.60H128" stroke="#333" stroke-width="0.8"/>
<text x="130.20" y="361.20" font-size="5.2" class="bl">25</text>
<path d="M124.5 375.80H128" stroke="#333" stroke-width="0.8"/>
<text x="130.20" y="377.40" font-size="5.2" class="bl">25</text>
<path d="M124.5 385.00H128" stroke="#333" stroke-width="0.8"/>
<text x="130.20" y="386.60" font-size="5.2" class="bl">55</text>
<path d="M124.5 406.50H128" stroke="#333" stroke-width="0.8"/>
<text x="130.20" y="408.10" font-size="5.2" class="bl">35</text>
</svg>
</body></html>
